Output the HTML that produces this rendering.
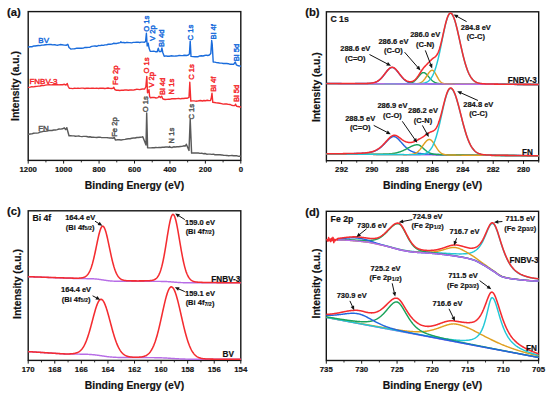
<!DOCTYPE html>
<html><head><meta charset="utf-8"><style>
html,body{margin:0;padding:0;background:#fff;}
body{width:550px;height:394px;overflow:hidden;}
svg{display:block;font-family:"Liberation Sans",sans-serif;}
</style></head><body>
<svg width="550" height="394" viewBox="0 0 550 394">
<rect width="550" height="394" fill="#fff"/>
<rect x="28.2" y="11.6" width="212.6" height="148.8" fill="none" stroke="#151515" stroke-width="1.4"/>
<line x1="28.2" y1="160.4" x2="28.2" y2="163.6" stroke="#151515" stroke-width="1"/>
<line x1="63.63" y1="160.4" x2="63.63" y2="163.6" stroke="#151515" stroke-width="1"/>
<line x1="99.07" y1="160.4" x2="99.07" y2="163.6" stroke="#151515" stroke-width="1"/>
<line x1="134.5" y1="160.4" x2="134.5" y2="163.6" stroke="#151515" stroke-width="1"/>
<line x1="169.93" y1="160.4" x2="169.93" y2="163.6" stroke="#151515" stroke-width="1"/>
<line x1="205.37" y1="160.4" x2="205.37" y2="163.6" stroke="#151515" stroke-width="1"/>
<line x1="240.8" y1="160.4" x2="240.8" y2="163.6" stroke="#151515" stroke-width="1"/>
<line x1="45.92" y1="160.4" x2="45.92" y2="162.4" stroke="#151515" stroke-width="0.9"/>
<line x1="81.35" y1="160.4" x2="81.35" y2="162.4" stroke="#151515" stroke-width="0.9"/>
<line x1="116.78" y1="160.4" x2="116.78" y2="162.4" stroke="#151515" stroke-width="0.9"/>
<line x1="152.22" y1="160.4" x2="152.22" y2="162.4" stroke="#151515" stroke-width="0.9"/>
<line x1="187.65" y1="160.4" x2="187.65" y2="162.4" stroke="#151515" stroke-width="0.9"/>
<line x1="223.08" y1="160.4" x2="223.08" y2="162.4" stroke="#151515" stroke-width="0.9"/>
<text x="28.2" y="172" font-size="7.8" font-weight="bold" text-anchor="middle" fill="#111" stroke="#111" stroke-width="0.18" >1200</text>
<text x="63.63" y="172" font-size="7.8" font-weight="bold" text-anchor="middle" fill="#111" stroke="#111" stroke-width="0.18" >1000</text>
<text x="99.07" y="172" font-size="7.8" font-weight="bold" text-anchor="middle" fill="#111" stroke="#111" stroke-width="0.18" >800</text>
<text x="134.5" y="172" font-size="7.8" font-weight="bold" text-anchor="middle" fill="#111" stroke="#111" stroke-width="0.18" >600</text>
<text x="169.93" y="172" font-size="7.8" font-weight="bold" text-anchor="middle" fill="#111" stroke="#111" stroke-width="0.18" >400</text>
<text x="205.37" y="172" font-size="7.8" font-weight="bold" text-anchor="middle" fill="#111" stroke="#111" stroke-width="0.18" >200</text>
<text x="240.8" y="172" font-size="7.8" font-weight="bold" text-anchor="middle" fill="#111" stroke="#111" stroke-width="0.18" >0</text>
<text x="134.5" y="189.2" font-size="10.4" font-weight="bold" text-anchor="middle" fill="#111" stroke="#111" stroke-width="0.18" >Binding Energy (eV)</text>
<text x="18.6" y="86" font-size="10.3" font-weight="bold" text-anchor="middle" fill="#111" stroke="#111" stroke-width="0.18" transform="rotate(-90 18.6 86)" >Intensity (a.u.)</text>
<text x="7" y="16.3" font-size="11.3" font-weight="bold" text-anchor="start" fill="#111" stroke="#111" stroke-width="0.18" >(a)</text>
<path d="M28.6 47 L30.23 46.74 L31.86 46.75 L33.49 46.05 L35.11 46.06 L36.74 45.75 L38.37 45.51 L40 45.6 L41.88 45.14 L43.76 45.01 L45.64 44.81 L47.52 44.67 L49.4 44.4 L51.05 44.49 L52.7 44.83 L54.35 44.64 L56 45 L58 45.2 L60 44.54 L62 44.8 L64.25 45.12 L66.5 45.2 L67.8 44.3 L69 47.5 L70.8 49.1 L72.64 48.86 L74.48 48.78 L76.32 48.31 L78.16 48.17 L80 48.2 L81.67 48.19 L83.33 48.09 L85 47.42 L86.67 47.47 L88.33 47.38 L90 47.18 L91.67 46.39 L93.33 46.14 L95 46.02 L96.67 46.3 L98.33 45.54 L100 45.6 L101.68 45.29 L103.37 45.42 L105.05 44.87 L106.73 44.73 L108.42 44.22 L110.1 44.23 L111.78 44.08 L113.47 43.26 L115.15 43.53 L116.83 43.44 L118.52 43.02 L120.2 42.6 L120.9 41.8 L121.6 42.6 L123.28 42.45 L124.96 42.8 L126.64 42.32 L128.32 42.56 L130 42.6 L131.61 42.85 L133.22 42.39 L134.83 42.35 L136.44 42.21 L138.06 42.1 L139.67 42.53 L141.28 42.16 L142.89 42.17 L144.5 42.3 L145.6 41.4 L146.4 33.3 L147.2 46 L148.2 43.2 L149 48 L150.2 51.2 L151.95 51.34 L153.7 51.19 L155.45 51.7 L157.2 51.8 L158.3 48.2 L159.3 51.6 L161 51.6 L161.9 48 L162.8 52.5 L164.2 56.2 L165.89 55.92 L167.57 56.21 L169.26 56.25 L170.94 55.81 L172.63 56 L174.31 56.16 L176 56 L177.76 55.8 L179.51 55.4 L181.27 55.6 L183.03 55.54 L184.79 55.3 L186.54 55.45 L188.3 55 L189.4 54 L190.2 41.1 L191 56.4 L195 56.8 L196.6 56.66 L198.2 56.68 L199.8 55.95 L201.4 55.75 L203 56.02 L204.6 55.53 L206.2 55.17 L207.8 55.5 L209.4 55 L210.8 53.5 L211.7 40.5 L212.2 44 L213.2 62 L214.89 62.11 L216.57 62.6 L218.26 62.8 L219.94 63.13 L221.63 63.16 L223.31 63.46 L225 63.5 L226.72 63.57 L228.44 63.7 L230.16 64.32 L231.88 64.17 L233.6 64.4 L235.3 62 L236.3 64.8 L238.4 65.78 L240.5 66.1" fill="none" stroke="#1a6cdc" stroke-width="1.4" stroke-linejoin="round" stroke-linecap="round" />
<path d="M28.6 87.4 L30.23 87.16 L31.86 86.67 L33.49 86.83 L35.11 86.55 L36.74 86.34 L38.37 86.08 L40 86 L41.8 85.55 L43.6 85.6 L45.4 85.14 L47.2 84.88 L49 84.8 L50.63 84.87 L52.26 84.79 L53.89 84.5 L55.51 84.75 L57.14 84.51 L58.77 84.91 L60.4 84.7 L62.45 84.75 L64.5 84.3 L66 85 L67.3 83.6 L68.2 86.5 L69.4 88.4 L71.12 88.4 L72.83 88.64 L74.55 88.11 L76.27 88.4 L77.98 88.1 L79.7 88.35 L81.42 88.12 L83.13 88.14 L84.85 88.47 L86.57 88.21 L88.28 88.12 L90 88.4 L91.64 88.19 L93.29 88.27 L94.93 88.33 L96.57 88.13 L98.21 88.43 L99.86 88.3 L101.5 88.3 L103.14 88.21 L104.79 88.48 L106.43 88.31 L108.07 88.01 L109.71 88.37 L111.36 88.54 L113 88.2 L113.8 87.2 L114.8 89.5 L116.5 90.3 L118.19 90.26 L119.88 90.5 L121.56 90.08 L123.25 90.2 L124.94 90.06 L126.62 90.03 L128.31 90.23 L130 90 L131.61 89.92 L133.22 90.12 L134.83 89.73 L136.44 89.31 L138.06 89.41 L139.67 89.65 L141.28 89.23 L142.89 88.87 L144.5 89.1 L145.8 87 L146.8 76.4 L147.5 92.8 L148.5 91.5 L149 89.6 L149.6 96.2 L150.2 97.7 L152.12 97.5 L154.05 97.35 L155.97 97.97 L157.9 97.6 L159.1 96.2 L160.4 97.6 L161.7 96.2 L162.6 98.6 L163.6 99.3 L165.27 99.56 L166.94 99.37 L168.61 99.16 L170.29 99.2 L171.96 98.71 L173.63 98.73 L175.3 98.82 L176.97 98.63 L178.64 98.34 L180.31 98.92 L181.99 98.47 L183.66 98.45 L185.33 98.25 L187 98.3 L189 97.4 L189.8 82.2 L190.8 101.1 L192.44 100.88 L194.08 100.92 L195.73 101.18 L197.37 101.07 L199.01 100.77 L200.65 100.46 L202.29 100.96 L203.93 100.54 L205.57 100.71 L207.22 100.27 L208.86 100.66 L210.5 100.5 L211.2 98.5 L212 93.2 L212.8 102.4 L214.54 102.55 L216.29 102.86 L218.03 103.03 L219.77 103.21 L221.51 103.58 L223.26 104.1 L225 104 L226.63 104 L228.27 104.4 L229.9 104.48 L231.53 105.23 L233.17 105.44 L234.8 105.6 L235.6 104.2 L236.6 106.2 L240.5 107" fill="none" stroke="#f42c30" stroke-width="1.4" stroke-linejoin="round" stroke-linecap="round" />
<path d="M28.6 134.3 L30.24 134.05 L31.88 133.87 L33.52 133.28 L35.16 133.15 L36.8 133.13 L38.44 132.84 L40.08 132.01 L41.72 131.78 L43.36 131.38 L45 131.4 L46.75 131.1 L48.5 130.55 L50.25 130.59 L52 130.46 L53.75 129.94 L55.5 129.96 L57.25 129.64 L59 128.99 L60.75 129.1 L62.5 128.8 L64.3 127.8 L65.6 129.6 L66.8 127.7 L69 135.8 L70.62 135.71 L72.23 135.89 L73.85 135.88 L75.46 136.24 L77.08 136.14 L78.69 136.02 L80.31 136.37 L81.92 136.61 L83.54 136.36 L85.15 136.37 L86.77 136.57 L88.38 137.03 L90 136.8 L91.66 137.23 L93.31 137.12 L94.97 137.38 L96.63 137.44 L98.29 137.21 L99.94 137.11 L101.6 137.61 L103.26 137.64 L104.91 137.6 L106.57 137.61 L108.23 137.83 L109.89 137.98 L111.54 137.94 L113.2 138.2 L114.3 137.4 L115.4 140.1 L117.32 139.81 L119.24 139.79 L121.16 139.93 L123.08 139.6 L125 139.4 L126.69 139.02 L128.38 138.78 L130.07 138.68 L131.76 138.27 L133.45 138.04 L135.14 138.03 L136.83 137.5 L138.52 137.55 L140.21 137.23 L141.9 137.1 L142.8 136.7 L146 145.1 L146.7 113 L147.6 147.8 L149.25 147.9 L150.89 147.88 L152.54 147.8 L154.18 147.75 L155.83 147.48 L157.48 147.64 L159.12 147.36 L160.77 147.48 L162.42 147.26 L164.06 147.3 L165.71 146.99 L167.35 147.07 L169 147.2 L169.6 146.4 L170.3 147.3 L171.98 147.49 L173.66 146.82 L175.33 147 L177.01 146.83 L178.69 146.73 L180.37 146.42 L182.04 146.36 L183.72 145.84 L185.4 146 L186.3 144.2 L189 150.4 L190.2 119.2 L191.6 153.1 L193.28 152.86 L194.96 153.01 L196.64 153.04 L198.32 153.06 L200 153.4 L201.67 153.26 L203.33 153.67 L205 153.53 L206.67 154.18 L208.33 154.11 L210 154.13 L211.67 154.36 L213.33 154.17 L215 154.75 L216.67 154.8 L218.33 154.84 L220 154.8 L221.71 154.91 L223.42 155.29 L225.12 155.35 L226.83 155.41 L228.54 155.71 L230.25 155.64 L231.96 155.58 L233.67 155.84 L235.38 155.71 L237.08 155.83 L238.79 156.33 L240.5 156.3" fill="none" stroke="#5a5a5a" stroke-width="1.45" stroke-linejoin="round" stroke-linecap="round" />
<text x="38.3" y="43.2" font-size="8.0" font-weight="normal" text-anchor="start" fill="#1a6cdc" stroke="#1a6cdc" stroke-width="0.45" >BV</text>
<text x="29.4" y="83.8" font-size="8.0" font-weight="normal" text-anchor="start" fill="#f42c30" stroke="#f42c30" stroke-width="0.45" >FNBV-3</text>
<text x="38.2" y="130.8" font-size="8.0" font-weight="normal" text-anchor="start" fill="#5a5a5a" stroke="#5a5a5a" stroke-width="0.45" >FN</text>
<text x="149.3" y="31.7" font-size="7.6" font-weight="normal" text-anchor="start" fill="#1a6cdc" stroke="#1a6cdc" stroke-width="0.45" transform="rotate(-90 149.3 31.7)" >O 1s</text>
<text x="154.6" y="41" font-size="7.6" font-weight="normal" text-anchor="start" fill="#1a6cdc" stroke="#1a6cdc" stroke-width="0.45" transform="rotate(-90 154.6 41)" >V 2p</text>
<text x="164.5" y="46.9" font-size="7.6" font-weight="normal" text-anchor="start" fill="#1a6cdc" stroke="#1a6cdc" stroke-width="0.45" transform="rotate(-90 164.5 46.9)" >Bi 4d</text>
<text x="193.1" y="40.4" font-size="7.6" font-weight="normal" text-anchor="start" fill="#1a6cdc" stroke="#1a6cdc" stroke-width="0.45" transform="rotate(-90 193.1 40.4)" >C 1s</text>
<text x="216.5" y="39.4" font-size="7.6" font-weight="normal" text-anchor="start" fill="#1a6cdc" stroke="#1a6cdc" stroke-width="0.45" transform="rotate(-90 216.5 39.4)" >Bi 4f</text>
<text x="239" y="61.2" font-size="7.6" font-weight="normal" text-anchor="start" fill="#1a6cdc" stroke="#1a6cdc" stroke-width="0.45" transform="rotate(-90 239 61.2)" >Bi 5d</text>
<text x="149.1" y="73.4" font-size="7.6" font-weight="normal" text-anchor="start" fill="#f42c30" stroke="#f42c30" stroke-width="0.45" transform="rotate(-90 149.1 73.4)" >O 1s</text>
<text x="154.5" y="87.6" font-size="7.6" font-weight="normal" text-anchor="start" fill="#f42c30" stroke="#f42c30" stroke-width="0.45" transform="rotate(-90 154.5 87.6)" >V 2p</text>
<text x="164.6" y="95" font-size="7.6" font-weight="normal" text-anchor="start" fill="#f42c30" stroke="#f42c30" stroke-width="0.45" transform="rotate(-90 164.6 95)" >Bi 4d</text>
<text x="173.6" y="94.4" font-size="7.6" font-weight="normal" text-anchor="start" fill="#f42c30" stroke="#f42c30" stroke-width="0.45" transform="rotate(-90 173.6 94.4)" >N 1s</text>
<text x="193.8" y="79.8" font-size="7.6" font-weight="normal" text-anchor="start" fill="#f42c30" stroke="#f42c30" stroke-width="0.45" transform="rotate(-90 193.8 79.8)" >C 1s</text>
<text x="216.4" y="91.8" font-size="7.6" font-weight="normal" text-anchor="start" fill="#f42c30" stroke="#f42c30" stroke-width="0.45" transform="rotate(-90 216.4 91.8)" >Bi 4f</text>
<text x="239.3" y="102" font-size="7.6" font-weight="normal" text-anchor="start" fill="#f42c30" stroke="#f42c30" stroke-width="0.45" transform="rotate(-90 239.3 102)" >Bi 5d</text>
<text x="117.5" y="85" font-size="7.6" font-weight="normal" text-anchor="start" fill="#f42c30" stroke="#f42c30" stroke-width="0.45" transform="rotate(-90 117.5 85)" >Fe 2p</text>
<text x="148.4" y="112.3" font-size="7.6" font-weight="normal" text-anchor="start" fill="#5a5a5a" stroke="#5a5a5a" stroke-width="0.45" transform="rotate(-90 148.4 112.3)" >O 1s</text>
<text x="174" y="143.4" font-size="7.6" font-weight="normal" text-anchor="start" fill="#5a5a5a" stroke="#5a5a5a" stroke-width="0.45" transform="rotate(-90 174 143.4)" >N 1s</text>
<text x="193.6" y="119.5" font-size="7.6" font-weight="normal" text-anchor="start" fill="#5a5a5a" stroke="#5a5a5a" stroke-width="0.45" transform="rotate(-90 193.6 119.5)" >C 1s</text>
<text x="117" y="136.8" font-size="7.6" font-weight="normal" text-anchor="start" fill="#5a5a5a" stroke="#5a5a5a" stroke-width="0.45" transform="rotate(-90 117 136.8)" >Fe 2p</text>
<rect x="326.4" y="11.8" width="212.3" height="148.9" fill="none" stroke="#151515" stroke-width="1.4"/>
<line x1="341.56" y1="160.7" x2="341.56" y2="163.9" stroke="#151515" stroke-width="1"/>
<line x1="371.89" y1="160.7" x2="371.89" y2="163.9" stroke="#151515" stroke-width="1"/>
<line x1="402.22" y1="160.7" x2="402.22" y2="163.9" stroke="#151515" stroke-width="1"/>
<line x1="432.55" y1="160.7" x2="432.55" y2="163.9" stroke="#151515" stroke-width="1"/>
<line x1="462.88" y1="160.7" x2="462.88" y2="163.9" stroke="#151515" stroke-width="1"/>
<line x1="493.21" y1="160.7" x2="493.21" y2="163.9" stroke="#151515" stroke-width="1"/>
<line x1="523.54" y1="160.7" x2="523.54" y2="163.9" stroke="#151515" stroke-width="1"/>
<line x1="326.4" y1="160.7" x2="326.4" y2="162.7" stroke="#151515" stroke-width="0.9"/>
<line x1="356.73" y1="160.7" x2="356.73" y2="162.7" stroke="#151515" stroke-width="0.9"/>
<line x1="387.06" y1="160.7" x2="387.06" y2="162.7" stroke="#151515" stroke-width="0.9"/>
<line x1="417.39" y1="160.7" x2="417.39" y2="162.7" stroke="#151515" stroke-width="0.9"/>
<line x1="447.71" y1="160.7" x2="447.71" y2="162.7" stroke="#151515" stroke-width="0.9"/>
<line x1="478.04" y1="160.7" x2="478.04" y2="162.7" stroke="#151515" stroke-width="0.9"/>
<line x1="508.37" y1="160.7" x2="508.37" y2="162.7" stroke="#151515" stroke-width="0.9"/>
<line x1="538.7" y1="160.7" x2="538.7" y2="162.7" stroke="#151515" stroke-width="0.9"/>
<text x="341.56" y="172.3" font-size="7.8" font-weight="bold" text-anchor="middle" fill="#111" stroke="#111" stroke-width="0.18" >292</text>
<text x="371.89" y="172.3" font-size="7.8" font-weight="bold" text-anchor="middle" fill="#111" stroke="#111" stroke-width="0.18" >290</text>
<text x="402.22" y="172.3" font-size="7.8" font-weight="bold" text-anchor="middle" fill="#111" stroke="#111" stroke-width="0.18" >288</text>
<text x="432.55" y="172.3" font-size="7.8" font-weight="bold" text-anchor="middle" fill="#111" stroke="#111" stroke-width="0.18" >286</text>
<text x="462.88" y="172.3" font-size="7.8" font-weight="bold" text-anchor="middle" fill="#111" stroke="#111" stroke-width="0.18" >284</text>
<text x="493.21" y="172.3" font-size="7.8" font-weight="bold" text-anchor="middle" fill="#111" stroke="#111" stroke-width="0.18" >282</text>
<text x="523.54" y="172.3" font-size="7.8" font-weight="bold" text-anchor="middle" fill="#111" stroke="#111" stroke-width="0.18" >280</text>
<text x="432.55" y="189.4" font-size="10.4" font-weight="bold" text-anchor="middle" fill="#111" stroke="#111" stroke-width="0.18" >Binding Energy (eV)</text>
<text x="320.3" y="87.2" font-size="10.3" font-weight="bold" text-anchor="middle" fill="#111" stroke="#111" stroke-width="0.18" transform="rotate(-90 320.3 87.2)" >Intensity (a.u.)</text>
<text x="305.2" y="15.8" font-size="11.3" font-weight="bold" text-anchor="start" fill="#111" stroke="#111" stroke-width="0.18" >(b)</text>
<text x="330.4" y="21.8" font-size="8.7" font-weight="bold" text-anchor="start" fill="#111" stroke="#111" stroke-width="0.18" >C 1s</text>
<path d="M327 83.56 L327.42 83.56 L327.85 83.56 L328.27 83.56 L328.69 83.57 L329.12 83.57 L329.54 83.57 L329.96 83.57 L330.38 83.57 L330.81 83.57 L331.23 83.57 L331.65 83.57 L332.08 83.57 L332.5 83.58 L332.92 83.58 L333.35 83.58 L333.77 83.58 L334.19 83.58 L334.61 83.58 L335.04 83.58 L335.46 83.58 L335.88 83.58 L336.31 83.58 L336.73 83.59 L337.15 83.59 L337.58 83.59 L338 83.59 L338.42 83.59 L338.85 83.59 L339.27 83.59 L339.69 83.59 L340.11 83.59 L340.54 83.59 L340.96 83.59 L341.38 83.59 L341.81 83.6 L342.23 83.6 L342.65 83.6 L343.08 83.6 L343.5 83.6 L343.92 83.6 L344.34 83.6 L344.77 83.6 L345.19 83.6 L345.61 83.6 L346.04 83.6 L346.46 83.6 L346.88 83.6 L347.31 83.6 L347.73 83.6 L348.15 83.6 L348.58 83.6 L349 83.6 L349.42 83.6 L349.84 83.6 L350.27 83.6 L350.69 83.6 L351.11 83.6 L351.54 83.6 L351.96 83.6 L352.38 83.6 L352.81 83.6 L353.23 83.6 L353.65 83.6 L354.07 83.6 L354.5 83.6 L354.92 83.6 L355.34 83.59 L355.77 83.59 L356.19 83.59 L356.61 83.59 L357.04 83.59 L357.46 83.59 L357.88 83.59 L358.31 83.59 L358.73 83.58 L359.15 83.58 L359.57 83.58 L360 83.58 L360.42 83.57 L360.84 83.57 L361.27 83.57 L361.69 83.57 L362.11 83.56 L362.54 83.56 L362.96 83.55 L363.38 83.55 L363.81 83.54 L364.23 83.54 L364.65 83.53 L365.07 83.52 L365.5 83.51 L365.92 83.51 L366.34 83.49 L366.77 83.48 L367.19 83.47 L367.61 83.45 L368.04 83.44 L368.46 83.42 L368.88 83.39 L369.3 83.37 L369.73 83.34 L370.15 83.31 L370.57 83.27 L371 83.22 L371.42 83.17 L371.84 83.12 L372.27 83.06 L372.69 82.98 L373.11 82.9 L373.54 82.81 L373.96 82.71 L374.38 82.6 L374.8 82.47 L375.23 82.33 L375.65 82.18 L376.07 82.01 L376.5 81.82 L376.92 81.61 L377.34 81.38 L377.77 81.13 L378.19 80.87 L378.61 80.58 L379.03 80.26 L379.46 79.93 L379.88 79.57 L380.3 79.19 L380.73 78.79 L381.15 78.36 L381.57 77.92 L382 77.45 L382.42 76.96 L382.84 76.46 L383.27 75.94 L383.69 75.4 L384.11 74.86 L384.53 74.31 L384.96 73.75 L385.38 73.19 L385.8 72.64 L386.23 72.09 L386.65 71.55 L387.07 71.02 L387.5 70.52 L387.92 70.04 L388.34 69.59 L388.76 69.17 L389.19 68.78 L389.61 68.44 L390.03 68.15 L390.46 67.91 L390.88 67.71 L391.3 67.58 L391.73 67.5 L392.15 67.48 L392.57 67.52 L393 67.61 L393.42 67.77 L393.84 67.97 L394.26 68.23 L394.69 68.54 L395.11 68.89 L395.53 69.29 L395.96 69.72 L396.38 70.18 L396.8 70.67 L397.23 71.19 L397.65 71.72 L398.07 72.26 L398.49 72.82 L398.92 73.38 L399.34 73.94 L399.76 74.5 L400.19 75.05 L400.61 75.6 L401.03 76.13 L401.46 76.65 L401.88 77.16 L402.3 77.64 L402.73 78.11 L403.15 78.56 L403.57 78.98 L403.99 79.38 L404.42 79.76 L404.84 80.12 L405.26 80.45 L405.69 80.76 L406.11 81.05 L406.53 81.32 L406.96 81.56 L407.38 81.79 L407.8 81.99 L408.22 82.18 L408.65 82.35 L409.07 82.51 L409.49 82.65 L409.92 82.78 L410.34 82.89 L410.76 82.99 L411.19 83.09 L411.61 83.17 L412.03 83.24 L412.46 83.31 L412.88 83.36 L413.3 83.41 L413.72 83.46 L414.15 83.5 L414.57 83.54 L414.99 83.57 L415.42 83.6 L415.84 83.62 L416.26 83.65 L416.69 83.67 L417.11 83.68 L417.53 83.7 L417.95 83.72 L418.38 83.73 L418.8 83.74 L419.22 83.75 L419.65 83.77 L420.07 83.78 L420.49 83.78 L420.92 83.79 L421.34 83.8 L421.76 83.81 L422.19 83.82 L422.61 83.82 L423.03 83.83 L423.45 83.84 L423.88 83.84 L424.3 83.85 L424.72 83.86 L425.15 83.86 L425.57 83.87 L425.99 83.87 L426.42 83.88 L426.84 83.88 L427.26 83.89 L427.68 83.89 L428.11 83.9 L428.53 83.9 L428.95 83.91 L429.38 83.91 L429.8 83.92 L430.22 83.92 L430.65 83.93 L431.07 83.93 L431.49 83.93 L431.92 83.94 L432.34 83.94 L432.76 83.95 L433.18 83.95 L433.61 83.95 L434.03 83.96 L434.45 83.96 L434.88 83.96 L435.3 83.97 L435.72 83.97 L436.15 83.97 L436.57 83.98 L436.99 83.98 L437.42 83.99 L437.84 83.99 L438.26 83.99 L438.68 83.99 L439.11 84 L439.53 84 L439.95 84 L440.38 84.01 L440.8 84.01 L441.22 84.01 L441.65 84.02 L442.07 84.02 L442.49 84.02 L442.91 84.03 L443.34 84.03 L443.76 84.03 L444.18 84.03 L444.61 84.04 L445.03 84.04 L445.45 84.04 L445.88 84.05 L446.3 84.05 L446.72 84.05 L447.15 84.05 L447.57 84.06 L447.99 84.06 L448.41 84.06 L448.84 84.06 L449.26 84.07 L449.68 84.07 L450.11 84.07 L450.53 84.07 L450.95 84.08 L451.38 84.08 L451.8 84.08 L452.22 84.08 L452.64 84.09 L453.07 84.09 L453.49 84.09 L453.91 84.09 L454.34 84.1 L454.76 84.1 L455.18 84.1 L455.61 84.1 L456.03 84.11 L456.45 84.11 L456.88 84.11 L457.3 84.11 L457.72 84.12 L458.14 84.12 L458.57 84.12 L458.99 84.12 L459.41 84.12 L459.84 84.13 L460.26 84.13 L460.68 84.13 L461.11 84.13 L461.53 84.14 L461.95 84.14 L462.37 84.14 L462.8 84.14 L463.22 84.14 L463.64 84.15 L464.07 84.15 L464.49 84.15 L464.91 84.15 L465.34 84.16 L465.76 84.16 L466.18 84.16 L466.61 84.16 L467.03 84.16 L467.45 84.17 L467.87 84.17 L468.3 84.17 L468.72 84.17 L469.14 84.17 L469.57 84.18 L469.99 84.18 L470.41 84.18 L470.84 84.18 L471.26 84.19 L471.68 84.19 L472.1 84.19 L472.53 84.19 L472.95 84.19 L473.37 84.2 L473.8 84.2 L474.22 84.2 L474.64 84.2 L475.07 84.2 L475.49 84.21 L475.91 84.21 L476.34 84.21 L476.76 84.21 L477.18 84.21 L477.6 84.22 L478.03 84.22 L478.45 84.22 L478.87 84.22 L479.3 84.22 L479.72 84.23 L480.14 84.23 L480.57 84.23 L480.99 84.23 L481.41 84.23 L481.83 84.24 L482.26 84.24 L482.68 84.24 L483.1 84.24 L483.53 84.24 L483.95 84.25 L484.37 84.25 L484.8 84.25 L485.22 84.25 L485.64 84.25 L486.07 84.26 L486.49 84.26 L486.91 84.26 L487.33 84.26 L487.76 84.26 L488.18 84.27 L488.6 84.27 L489.03 84.27 L489.45 84.27 L489.87 84.27 L490.3 84.28 L490.72 84.28 L491.14 84.28 L491.56 84.28 L491.99 84.28 L492.41 84.29 L492.83 84.29 L493.26 84.29 L493.68 84.29 L494.1 84.29 L494.53 84.3 L494.95 84.3 L495.37 84.3 L495.8 84.3 L496.22 84.3 L496.64 84.31 L497.06 84.31 L497.49 84.31 L497.91 84.31 L498.33 84.31 L498.76 84.31 L499.18 84.32 L499.6 84.32 L500.03 84.32 L500.45 84.32 L500.87 84.32 L501.29 84.33 L501.72 84.33 L502.14 84.33 L502.56 84.33 L502.99 84.33 L503.41 84.34 L503.83 84.34 L504.26 84.34 L504.68 84.34 L505.1 84.34 L505.53 84.35 L505.95 84.35 L506.37 84.35 L506.79 84.35 L507.22 84.35 L507.64 84.35 L508.06 84.36 L508.49 84.36 L508.91 84.36 L509.33 84.36 L509.76 84.36 L510.18 84.37 L510.6 84.37 L511.03 84.37 L511.45 84.37 L511.87 84.37 L512.29 84.38 L512.72 84.38 L513.14 84.38 L513.56 84.38 L513.99 84.38 L514.41 84.38 L514.83 84.39 L515.26 84.39 L515.68 84.39 L516.1 84.39 L516.52 84.39 L516.95 84.4 L517.37 84.4 L517.79 84.4 L518.22 84.4 L518.64 84.4 L519.06 84.41 L519.49 84.41 L519.91 84.41 L520.33 84.41 L520.76 84.41 L521.18 84.41 L521.6 84.42 L522.02 84.42 L522.45 84.42 L522.87 84.42 L523.29 84.42 L523.72 84.43 L524.14 84.43 L524.56 84.43 L524.99 84.43 L525.41 84.43 L525.83 84.44 L526.25 84.44 L526.68 84.44 L527.1 84.44 L527.52 84.44 L527.95 84.44 L528.37 84.45 L528.79 84.45 L529.22 84.45 L529.64 84.45 L530.06 84.45 L530.49 84.46 L530.91 84.46 L531.33 84.46 L531.75 84.46 L532.18 84.46 L532.6 84.46 L533.02 84.47 L533.45 84.47 L533.87 84.47 L534.29 84.47 L534.72 84.47 L535.14 84.48 L535.56 84.48 L535.98 84.48 L536.41 84.48 L536.83 84.48 L537.25 84.49 L537.68 84.49 L538.1 84.49" fill="none" stroke="#2266dd" stroke-width="1.45" stroke-linejoin="round" stroke-linecap="round" />
<path d="M327 83.59 L327.42 83.59 L327.85 83.6 L328.27 83.6 L328.69 83.6 L329.12 83.6 L329.54 83.6 L329.96 83.6 L330.38 83.61 L330.81 83.61 L331.23 83.61 L331.65 83.61 L332.08 83.61 L332.5 83.61 L332.92 83.62 L333.35 83.62 L333.77 83.62 L334.19 83.62 L334.61 83.62 L335.04 83.63 L335.46 83.63 L335.88 83.63 L336.31 83.63 L336.73 83.63 L337.15 83.63 L337.58 83.64 L338 83.64 L338.42 83.64 L338.85 83.64 L339.27 83.64 L339.69 83.64 L340.11 83.65 L340.54 83.65 L340.96 83.65 L341.38 83.65 L341.81 83.65 L342.23 83.65 L342.65 83.66 L343.08 83.66 L343.5 83.66 L343.92 83.66 L344.34 83.66 L344.77 83.66 L345.19 83.66 L345.61 83.67 L346.04 83.67 L346.46 83.67 L346.88 83.67 L347.31 83.67 L347.73 83.67 L348.15 83.68 L348.58 83.68 L349 83.68 L349.42 83.68 L349.84 83.68 L350.27 83.68 L350.69 83.69 L351.11 83.69 L351.54 83.69 L351.96 83.69 L352.38 83.69 L352.81 83.69 L353.23 83.7 L353.65 83.7 L354.07 83.7 L354.5 83.7 L354.92 83.7 L355.34 83.7 L355.77 83.7 L356.19 83.71 L356.61 83.71 L357.04 83.71 L357.46 83.71 L357.88 83.71 L358.31 83.71 L358.73 83.72 L359.15 83.72 L359.57 83.72 L360 83.72 L360.42 83.72 L360.84 83.72 L361.27 83.72 L361.69 83.73 L362.11 83.73 L362.54 83.73 L362.96 83.73 L363.38 83.73 L363.81 83.73 L364.23 83.73 L364.65 83.74 L365.07 83.74 L365.5 83.74 L365.92 83.74 L366.34 83.74 L366.77 83.74 L367.19 83.74 L367.61 83.75 L368.04 83.75 L368.46 83.75 L368.88 83.75 L369.3 83.75 L369.73 83.75 L370.15 83.75 L370.57 83.76 L371 83.76 L371.42 83.76 L371.84 83.76 L372.27 83.76 L372.69 83.76 L373.11 83.76 L373.54 83.76 L373.96 83.77 L374.38 83.77 L374.8 83.77 L375.23 83.77 L375.65 83.77 L376.07 83.77 L376.5 83.77 L376.92 83.77 L377.34 83.77 L377.77 83.78 L378.19 83.78 L378.61 83.78 L379.03 83.78 L379.46 83.78 L379.88 83.78 L380.3 83.78 L380.73 83.78 L381.15 83.78 L381.57 83.78 L382 83.78 L382.42 83.78 L382.84 83.79 L383.27 83.79 L383.69 83.79 L384.11 83.79 L384.53 83.79 L384.96 83.79 L385.38 83.79 L385.8 83.79 L386.23 83.79 L386.65 83.79 L387.07 83.79 L387.5 83.79 L387.92 83.79 L388.34 83.79 L388.76 83.79 L389.19 83.79 L389.61 83.79 L390.03 83.79 L390.46 83.79 L390.88 83.79 L391.3 83.79 L391.73 83.79 L392.15 83.79 L392.57 83.79 L393 83.79 L393.42 83.79 L393.84 83.79 L394.26 83.79 L394.69 83.78 L395.11 83.78 L395.53 83.78 L395.96 83.78 L396.38 83.78 L396.8 83.78 L397.23 83.78 L397.65 83.77 L398.07 83.77 L398.49 83.77 L398.92 83.77 L399.34 83.76 L399.76 83.76 L400.19 83.76 L400.61 83.75 L401.03 83.75 L401.46 83.74 L401.88 83.74 L402.3 83.73 L402.73 83.72 L403.15 83.72 L403.57 83.71 L403.99 83.7 L404.42 83.69 L404.84 83.67 L405.26 83.66 L405.69 83.64 L406.11 83.62 L406.53 83.6 L406.96 83.57 L407.38 83.53 L407.8 83.5 L408.22 83.45 L408.65 83.39 L409.07 83.33 L409.49 83.25 L409.92 83.16 L410.34 83.06 L410.76 82.94 L411.19 82.81 L411.61 82.65 L412.03 82.47 L412.46 82.27 L412.88 82.05 L413.3 81.79 L413.72 81.51 L414.15 81.2 L414.57 80.87 L414.99 80.5 L415.42 80.11 L415.84 79.68 L416.26 79.24 L416.69 78.76 L417.11 78.27 L417.53 77.77 L417.95 77.25 L418.38 76.72 L418.8 76.2 L419.22 75.68 L419.65 75.18 L420.07 74.7 L420.49 74.25 L420.92 73.84 L421.34 73.47 L421.76 73.17 L422.19 72.92 L422.61 72.74 L423.03 72.64 L423.45 72.61 L423.88 72.66 L424.3 72.77 L424.72 72.96 L425.15 73.2 L425.57 73.5 L425.99 73.85 L426.42 74.25 L426.84 74.68 L427.26 75.14 L427.68 75.62 L428.11 76.11 L428.53 76.61 L428.95 77.12 L429.38 77.62 L429.8 78.11 L430.22 78.59 L430.65 79.05 L431.07 79.5 L431.49 79.92 L431.92 80.32 L432.34 80.69 L432.76 81.03 L433.18 81.35 L433.61 81.64 L434.03 81.91 L434.45 82.15 L434.88 82.37 L435.3 82.57 L435.72 82.74 L436.15 82.9 L436.57 83.03 L436.99 83.15 L437.42 83.26 L437.84 83.35 L438.26 83.43 L438.68 83.5 L439.11 83.56 L439.53 83.61 L439.95 83.65 L440.38 83.69 L440.8 83.72 L441.22 83.75 L441.65 83.78 L442.07 83.8 L442.49 83.82 L442.91 83.84 L443.34 83.85 L443.76 83.87 L444.18 83.88 L444.61 83.89 L445.03 83.9 L445.45 83.91 L445.88 83.92 L446.3 83.93 L446.72 83.94 L447.15 83.95 L447.57 83.95 L447.99 83.96 L448.41 83.97 L448.84 83.97 L449.26 83.98 L449.68 83.99 L450.11 83.99 L450.53 84 L450.95 84 L451.38 84.01 L451.8 84.01 L452.22 84.02 L452.64 84.02 L453.07 84.03 L453.49 84.03 L453.91 84.04 L454.34 84.04 L454.76 84.05 L455.18 84.05 L455.61 84.06 L456.03 84.06 L456.45 84.06 L456.88 84.07 L457.3 84.07 L457.72 84.08 L458.14 84.08 L458.57 84.08 L458.99 84.09 L459.41 84.09 L459.84 84.09 L460.26 84.1 L460.68 84.1 L461.11 84.1 L461.53 84.11 L461.95 84.11 L462.37 84.11 L462.8 84.12 L463.22 84.12 L463.64 84.12 L464.07 84.13 L464.49 84.13 L464.91 84.13 L465.34 84.13 L465.76 84.14 L466.18 84.14 L466.61 84.14 L467.03 84.15 L467.45 84.15 L467.87 84.15 L468.3 84.15 L468.72 84.16 L469.14 84.16 L469.57 84.16 L469.99 84.16 L470.41 84.17 L470.84 84.17 L471.26 84.17 L471.68 84.17 L472.1 84.18 L472.53 84.18 L472.95 84.18 L473.37 84.18 L473.8 84.19 L474.22 84.19 L474.64 84.19 L475.07 84.19 L475.49 84.2 L475.91 84.2 L476.34 84.2 L476.76 84.2 L477.18 84.21 L477.6 84.21 L478.03 84.21 L478.45 84.21 L478.87 84.21 L479.3 84.22 L479.72 84.22 L480.14 84.22 L480.57 84.22 L480.99 84.23 L481.41 84.23 L481.83 84.23 L482.26 84.23 L482.68 84.23 L483.1 84.24 L483.53 84.24 L483.95 84.24 L484.37 84.24 L484.8 84.25 L485.22 84.25 L485.64 84.25 L486.07 84.25 L486.49 84.25 L486.91 84.26 L487.33 84.26 L487.76 84.26 L488.18 84.26 L488.6 84.26 L489.03 84.27 L489.45 84.27 L489.87 84.27 L490.3 84.27 L490.72 84.27 L491.14 84.28 L491.56 84.28 L491.99 84.28 L492.41 84.28 L492.83 84.29 L493.26 84.29 L493.68 84.29 L494.1 84.29 L494.53 84.29 L494.95 84.3 L495.37 84.3 L495.8 84.3 L496.22 84.3 L496.64 84.3 L497.06 84.31 L497.49 84.31 L497.91 84.31 L498.33 84.31 L498.76 84.31 L499.18 84.32 L499.6 84.32 L500.03 84.32 L500.45 84.32 L500.87 84.32 L501.29 84.33 L501.72 84.33 L502.14 84.33 L502.56 84.33 L502.99 84.33 L503.41 84.33 L503.83 84.34 L504.26 84.34 L504.68 84.34 L505.1 84.34 L505.53 84.34 L505.95 84.35 L506.37 84.35 L506.79 84.35 L507.22 84.35 L507.64 84.35 L508.06 84.36 L508.49 84.36 L508.91 84.36 L509.33 84.36 L509.76 84.36 L510.18 84.37 L510.6 84.37 L511.03 84.37 L511.45 84.37 L511.87 84.37 L512.29 84.38 L512.72 84.38 L513.14 84.38 L513.56 84.38 L513.99 84.38 L514.41 84.39 L514.83 84.39 L515.26 84.39 L515.68 84.39 L516.1 84.39 L516.52 84.39 L516.95 84.4 L517.37 84.4 L517.79 84.4 L518.22 84.4 L518.64 84.4 L519.06 84.41 L519.49 84.41 L519.91 84.41 L520.33 84.41 L520.76 84.41 L521.18 84.42 L521.6 84.42 L522.02 84.42 L522.45 84.42 L522.87 84.42 L523.29 84.42 L523.72 84.43 L524.14 84.43 L524.56 84.43 L524.99 84.43 L525.41 84.43 L525.83 84.44 L526.25 84.44 L526.68 84.44 L527.1 84.44 L527.52 84.44 L527.95 84.45 L528.37 84.45 L528.79 84.45 L529.22 84.45 L529.64 84.45 L530.06 84.45 L530.49 84.46 L530.91 84.46 L531.33 84.46 L531.75 84.46 L532.18 84.46 L532.6 84.47 L533.02 84.47 L533.45 84.47 L533.87 84.47 L534.29 84.47 L534.72 84.48 L535.14 84.48 L535.56 84.48 L535.98 84.48 L536.41 84.48 L536.83 84.48 L537.25 84.49 L537.68 84.49 L538.1 84.49" fill="none" stroke="#1aa35a" stroke-width="1.45" stroke-linejoin="round" stroke-linecap="round" />
<path d="M327 83.6 L327.42 83.6 L327.85 83.6 L328.27 83.61 L328.69 83.61 L329.12 83.61 L329.54 83.61 L329.96 83.61 L330.38 83.61 L330.81 83.62 L331.23 83.62 L331.65 83.62 L332.08 83.62 L332.5 83.62 L332.92 83.62 L333.35 83.63 L333.77 83.63 L334.19 83.63 L334.61 83.63 L335.04 83.63 L335.46 83.64 L335.88 83.64 L336.31 83.64 L336.73 83.64 L337.15 83.64 L337.58 83.64 L338 83.65 L338.42 83.65 L338.85 83.65 L339.27 83.65 L339.69 83.65 L340.11 83.66 L340.54 83.66 L340.96 83.66 L341.38 83.66 L341.81 83.66 L342.23 83.66 L342.65 83.67 L343.08 83.67 L343.5 83.67 L343.92 83.67 L344.34 83.67 L344.77 83.67 L345.19 83.68 L345.61 83.68 L346.04 83.68 L346.46 83.68 L346.88 83.68 L347.31 83.68 L347.73 83.69 L348.15 83.69 L348.58 83.69 L349 83.69 L349.42 83.69 L349.84 83.7 L350.27 83.7 L350.69 83.7 L351.11 83.7 L351.54 83.7 L351.96 83.7 L352.38 83.71 L352.81 83.71 L353.23 83.71 L353.65 83.71 L354.07 83.71 L354.5 83.71 L354.92 83.72 L355.34 83.72 L355.77 83.72 L356.19 83.72 L356.61 83.72 L357.04 83.73 L357.46 83.73 L357.88 83.73 L358.31 83.73 L358.73 83.73 L359.15 83.73 L359.57 83.74 L360 83.74 L360.42 83.74 L360.84 83.74 L361.27 83.74 L361.69 83.74 L362.11 83.75 L362.54 83.75 L362.96 83.75 L363.38 83.75 L363.81 83.75 L364.23 83.75 L364.65 83.76 L365.07 83.76 L365.5 83.76 L365.92 83.76 L366.34 83.76 L366.77 83.76 L367.19 83.77 L367.61 83.77 L368.04 83.77 L368.46 83.77 L368.88 83.77 L369.3 83.78 L369.73 83.78 L370.15 83.78 L370.57 83.78 L371 83.78 L371.42 83.78 L371.84 83.79 L372.27 83.79 L372.69 83.79 L373.11 83.79 L373.54 83.79 L373.96 83.79 L374.38 83.8 L374.8 83.8 L375.23 83.8 L375.65 83.8 L376.07 83.8 L376.5 83.8 L376.92 83.81 L377.34 83.81 L377.77 83.81 L378.19 83.81 L378.61 83.81 L379.03 83.81 L379.46 83.82 L379.88 83.82 L380.3 83.82 L380.73 83.82 L381.15 83.82 L381.57 83.82 L382 83.83 L382.42 83.83 L382.84 83.83 L383.27 83.83 L383.69 83.83 L384.11 83.83 L384.53 83.83 L384.96 83.84 L385.38 83.84 L385.8 83.84 L386.23 83.84 L386.65 83.84 L387.07 83.84 L387.5 83.85 L387.92 83.85 L388.34 83.85 L388.76 83.85 L389.19 83.85 L389.61 83.85 L390.03 83.86 L390.46 83.86 L390.88 83.86 L391.3 83.86 L391.73 83.86 L392.15 83.86 L392.57 83.86 L393 83.87 L393.42 83.87 L393.84 83.87 L394.26 83.87 L394.69 83.87 L395.11 83.87 L395.53 83.87 L395.96 83.88 L396.38 83.88 L396.8 83.88 L397.23 83.88 L397.65 83.88 L398.07 83.88 L398.49 83.88 L398.92 83.88 L399.34 83.89 L399.76 83.89 L400.19 83.89 L400.61 83.89 L401.03 83.89 L401.46 83.89 L401.88 83.89 L402.3 83.89 L402.73 83.89 L403.15 83.9 L403.57 83.9 L403.99 83.9 L404.42 83.9 L404.84 83.9 L405.26 83.9 L405.69 83.9 L406.11 83.9 L406.53 83.9 L406.96 83.9 L407.38 83.9 L407.8 83.9 L408.22 83.9 L408.65 83.9 L409.07 83.9 L409.49 83.9 L409.92 83.9 L410.34 83.9 L410.76 83.9 L411.19 83.9 L411.61 83.9 L412.03 83.89 L412.46 83.89 L412.88 83.89 L413.3 83.88 L413.72 83.87 L414.15 83.86 L414.57 83.85 L414.99 83.83 L415.42 83.81 L415.84 83.79 L416.26 83.76 L416.69 83.72 L417.11 83.67 L417.53 83.61 L417.95 83.54 L418.38 83.46 L418.8 83.36 L419.22 83.24 L419.65 83.1 L420.07 82.93 L420.49 82.74 L420.92 82.52 L421.34 82.27 L421.76 81.99 L422.19 81.67 L422.61 81.31 L423.03 80.91 L423.45 80.48 L423.88 80.01 L424.3 79.5 L424.72 78.95 L425.15 78.37 L425.57 77.76 L425.99 77.13 L426.42 76.48 L426.84 75.82 L427.26 75.16 L427.68 74.5 L428.11 73.86 L428.53 73.24 L428.95 72.65 L429.38 72.11 L429.8 71.62 L430.22 71.2 L430.65 70.84 L431.07 70.56 L431.49 70.37 L431.92 70.27 L432.34 70.26 L432.76 70.36 L433.18 70.6 L433.61 70.95 L434.03 71.41 L434.45 71.97 L434.88 72.6 L435.3 73.3 L435.72 74.05 L436.15 74.83 L436.57 75.63 L436.99 76.42 L437.42 77.2 L437.84 77.95 L438.26 78.67 L438.68 79.34 L439.11 79.97 L439.53 80.54 L439.95 81.06 L440.38 81.52 L440.8 81.93 L441.22 82.29 L441.65 82.6 L442.07 82.86 L442.49 83.08 L442.91 83.27 L443.34 83.43 L443.76 83.56 L444.18 83.66 L444.61 83.74 L445.03 83.81 L445.45 83.87 L445.88 83.91 L446.3 83.95 L446.72 83.97 L447.15 83.99 L447.57 84.01 L447.99 84.03 L448.41 84.04 L448.84 84.05 L449.26 84.05 L449.68 84.06 L450.11 84.07 L450.53 84.07 L450.95 84.08 L451.38 84.08 L451.8 84.09 L452.22 84.09 L452.64 84.09 L453.07 84.1 L453.49 84.1 L453.91 84.1 L454.34 84.11 L454.76 84.11 L455.18 84.11 L455.61 84.12 L456.03 84.12 L456.45 84.12 L456.88 84.12 L457.3 84.13 L457.72 84.13 L458.14 84.13 L458.57 84.13 L458.99 84.14 L459.41 84.14 L459.84 84.14 L460.26 84.14 L460.68 84.15 L461.11 84.15 L461.53 84.15 L461.95 84.15 L462.37 84.16 L462.8 84.16 L463.22 84.16 L463.64 84.16 L464.07 84.17 L464.49 84.17 L464.91 84.17 L465.34 84.17 L465.76 84.17 L466.18 84.18 L466.61 84.18 L467.03 84.18 L467.45 84.18 L467.87 84.19 L468.3 84.19 L468.72 84.19 L469.14 84.19 L469.57 84.19 L469.99 84.2 L470.41 84.2 L470.84 84.2 L471.26 84.2 L471.68 84.2 L472.1 84.21 L472.53 84.21 L472.95 84.21 L473.37 84.21 L473.8 84.21 L474.22 84.22 L474.64 84.22 L475.07 84.22 L475.49 84.22 L475.91 84.22 L476.34 84.23 L476.76 84.23 L477.18 84.23 L477.6 84.23 L478.03 84.23 L478.45 84.24 L478.87 84.24 L479.3 84.24 L479.72 84.24 L480.14 84.24 L480.57 84.25 L480.99 84.25 L481.41 84.25 L481.83 84.25 L482.26 84.25 L482.68 84.26 L483.1 84.26 L483.53 84.26 L483.95 84.26 L484.37 84.26 L484.8 84.26 L485.22 84.27 L485.64 84.27 L486.07 84.27 L486.49 84.27 L486.91 84.27 L487.33 84.28 L487.76 84.28 L488.18 84.28 L488.6 84.28 L489.03 84.28 L489.45 84.29 L489.87 84.29 L490.3 84.29 L490.72 84.29 L491.14 84.29 L491.56 84.29 L491.99 84.3 L492.41 84.3 L492.83 84.3 L493.26 84.3 L493.68 84.3 L494.1 84.31 L494.53 84.31 L494.95 84.31 L495.37 84.31 L495.8 84.31 L496.22 84.32 L496.64 84.32 L497.06 84.32 L497.49 84.32 L497.91 84.32 L498.33 84.32 L498.76 84.33 L499.18 84.33 L499.6 84.33 L500.03 84.33 L500.45 84.33 L500.87 84.34 L501.29 84.34 L501.72 84.34 L502.14 84.34 L502.56 84.34 L502.99 84.34 L503.41 84.35 L503.83 84.35 L504.26 84.35 L504.68 84.35 L505.1 84.35 L505.53 84.36 L505.95 84.36 L506.37 84.36 L506.79 84.36 L507.22 84.36 L507.64 84.37 L508.06 84.37 L508.49 84.37 L508.91 84.37 L509.33 84.37 L509.76 84.37 L510.18 84.38 L510.6 84.38 L511.03 84.38 L511.45 84.38 L511.87 84.38 L512.29 84.39 L512.72 84.39 L513.14 84.39 L513.56 84.39 L513.99 84.39 L514.41 84.39 L514.83 84.4 L515.26 84.4 L515.68 84.4 L516.1 84.4 L516.52 84.4 L516.95 84.41 L517.37 84.41 L517.79 84.41 L518.22 84.41 L518.64 84.41 L519.06 84.41 L519.49 84.42 L519.91 84.42 L520.33 84.42 L520.76 84.42 L521.18 84.42 L521.6 84.43 L522.02 84.43 L522.45 84.43 L522.87 84.43 L523.29 84.43 L523.72 84.43 L524.14 84.44 L524.56 84.44 L524.99 84.44 L525.41 84.44 L525.83 84.44 L526.25 84.45 L526.68 84.45 L527.1 84.45 L527.52 84.45 L527.95 84.45 L528.37 84.45 L528.79 84.46 L529.22 84.46 L529.64 84.46 L530.06 84.46 L530.49 84.46 L530.91 84.47 L531.33 84.47 L531.75 84.47 L532.18 84.47 L532.6 84.47 L533.02 84.47 L533.45 84.48 L533.87 84.48 L534.29 84.48 L534.72 84.48 L535.14 84.48 L535.56 84.48 L535.98 84.49 L536.41 84.49 L536.83 84.49 L537.25 84.49 L537.68 84.49 L538.1 84.5" fill="none" stroke="#e0a021" stroke-width="1.45" stroke-linejoin="round" stroke-linecap="round" />
<path d="M327 83.58 L327.42 83.59 L327.85 83.59 L328.27 83.59 L328.69 83.59 L329.12 83.59 L329.54 83.59 L329.96 83.6 L330.38 83.6 L330.81 83.6 L331.23 83.6 L331.65 83.6 L332.08 83.6 L332.5 83.61 L332.92 83.61 L333.35 83.61 L333.77 83.61 L334.19 83.61 L334.61 83.61 L335.04 83.62 L335.46 83.62 L335.88 83.62 L336.31 83.62 L336.73 83.62 L337.15 83.62 L337.58 83.62 L338 83.63 L338.42 83.63 L338.85 83.63 L339.27 83.63 L339.69 83.63 L340.11 83.63 L340.54 83.64 L340.96 83.64 L341.38 83.64 L341.81 83.64 L342.23 83.64 L342.65 83.64 L343.08 83.65 L343.5 83.65 L343.92 83.65 L344.34 83.65 L344.77 83.65 L345.19 83.65 L345.61 83.66 L346.04 83.66 L346.46 83.66 L346.88 83.66 L347.31 83.66 L347.73 83.66 L348.15 83.66 L348.58 83.67 L349 83.67 L349.42 83.67 L349.84 83.67 L350.27 83.67 L350.69 83.67 L351.11 83.68 L351.54 83.68 L351.96 83.68 L352.38 83.68 L352.81 83.68 L353.23 83.68 L353.65 83.69 L354.07 83.69 L354.5 83.69 L354.92 83.69 L355.34 83.69 L355.77 83.69 L356.19 83.69 L356.61 83.7 L357.04 83.7 L357.46 83.7 L357.88 83.7 L358.31 83.7 L358.73 83.7 L359.15 83.7 L359.57 83.71 L360 83.71 L360.42 83.71 L360.84 83.71 L361.27 83.71 L361.69 83.71 L362.11 83.71 L362.54 83.72 L362.96 83.72 L363.38 83.72 L363.81 83.72 L364.23 83.72 L364.65 83.72 L365.07 83.72 L365.5 83.73 L365.92 83.73 L366.34 83.73 L366.77 83.73 L367.19 83.73 L367.61 83.73 L368.04 83.73 L368.46 83.74 L368.88 83.74 L369.3 83.74 L369.73 83.74 L370.15 83.74 L370.57 83.74 L371 83.74 L371.42 83.75 L371.84 83.75 L372.27 83.75 L372.69 83.75 L373.11 83.75 L373.54 83.75 L373.96 83.75 L374.38 83.75 L374.8 83.76 L375.23 83.76 L375.65 83.76 L376.07 83.76 L376.5 83.76 L376.92 83.76 L377.34 83.76 L377.77 83.76 L378.19 83.77 L378.61 83.77 L379.03 83.77 L379.46 83.77 L379.88 83.77 L380.3 83.77 L380.73 83.77 L381.15 83.77 L381.57 83.77 L382 83.78 L382.42 83.78 L382.84 83.78 L383.27 83.78 L383.69 83.78 L384.11 83.78 L384.53 83.78 L384.96 83.78 L385.38 83.78 L385.8 83.78 L386.23 83.79 L386.65 83.79 L387.07 83.79 L387.5 83.79 L387.92 83.79 L388.34 83.79 L388.76 83.79 L389.19 83.79 L389.61 83.79 L390.03 83.79 L390.46 83.79 L390.88 83.79 L391.3 83.8 L391.73 83.8 L392.15 83.8 L392.57 83.8 L393 83.8 L393.42 83.8 L393.84 83.8 L394.26 83.8 L394.69 83.8 L395.11 83.8 L395.53 83.8 L395.96 83.8 L396.38 83.8 L396.8 83.8 L397.23 83.8 L397.65 83.8 L398.07 83.8 L398.49 83.8 L398.92 83.8 L399.34 83.8 L399.76 83.8 L400.19 83.8 L400.61 83.8 L401.03 83.8 L401.46 83.8 L401.88 83.8 L402.3 83.8 L402.73 83.8 L403.15 83.8 L403.57 83.8 L403.99 83.8 L404.42 83.8 L404.84 83.8 L405.26 83.8 L405.69 83.8 L406.11 83.8 L406.53 83.8 L406.96 83.8 L407.38 83.8 L407.8 83.79 L408.22 83.79 L408.65 83.79 L409.07 83.79 L409.49 83.79 L409.92 83.79 L410.34 83.79 L410.76 83.78 L411.19 83.78 L411.61 83.78 L412.03 83.78 L412.46 83.77 L412.88 83.77 L413.3 83.77 L413.72 83.76 L414.15 83.76 L414.57 83.76 L414.99 83.75 L415.42 83.74 L415.84 83.74 L416.26 83.73 L416.69 83.72 L417.11 83.71 L417.53 83.7 L417.95 83.69 L418.38 83.67 L418.8 83.66 L419.22 83.64 L419.65 83.62 L420.07 83.59 L420.49 83.56 L420.92 83.53 L421.34 83.49 L421.76 83.44 L422.19 83.39 L422.61 83.34 L423.03 83.27 L423.45 83.19 L423.88 83.11 L424.3 83.01 L424.72 82.9 L425.15 82.77 L425.57 82.63 L425.99 82.46 L426.42 82.28 L426.84 82.08 L427.26 81.84 L427.68 81.59 L428.11 81.3 L428.53 80.98 L428.95 80.62 L429.38 80.23 L429.8 79.8 L430.22 79.32 L430.65 78.79 L431.07 78.22 L431.49 77.59 L431.92 76.9 L432.34 76.15 L432.76 75.35 L433.18 74.47 L433.61 73.53 L434.03 72.52 L434.45 71.44 L434.88 70.28 L435.3 69.05 L435.72 67.75 L436.15 66.37 L436.57 64.91 L436.99 63.38 L437.42 61.78 L437.84 60.11 L438.26 58.36 L438.68 56.56 L439.11 54.69 L439.53 52.78 L439.95 50.81 L440.38 48.8 L440.8 46.75 L441.22 44.68 L441.65 42.59 L442.07 40.49 L442.49 38.39 L442.91 36.31 L443.34 34.25 L443.76 32.22 L444.18 30.23 L444.61 28.31 L445.03 26.45 L445.45 24.67 L445.88 22.99 L446.3 21.41 L446.72 19.94 L447.15 18.6 L447.57 17.39 L447.99 16.33 L448.41 15.41 L448.84 14.66 L449.26 14.07 L449.68 13.65 L450.11 13.4 L450.53 13.33 L450.95 13.41 L451.38 13.65 L451.8 14.02 L452.22 14.55 L452.64 15.21 L453.07 16 L453.49 16.93 L453.91 17.98 L454.34 19.15 L454.76 20.42 L455.18 21.8 L455.61 23.28 L456.03 24.84 L456.45 26.48 L456.88 28.18 L457.3 29.95 L457.72 31.76 L458.14 33.62 L458.57 35.5 L458.99 37.41 L459.41 39.34 L459.84 41.27 L460.26 43.2 L460.68 45.12 L461.11 47.02 L461.53 48.9 L461.95 50.75 L462.37 52.57 L462.8 54.34 L463.22 56.07 L463.64 57.75 L464.07 59.38 L464.49 60.95 L464.91 62.47 L465.34 63.92 L465.76 65.31 L466.18 66.64 L466.61 67.91 L467.03 69.11 L467.45 70.25 L467.87 71.33 L468.3 72.35 L468.72 73.3 L469.14 74.19 L469.57 75.03 L469.99 75.81 L470.41 76.54 L470.84 77.21 L471.26 77.84 L471.68 78.41 L472.1 78.95 L472.53 79.44 L472.95 79.89 L473.37 80.3 L473.8 80.67 L474.22 81.02 L474.64 81.33 L475.07 81.61 L475.49 81.87 L475.91 82.11 L476.34 82.32 L476.76 82.51 L477.18 82.68 L477.6 82.83 L478.03 82.97 L478.45 83.09 L478.87 83.2 L479.3 83.3 L479.72 83.39 L480.14 83.47 L480.57 83.54 L480.99 83.6 L481.41 83.65 L481.83 83.7 L482.26 83.75 L482.68 83.79 L483.1 83.82 L483.53 83.85 L483.95 83.88 L484.37 83.9 L484.8 83.93 L485.22 83.95 L485.64 83.96 L486.07 83.98 L486.49 84 L486.91 84.01 L487.33 84.02 L487.76 84.03 L488.18 84.04 L488.6 84.05 L489.03 84.06 L489.45 84.07 L489.87 84.08 L490.3 84.09 L490.72 84.09 L491.14 84.1 L491.56 84.11 L491.99 84.11 L492.41 84.12 L492.83 84.12 L493.26 84.13 L493.68 84.14 L494.1 84.14 L494.53 84.15 L494.95 84.15 L495.37 84.16 L495.8 84.16 L496.22 84.16 L496.64 84.17 L497.06 84.17 L497.49 84.18 L497.91 84.18 L498.33 84.19 L498.76 84.19 L499.18 84.19 L499.6 84.2 L500.03 84.2 L500.45 84.21 L500.87 84.21 L501.29 84.21 L501.72 84.22 L502.14 84.22 L502.56 84.23 L502.99 84.23 L503.41 84.23 L503.83 84.24 L504.26 84.24 L504.68 84.24 L505.1 84.25 L505.53 84.25 L505.95 84.25 L506.37 84.26 L506.79 84.26 L507.22 84.26 L507.64 84.27 L508.06 84.27 L508.49 84.27 L508.91 84.28 L509.33 84.28 L509.76 84.28 L510.18 84.29 L510.6 84.29 L511.03 84.29 L511.45 84.3 L511.87 84.3 L512.29 84.3 L512.72 84.3 L513.14 84.31 L513.56 84.31 L513.99 84.31 L514.41 84.32 L514.83 84.32 L515.26 84.32 L515.68 84.32 L516.1 84.33 L516.52 84.33 L516.95 84.33 L517.37 84.33 L517.79 84.34 L518.22 84.34 L518.64 84.34 L519.06 84.35 L519.49 84.35 L519.91 84.35 L520.33 84.35 L520.76 84.36 L521.18 84.36 L521.6 84.36 L522.02 84.36 L522.45 84.37 L522.87 84.37 L523.29 84.37 L523.72 84.37 L524.14 84.38 L524.56 84.38 L524.99 84.38 L525.41 84.38 L525.83 84.39 L526.25 84.39 L526.68 84.39 L527.1 84.39 L527.52 84.4 L527.95 84.4 L528.37 84.4 L528.79 84.4 L529.22 84.41 L529.64 84.41 L530.06 84.41 L530.49 84.41 L530.91 84.41 L531.33 84.42 L531.75 84.42 L532.18 84.42 L532.6 84.42 L533.02 84.43 L533.45 84.43 L533.87 84.43 L534.29 84.43 L534.72 84.44 L535.14 84.44 L535.56 84.44 L535.98 84.44 L536.41 84.44 L536.83 84.45 L537.25 84.45 L537.68 84.45 L538.1 84.45" fill="none" stroke="#22c8d6" stroke-width="1.45" stroke-linejoin="round" stroke-linecap="round" />
<path d="M327 83.6 L327.42 83.6 L327.85 83.61 L328.27 83.61 L328.69 83.61 L329.12 83.61 L329.54 83.61 L329.96 83.62 L330.38 83.62 L330.81 83.62 L331.23 83.62 L331.65 83.62 L332.08 83.62 L332.5 83.63 L332.92 83.63 L333.35 83.63 L333.77 83.63 L334.19 83.63 L334.61 83.63 L335.04 83.64 L335.46 83.64 L335.88 83.64 L336.31 83.64 L336.73 83.64 L337.15 83.65 L337.58 83.65 L338 83.65 L338.42 83.65 L338.85 83.65 L339.27 83.65 L339.69 83.66 L340.11 83.66 L340.54 83.66 L340.96 83.66 L341.38 83.66 L341.81 83.67 L342.23 83.67 L342.65 83.67 L343.08 83.67 L343.5 83.67 L343.92 83.67 L344.34 83.68 L344.77 83.68 L345.19 83.68 L345.61 83.68 L346.04 83.68 L346.46 83.69 L346.88 83.69 L347.31 83.69 L347.73 83.69 L348.15 83.69 L348.58 83.69 L349 83.7 L349.42 83.7 L349.84 83.7 L350.27 83.7 L350.69 83.7 L351.11 83.7 L351.54 83.71 L351.96 83.71 L352.38 83.71 L352.81 83.71 L353.23 83.71 L353.65 83.72 L354.07 83.72 L354.5 83.72 L354.92 83.72 L355.34 83.72 L355.77 83.72 L356.19 83.73 L356.61 83.73 L357.04 83.73 L357.46 83.73 L357.88 83.73 L358.31 83.74 L358.73 83.74 L359.15 83.74 L359.57 83.74 L360 83.74 L360.42 83.74 L360.84 83.75 L361.27 83.75 L361.69 83.75 L362.11 83.75 L362.54 83.75 L362.96 83.75 L363.38 83.76 L363.81 83.76 L364.23 83.76 L364.65 83.76 L365.07 83.76 L365.5 83.77 L365.92 83.77 L366.34 83.77 L366.77 83.77 L367.19 83.77 L367.61 83.77 L368.04 83.78 L368.46 83.78 L368.88 83.78 L369.3 83.78 L369.73 83.78 L370.15 83.79 L370.57 83.79 L371 83.79 L371.42 83.79 L371.84 83.79 L372.27 83.79 L372.69 83.8 L373.11 83.8 L373.54 83.8 L373.96 83.8 L374.38 83.8 L374.8 83.81 L375.23 83.81 L375.65 83.81 L376.07 83.81 L376.5 83.81 L376.92 83.81 L377.34 83.82 L377.77 83.82 L378.19 83.82 L378.61 83.82 L379.03 83.82 L379.46 83.82 L379.88 83.83 L380.3 83.83 L380.73 83.83 L381.15 83.83 L381.57 83.83 L382 83.84 L382.42 83.84 L382.84 83.84 L383.27 83.84 L383.69 83.84 L384.11 83.84 L384.53 83.85 L384.96 83.85 L385.38 83.85 L385.8 83.85 L386.23 83.85 L386.65 83.86 L387.07 83.86 L387.5 83.86 L387.92 83.86 L388.34 83.86 L388.76 83.86 L389.19 83.87 L389.61 83.87 L390.03 83.87 L390.46 83.87 L390.88 83.87 L391.3 83.88 L391.73 83.88 L392.15 83.88 L392.57 83.88 L393 83.88 L393.42 83.88 L393.84 83.89 L394.26 83.89 L394.69 83.89 L395.11 83.89 L395.53 83.89 L395.96 83.89 L396.38 83.9 L396.8 83.9 L397.23 83.9 L397.65 83.9 L398.07 83.9 L398.49 83.91 L398.92 83.91 L399.34 83.91 L399.76 83.91 L400.19 83.91 L400.61 83.91 L401.03 83.92 L401.46 83.92 L401.88 83.92 L402.3 83.92 L402.73 83.92 L403.15 83.93 L403.57 83.93 L403.99 83.93 L404.42 83.93 L404.84 83.93 L405.26 83.93 L405.69 83.94 L406.11 83.94 L406.53 83.94 L406.96 83.94 L407.38 83.94 L407.8 83.95 L408.22 83.95 L408.65 83.95 L409.07 83.95 L409.49 83.95 L409.92 83.95 L410.34 83.96 L410.76 83.96 L411.19 83.96 L411.61 83.96 L412.03 83.96 L412.46 83.96 L412.88 83.97 L413.3 83.97 L413.72 83.97 L414.15 83.97 L414.57 83.97 L414.99 83.98 L415.42 83.98 L415.84 83.98 L416.26 83.98 L416.69 83.98 L417.11 83.98 L417.53 83.99 L417.95 83.99 L418.38 83.99 L418.8 83.99 L419.22 83.99 L419.65 84 L420.07 84 L420.49 84 L420.92 84 L421.34 84 L421.76 84 L422.19 84.01 L422.61 84.01 L423.03 84.01 L423.45 84.01 L423.88 84.01 L424.3 84.02 L424.72 84.02 L425.15 84.02 L425.57 84.02 L425.99 84.02 L426.42 84.02 L426.84 84.03 L427.26 84.03 L427.68 84.03 L428.11 84.03 L428.53 84.03 L428.95 84.03 L429.38 84.04 L429.8 84.04 L430.22 84.04 L430.65 84.04 L431.07 84.04 L431.49 84.05 L431.92 84.05 L432.34 84.05 L432.76 84.05 L433.18 84.05 L433.61 84.05 L434.03 84.06 L434.45 84.06 L434.88 84.06 L435.3 84.06 L435.72 84.06 L436.15 84.07 L436.57 84.07 L436.99 84.07 L437.42 84.07 L437.84 84.07 L438.26 84.07 L438.68 84.08 L439.11 84.08 L439.53 84.08 L439.95 84.08 L440.38 84.08 L440.8 84.08 L441.22 84.09 L441.65 84.09 L442.07 84.09 L442.49 84.09 L442.91 84.09 L443.34 84.1 L443.76 84.1 L444.18 84.1 L444.61 84.1 L445.03 84.1 L445.45 84.1 L445.88 84.11 L446.3 84.11 L446.72 84.11 L447.15 84.11 L447.57 84.11 L447.99 84.12 L448.41 84.12 L448.84 84.12 L449.26 84.12 L449.68 84.12 L450.11 84.12 L450.53 84.13 L450.95 84.13 L451.38 84.13 L451.8 84.13 L452.22 84.13 L452.64 84.14 L453.07 84.14 L453.49 84.14 L453.91 84.14 L454.34 84.14 L454.76 84.14 L455.18 84.15 L455.61 84.15 L456.03 84.15 L456.45 84.15 L456.88 84.15 L457.3 84.15 L457.72 84.16 L458.14 84.16 L458.57 84.16 L458.99 84.16 L459.41 84.16 L459.84 84.17 L460.26 84.17 L460.68 84.17 L461.11 84.17 L461.53 84.17 L461.95 84.17 L462.37 84.18 L462.8 84.18 L463.22 84.18 L463.64 84.18 L464.07 84.18 L464.49 84.19 L464.91 84.19 L465.34 84.19 L465.76 84.19 L466.18 84.19 L466.61 84.19 L467.03 84.2 L467.45 84.2 L467.87 84.2 L468.3 84.2 L468.72 84.2 L469.14 84.21 L469.57 84.21 L469.99 84.21 L470.41 84.21 L470.84 84.21 L471.26 84.21 L471.68 84.22 L472.1 84.22 L472.53 84.22 L472.95 84.22 L473.37 84.22 L473.8 84.22 L474.22 84.23 L474.64 84.23 L475.07 84.23 L475.49 84.23 L475.91 84.23 L476.34 84.24 L476.76 84.24 L477.18 84.24 L477.6 84.24 L478.03 84.24 L478.45 84.24 L478.87 84.25 L479.3 84.25 L479.72 84.25 L480.14 84.25 L480.57 84.25 L480.99 84.26 L481.41 84.26 L481.83 84.26 L482.26 84.26 L482.68 84.26 L483.1 84.26 L483.53 84.27 L483.95 84.27 L484.37 84.27 L484.8 84.27 L485.22 84.27 L485.64 84.28 L486.07 84.28 L486.49 84.28 L486.91 84.28 L487.33 84.28 L487.76 84.28 L488.18 84.29 L488.6 84.29 L489.03 84.29 L489.45 84.29 L489.87 84.29 L490.3 84.29 L490.72 84.3 L491.14 84.3 L491.56 84.3 L491.99 84.3 L492.41 84.3 L492.83 84.31 L493.26 84.31 L493.68 84.31 L494.1 84.31 L494.53 84.31 L494.95 84.31 L495.37 84.32 L495.8 84.32 L496.22 84.32 L496.64 84.32 L497.06 84.32 L497.49 84.33 L497.91 84.33 L498.33 84.33 L498.76 84.33 L499.18 84.33 L499.6 84.33 L500.03 84.34 L500.45 84.34 L500.87 84.34 L501.29 84.34 L501.72 84.34 L502.14 84.35 L502.56 84.35 L502.99 84.35 L503.41 84.35 L503.83 84.35 L504.26 84.35 L504.68 84.36 L505.1 84.36 L505.53 84.36 L505.95 84.36 L506.37 84.36 L506.79 84.36 L507.22 84.37 L507.64 84.37 L508.06 84.37 L508.49 84.37 L508.91 84.37 L509.33 84.38 L509.76 84.38 L510.18 84.38 L510.6 84.38 L511.03 84.38 L511.45 84.38 L511.87 84.39 L512.29 84.39 L512.72 84.39 L513.14 84.39 L513.56 84.39 L513.99 84.4 L514.41 84.4 L514.83 84.4 L515.26 84.4 L515.68 84.4 L516.1 84.4 L516.52 84.41 L516.95 84.41 L517.37 84.41 L517.79 84.41 L518.22 84.41 L518.64 84.41 L519.06 84.42 L519.49 84.42 L519.91 84.42 L520.33 84.42 L520.76 84.42 L521.18 84.43 L521.6 84.43 L522.02 84.43 L522.45 84.43 L522.87 84.43 L523.29 84.43 L523.72 84.44 L524.14 84.44 L524.56 84.44 L524.99 84.44 L525.41 84.44 L525.83 84.45 L526.25 84.45 L526.68 84.45 L527.1 84.45 L527.52 84.45 L527.95 84.45 L528.37 84.46 L528.79 84.46 L529.22 84.46 L529.64 84.46 L530.06 84.46 L530.49 84.47 L530.91 84.47 L531.33 84.47 L531.75 84.47 L532.18 84.47 L532.6 84.47 L533.02 84.48 L533.45 84.48 L533.87 84.48 L534.29 84.48 L534.72 84.48 L535.14 84.48 L535.56 84.49 L535.98 84.49 L536.41 84.49 L536.83 84.49 L537.25 84.49 L537.68 84.5 L538.1 84.5" fill="none" stroke="#b76de6" stroke-width="1.45" stroke-linejoin="round" stroke-linecap="round" />
<path d="M327 83.53 L327.42 83.53 L327.85 83.53 L328.27 83.53 L328.69 83.53 L329.12 83.53 L329.54 83.54 L329.96 83.54 L330.38 83.54 L330.81 83.54 L331.23 83.54 L331.65 83.54 L332.08 83.54 L332.5 83.54 L332.92 83.54 L333.35 83.54 L333.77 83.54 L334.19 83.54 L334.61 83.55 L335.04 83.55 L335.46 83.55 L335.88 83.55 L336.31 83.55 L336.73 83.55 L337.15 83.55 L337.58 83.55 L338 83.55 L338.42 83.55 L338.85 83.55 L339.27 83.55 L339.69 83.55 L340.11 83.55 L340.54 83.55 L340.96 83.55 L341.38 83.55 L341.81 83.55 L342.23 83.55 L342.65 83.55 L343.08 83.56 L343.5 83.56 L343.92 83.56 L344.34 83.56 L344.77 83.56 L345.19 83.56 L345.61 83.56 L346.04 83.56 L346.46 83.56 L346.88 83.56 L347.31 83.56 L347.73 83.55 L348.15 83.55 L348.58 83.55 L349 83.55 L349.42 83.55 L349.84 83.55 L350.27 83.55 L350.69 83.55 L351.11 83.55 L351.54 83.55 L351.96 83.55 L352.38 83.55 L352.81 83.55 L353.23 83.55 L353.65 83.55 L354.07 83.54 L354.5 83.54 L354.92 83.54 L355.34 83.54 L355.77 83.54 L356.19 83.54 L356.61 83.53 L357.04 83.53 L357.46 83.53 L357.88 83.53 L358.31 83.53 L358.73 83.52 L359.15 83.52 L359.57 83.52 L360 83.51 L360.42 83.51 L360.84 83.51 L361.27 83.5 L361.69 83.5 L362.11 83.5 L362.54 83.49 L362.96 83.49 L363.38 83.48 L363.81 83.47 L364.23 83.47 L364.65 83.46 L365.07 83.45 L365.5 83.44 L365.92 83.43 L366.34 83.42 L366.77 83.41 L367.19 83.39 L367.61 83.38 L368.04 83.36 L368.46 83.34 L368.88 83.31 L369.3 83.29 L369.73 83.26 L370.15 83.22 L370.57 83.18 L371 83.14 L371.42 83.09 L371.84 83.03 L372.27 82.97 L372.69 82.9 L373.11 82.81 L373.54 82.72 L373.96 82.62 L374.38 82.51 L374.8 82.38 L375.23 82.24 L375.65 82.08 L376.07 81.91 L376.5 81.72 L376.92 81.51 L377.34 81.28 L377.77 81.03 L378.19 80.76 L378.61 80.47 L379.03 80.15 L379.46 79.82 L379.88 79.46 L380.3 79.08 L380.73 78.67 L381.15 78.24 L381.57 77.79 L382 77.33 L382.42 76.84 L382.84 76.33 L383.27 75.81 L383.69 75.27 L384.11 74.73 L384.53 74.17 L384.96 73.61 L385.38 73.05 L385.8 72.49 L386.23 71.94 L386.65 71.4 L387.07 70.87 L387.5 70.37 L387.92 69.88 L388.34 69.43 L388.76 69.01 L389.19 68.62 L389.61 68.28 L390.03 67.98 L390.46 67.73 L390.88 67.54 L391.3 67.4 L391.73 67.32 L392.15 67.29 L392.57 67.33 L393 67.42 L393.42 67.57 L393.84 67.77 L394.26 68.02 L394.69 68.33 L395.11 68.68 L395.53 69.07 L395.96 69.49 L396.38 69.95 L396.8 70.44 L397.23 70.94 L397.65 71.47 L398.07 72.01 L398.49 72.56 L398.92 73.11 L399.34 73.66 L399.76 74.22 L400.19 74.76 L400.61 75.3 L401.03 75.83 L401.46 76.34 L401.88 76.83 L402.3 77.31 L402.73 77.76 L403.15 78.2 L403.57 78.61 L403.99 78.99 L404.42 79.36 L404.84 79.69 L405.26 80.01 L405.69 80.29 L406.11 80.56 L406.53 80.79 L406.96 81 L407.38 81.19 L407.8 81.35 L408.22 81.49 L408.65 81.6 L409.07 81.68 L409.49 81.74 L409.92 81.77 L410.34 81.77 L410.76 81.75 L411.19 81.7 L411.61 81.61 L412.03 81.5 L412.46 81.35 L412.88 81.17 L413.3 80.95 L413.72 80.7 L414.15 80.41 L414.57 80.09 L414.99 79.73 L415.42 79.33 L415.84 78.89 L416.26 78.43 L416.69 77.92 L417.11 77.39 L417.53 76.82 L417.95 76.23 L418.38 75.62 L418.8 74.98 L419.22 74.33 L419.65 73.67 L420.07 73.01 L420.49 72.34 L420.92 71.68 L421.34 71.03 L421.76 70.39 L422.19 69.78 L422.61 69.19 L423.03 68.62 L423.45 68.09 L423.88 67.58 L424.3 67.08 L424.72 66.61 L425.15 66.15 L425.57 65.7 L425.99 65.25 L426.42 64.82 L426.84 64.38 L427.26 63.95 L427.68 63.51 L428.11 63.07 L428.53 62.63 L428.95 62.2 L429.38 61.76 L429.8 61.33 L430.22 60.9 L430.65 60.49 L431.07 60.08 L431.49 59.67 L431.92 59.28 L432.34 58.89 L432.76 58.53 L433.18 58.21 L433.61 57.92 L434.03 57.63 L434.45 57.35 L434.88 57.04 L435.3 56.71 L435.72 56.32 L436.15 55.87 L436.57 55.35 L436.99 54.73 L437.42 54.01 L437.84 53.18 L438.26 52.23 L438.68 51.17 L439.11 49.98 L439.53 48.69 L439.95 47.28 L440.38 45.77 L440.8 44.16 L441.22 42.47 L441.65 40.72 L442.07 38.9 L442.49 37.05 L442.91 35.16 L443.34 33.27 L443.76 31.38 L444.18 29.51 L444.61 27.68 L445.03 25.9 L445.45 24.18 L445.88 22.55 L446.3 21.01 L446.72 19.57 L447.15 18.26 L447.57 17.07 L447.99 16.03 L448.41 15.13 L448.84 14.39 L449.26 13.81 L449.68 13.4 L450.11 13.16 L450.53 13.09 L450.95 13.19 L451.38 13.43 L451.8 13.81 L452.22 14.34 L452.64 15.01 L453.07 15.81 L453.49 16.74 L453.91 17.79 L454.34 18.96 L454.76 20.25 L455.18 21.63 L455.61 23.11 L456.03 24.67 L456.45 26.32 L456.88 28.03 L457.3 29.79 L457.72 31.61 L458.14 33.47 L458.57 35.36 L458.99 37.27 L459.41 39.2 L459.84 41.13 L460.26 43.06 L460.68 44.99 L461.11 46.89 L461.53 48.77 L461.95 50.63 L462.37 52.45 L462.8 54.22 L463.22 55.96 L463.64 57.64 L464.07 59.27 L464.49 60.84 L464.91 62.36 L465.34 63.82 L465.76 65.21 L466.18 66.54 L466.61 67.81 L467.03 69.02 L467.45 70.16 L467.87 71.24 L468.3 72.25 L468.72 73.21 L469.14 74.1 L469.57 74.94 L469.99 75.72 L470.41 76.45 L470.84 77.13 L471.26 77.75 L471.68 78.33 L472.1 78.87 L472.53 79.36 L472.95 79.81 L473.37 80.22 L473.8 80.6 L474.22 80.94 L474.64 81.26 L475.07 81.54 L475.49 81.8 L475.91 82.03 L476.34 82.25 L476.76 82.44 L477.18 82.61 L477.6 82.76 L478.03 82.9 L478.45 83.03 L478.87 83.14 L479.3 83.24 L479.72 83.33 L480.14 83.4 L480.57 83.48 L480.99 83.54 L481.41 83.59 L481.83 83.64 L482.26 83.69 L482.68 83.73 L483.1 83.76 L483.53 83.8 L483.95 83.82 L484.37 83.85 L484.8 83.87 L485.22 83.89 L485.64 83.91 L486.07 83.93 L486.49 83.94 L486.91 83.96 L487.33 83.97 L487.76 83.98 L488.18 83.99 L488.6 84 L489.03 84.01 L489.45 84.02 L489.87 84.03 L490.3 84.04 L490.72 84.05 L491.14 84.05 L491.56 84.06 L491.99 84.07 L492.41 84.07 L492.83 84.08 L493.26 84.09 L493.68 84.09 L494.1 84.1 L494.53 84.1 L494.95 84.11 L495.37 84.11 L495.8 84.12 L496.22 84.12 L496.64 84.13 L497.06 84.13 L497.49 84.14 L497.91 84.14 L498.33 84.15 L498.76 84.15 L499.18 84.16 L499.6 84.16 L500.03 84.17 L500.45 84.17 L500.87 84.18 L501.29 84.18 L501.72 84.18 L502.14 84.19 L502.56 84.19 L502.99 84.2 L503.41 84.2 L503.83 84.2 L504.26 84.21 L504.68 84.21 L505.1 84.21 L505.53 84.22 L505.95 84.22 L506.37 84.23 L506.79 84.23 L507.22 84.23 L507.64 84.24 L508.06 84.24 L508.49 84.24 L508.91 84.25 L509.33 84.25 L509.76 84.25 L510.18 84.26 L510.6 84.26 L511.03 84.26 L511.45 84.27 L511.87 84.27 L512.29 84.27 L512.72 84.28 L513.14 84.28 L513.56 84.28 L513.99 84.29 L514.41 84.29 L514.83 84.29 L515.26 84.29 L515.68 84.3 L516.1 84.3 L516.52 84.3 L516.95 84.31 L517.37 84.31 L517.79 84.31 L518.22 84.32 L518.64 84.32 L519.06 84.32 L519.49 84.32 L519.91 84.33 L520.33 84.33 L520.76 84.33 L521.18 84.34 L521.6 84.34 L522.02 84.34 L522.45 84.34 L522.87 84.35 L523.29 84.35 L523.72 84.35 L524.14 84.35 L524.56 84.36 L524.99 84.36 L525.41 84.36 L525.83 84.36 L526.25 84.37 L526.68 84.37 L527.1 84.37 L527.52 84.37 L527.95 84.38 L528.37 84.38 L528.79 84.38 L529.22 84.39 L529.64 84.39 L530.06 84.39 L530.49 84.39 L530.91 84.4 L531.33 84.4 L531.75 84.4 L532.18 84.4 L532.6 84.4 L533.02 84.41 L533.45 84.41 L533.87 84.41 L534.29 84.41 L534.72 84.42 L535.14 84.42 L535.56 84.42 L535.98 84.42 L536.41 84.43 L536.83 84.43 L537.25 84.43 L537.68 84.43 L538.1 84.44" fill="none" stroke="#f42c30" stroke-width="1.55" stroke-linejoin="round" stroke-linecap="round" />
<path d="M327 154.01 L327.42 154.01 L327.85 154.01 L328.27 154.02 L328.69 154.02 L329.12 154.02 L329.54 154.03 L329.96 154.03 L330.38 154.03 L330.81 154.04 L331.23 154.04 L331.65 154.04 L332.08 154.05 L332.5 154.05 L332.92 154.06 L333.35 154.06 L333.77 154.06 L334.19 154.07 L334.61 154.07 L335.04 154.07 L335.46 154.08 L335.88 154.08 L336.31 154.08 L336.73 154.09 L337.15 154.09 L337.58 154.09 L338 154.1 L338.42 154.1 L338.85 154.11 L339.27 154.11 L339.69 154.11 L340.11 154.12 L340.54 154.12 L340.96 154.12 L341.38 154.13 L341.81 154.13 L342.23 154.13 L342.65 154.14 L343.08 154.14 L343.5 154.14 L343.92 154.15 L344.34 154.15 L344.77 154.16 L345.19 154.16 L345.61 154.16 L346.04 154.17 L346.46 154.17 L346.88 154.17 L347.31 154.18 L347.73 154.18 L348.15 154.18 L348.58 154.19 L349 154.19 L349.42 154.2 L349.84 154.2 L350.27 154.2 L350.69 154.21 L351.11 154.21 L351.54 154.21 L351.96 154.22 L352.38 154.22 L352.81 154.22 L353.23 154.23 L353.65 154.23 L354.07 154.23 L354.5 154.24 L354.92 154.24 L355.34 154.25 L355.77 154.25 L356.19 154.25 L356.61 154.26 L357.04 154.26 L357.46 154.26 L357.88 154.27 L358.31 154.27 L358.73 154.27 L359.15 154.28 L359.57 154.28 L360 154.28 L360.42 154.29 L360.84 154.29 L361.27 154.3 L361.69 154.3 L362.11 154.3 L362.54 154.31 L362.96 154.31 L363.38 154.31 L363.81 154.32 L364.23 154.32 L364.65 154.32 L365.07 154.33 L365.5 154.33 L365.92 154.34 L366.34 154.34 L366.77 154.34 L367.19 154.35 L367.61 154.35 L368.04 154.35 L368.46 154.36 L368.88 154.36 L369.3 154.36 L369.73 154.37 L370.15 154.37 L370.57 154.37 L371 154.38 L371.42 154.38 L371.84 154.39 L372.27 154.39 L372.69 154.39 L373.11 154.4 L373.54 154.4 L373.96 154.4 L374.38 154.41 L374.8 154.41 L375.23 154.41 L375.65 154.42 L376.07 154.42 L376.5 154.42 L376.92 154.43 L377.34 154.43 L377.77 154.44 L378.19 154.44 L378.61 154.44 L379.03 154.45 L379.46 154.45 L379.88 154.45 L380.3 154.46 L380.73 154.46 L381.15 154.46 L381.57 154.47 L382 154.47 L382.42 154.47 L382.84 154.48 L383.27 154.48 L383.69 154.49 L384.11 154.49 L384.53 154.49 L384.96 154.5 L385.38 154.5 L385.8 154.5 L386.23 154.51 L386.65 154.51 L387.07 154.51 L387.5 154.52 L387.92 154.52 L388.34 154.53 L388.76 154.53 L389.19 154.53 L389.61 154.54 L390.03 154.54 L390.46 154.54 L390.88 154.55 L391.3 154.55 L391.73 154.55 L392.15 154.56 L392.57 154.56 L393 154.56 L393.42 154.57 L393.84 154.57 L394.26 154.58 L394.69 154.58 L395.11 154.58 L395.53 154.59 L395.96 154.59 L396.38 154.59 L396.8 154.6 L397.23 154.6 L397.65 154.6 L398.07 154.61 L398.49 154.61 L398.92 154.61 L399.34 154.62 L399.76 154.62 L400.19 154.63 L400.61 154.63 L401.03 154.63 L401.46 154.64 L401.88 154.64 L402.3 154.64 L402.73 154.65 L403.15 154.65 L403.57 154.65 L403.99 154.66 L404.42 154.66 L404.84 154.67 L405.26 154.67 L405.69 154.67 L406.11 154.68 L406.53 154.68 L406.96 154.68 L407.38 154.69 L407.8 154.69 L408.22 154.69 L408.65 154.7 L409.07 154.7 L409.49 154.7 L409.92 154.71 L410.34 154.71 L410.76 154.72 L411.19 154.72 L411.61 154.72 L412.03 154.73 L412.46 154.73 L412.88 154.73 L413.3 154.74 L413.72 154.74 L414.15 154.74 L414.57 154.75 L414.99 154.75 L415.42 154.75 L415.84 154.76 L416.26 154.76 L416.69 154.77 L417.11 154.77 L417.53 154.77 L417.95 154.78 L418.38 154.78 L418.8 154.78 L419.22 154.79 L419.65 154.79 L420.07 154.79 L420.49 154.8 L420.92 154.8 L421.34 154.8 L421.76 154.81 L422.19 154.81 L422.61 154.82 L423.03 154.82 L423.45 154.82 L423.88 154.83 L424.3 154.83 L424.72 154.83 L425.15 154.84 L425.57 154.84 L425.99 154.84 L426.42 154.85 L426.84 154.85 L427.26 154.86 L427.68 154.86 L428.11 154.86 L428.53 154.87 L428.95 154.87 L429.38 154.87 L429.8 154.88 L430.22 154.88 L430.65 154.88 L431.07 154.89 L431.49 154.89 L431.92 154.89 L432.34 154.9 L432.76 154.9 L433.18 154.91 L433.61 154.91 L434.03 154.91 L434.45 154.92 L434.88 154.92 L435.3 154.92 L435.72 154.93 L436.15 154.93 L436.57 154.93 L436.99 154.94 L437.42 154.94 L437.84 154.94 L438.26 154.95 L438.68 154.95 L439.11 154.96 L439.53 154.96 L439.95 154.96 L440.38 154.97 L440.8 154.97 L441.22 154.97 L441.65 154.98 L442.07 154.98 L442.49 154.98 L442.91 154.99 L443.34 154.99 L443.76 155 L444.18 155 L444.61 155 L445.03 155.01 L445.45 155.01 L445.88 155.01 L446.3 155.02 L446.72 155.02 L447.15 155.02 L447.57 155.03 L447.99 155.03 L448.41 155.03 L448.84 155.04 L449.26 155.04 L449.68 155.05 L450.11 155.05 L450.53 155.05 L450.95 155.06 L451.38 155.06 L451.8 155.06 L452.22 155.07 L452.64 155.07 L453.07 155.07 L453.49 155.08 L453.91 155.08 L454.34 155.08 L454.76 155.09 L455.18 155.09 L455.61 155.1 L456.03 155.1 L456.45 155.1 L456.88 155.11 L457.3 155.11 L457.72 155.11 L458.14 155.12 L458.57 155.12 L458.99 155.12 L459.41 155.13 L459.84 155.13 L460.26 155.13 L460.68 155.14 L461.11 155.14 L461.53 155.15 L461.95 155.15 L462.37 155.15 L462.8 155.16 L463.22 155.16 L463.64 155.16 L464.07 155.17 L464.49 155.17 L464.91 155.17 L465.34 155.18 L465.76 155.18 L466.18 155.19 L466.61 155.19 L467.03 155.19 L467.45 155.2 L467.87 155.2 L468.3 155.2 L468.72 155.21 L469.14 155.21 L469.57 155.21 L469.99 155.22 L470.41 155.22 L470.84 155.22 L471.26 155.23 L471.68 155.23 L472.1 155.24 L472.53 155.24 L472.95 155.24 L473.37 155.25 L473.8 155.25 L474.22 155.25 L474.64 155.26 L475.07 155.26 L475.49 155.26 L475.91 155.27 L476.34 155.27 L476.76 155.27 L477.18 155.28 L477.6 155.28 L478.03 155.29 L478.45 155.29 L478.87 155.29 L479.3 155.3 L479.72 155.3 L480.14 155.3 L480.57 155.31 L480.99 155.31 L481.41 155.31 L481.83 155.32 L482.26 155.32 L482.68 155.33 L483.1 155.33 L483.53 155.33 L483.95 155.34 L484.37 155.34 L484.8 155.34 L485.22 155.35 L485.64 155.35 L486.07 155.35 L486.49 155.36 L486.91 155.36 L487.33 155.36 L487.76 155.37 L488.18 155.37 L488.6 155.38 L489.03 155.38 L489.45 155.38 L489.87 155.39 L490.3 155.39 L490.72 155.39 L491.14 155.4 L491.56 155.4 L491.99 155.4 L492.41 155.41 L492.83 155.41 L493.26 155.41 L493.68 155.42 L494.1 155.42 L494.53 155.43 L494.95 155.43 L495.37 155.43 L495.8 155.44 L496.22 155.44 L496.64 155.44 L497.06 155.45 L497.49 155.45 L497.91 155.45 L498.33 155.46 L498.76 155.46 L499.18 155.46 L499.6 155.47 L500.03 155.47 L500.45 155.48 L500.87 155.48 L501.29 155.48 L501.72 155.49 L502.14 155.49 L502.56 155.49 L502.99 155.5 L503.41 155.5 L503.83 155.5 L504.26 155.51 L504.68 155.51 L505.1 155.52 L505.53 155.52 L505.95 155.52 L506.37 155.53 L506.79 155.53 L507.22 155.53 L507.64 155.54 L508.06 155.54 L508.49 155.54 L508.91 155.55 L509.33 155.55 L509.76 155.55 L510.18 155.56 L510.6 155.56 L511.03 155.57 L511.45 155.57 L511.87 155.57 L512.29 155.58 L512.72 155.58 L513.14 155.58 L513.56 155.59 L513.99 155.59 L514.41 155.59 L514.83 155.6 L515.26 155.6 L515.68 155.6 L516.1 155.61 L516.52 155.61 L516.95 155.62 L517.37 155.62 L517.79 155.62 L518.22 155.63 L518.64 155.63 L519.06 155.63 L519.49 155.64 L519.91 155.64 L520.33 155.64 L520.76 155.65 L521.18 155.65 L521.6 155.66 L522.02 155.66 L522.45 155.66 L522.87 155.67 L523.29 155.67 L523.72 155.67 L524.14 155.68 L524.56 155.68 L524.99 155.68 L525.41 155.69 L525.83 155.69 L526.25 155.69 L526.68 155.7 L527.1 155.7 L527.52 155.71 L527.95 155.71 L528.37 155.71 L528.79 155.72 L529.22 155.72 L529.64 155.72 L530.06 155.73 L530.49 155.73 L530.91 155.73 L531.33 155.74 L531.75 155.74 L532.18 155.74 L532.6 155.75 L533.02 155.75 L533.45 155.76 L533.87 155.76 L534.29 155.76 L534.72 155.77 L535.14 155.77 L535.56 155.77 L535.98 155.78 L536.41 155.78 L536.83 155.78 L537.25 155.79 L537.68 155.79 L538.1 155.79" fill="none" stroke="#b76de6" stroke-width="1.45" stroke-linejoin="round" stroke-linecap="round" />
<path d="M327 153.77 L327.42 153.77 L327.85 153.77 L328.27 153.77 L328.69 153.77 L329.12 153.77 L329.54 153.77 L329.96 153.77 L330.38 153.77 L330.81 153.77 L331.23 153.77 L331.65 153.77 L332.08 153.77 L332.5 153.77 L332.92 153.77 L333.35 153.77 L333.77 153.77 L334.19 153.77 L334.61 153.77 L335.04 153.77 L335.46 153.77 L335.88 153.77 L336.31 153.77 L336.73 153.77 L337.15 153.76 L337.58 153.76 L338 153.76 L338.42 153.76 L338.85 153.76 L339.27 153.76 L339.69 153.76 L340.11 153.75 L340.54 153.75 L340.96 153.75 L341.38 153.75 L341.81 153.75 L342.23 153.74 L342.65 153.74 L343.08 153.74 L343.5 153.73 L343.92 153.73 L344.34 153.73 L344.77 153.72 L345.19 153.72 L345.61 153.72 L346.04 153.71 L346.46 153.71 L346.88 153.7 L347.31 153.7 L347.73 153.7 L348.15 153.69 L348.58 153.69 L349 153.68 L349.42 153.67 L349.84 153.67 L350.27 153.66 L350.69 153.66 L351.11 153.65 L351.54 153.64 L351.96 153.63 L352.38 153.63 L352.81 153.62 L353.23 153.61 L353.65 153.6 L354.07 153.59 L354.5 153.58 L354.92 153.57 L355.34 153.56 L355.77 153.55 L356.19 153.54 L356.61 153.53 L357.04 153.52 L357.46 153.5 L357.88 153.49 L358.31 153.48 L358.73 153.46 L359.15 153.44 L359.57 153.43 L360 153.41 L360.42 153.39 L360.84 153.37 L361.27 153.35 L361.69 153.33 L362.11 153.31 L362.54 153.28 L362.96 153.26 L363.38 153.23 L363.81 153.2 L364.23 153.17 L364.65 153.13 L365.07 153.1 L365.5 153.06 L365.92 153.02 L366.34 152.97 L366.77 152.93 L367.19 152.88 L367.61 152.82 L368.04 152.76 L368.46 152.7 L368.88 152.64 L369.3 152.56 L369.73 152.49 L370.15 152.4 L370.57 152.32 L371 152.22 L371.42 152.12 L371.84 152.01 L372.27 151.89 L372.69 151.77 L373.11 151.64 L373.54 151.5 L373.96 151.34 L374.38 151.18 L374.8 151.01 L375.23 150.83 L375.65 150.64 L376.07 150.43 L376.5 150.22 L376.92 149.99 L377.34 149.75 L377.77 149.49 L378.19 149.23 L378.61 148.95 L379.03 148.65 L379.46 148.35 L379.88 148.03 L380.3 147.69 L380.73 147.35 L381.15 146.99 L381.57 146.62 L382 146.24 L382.42 145.84 L382.84 145.44 L383.27 145.02 L383.69 144.6 L384.11 144.16 L384.53 143.72 L384.96 143.28 L385.38 142.83 L385.8 142.38 L386.23 141.92 L386.65 141.47 L387.07 141.02 L387.5 140.58 L387.92 140.14 L388.34 139.72 L388.76 139.3 L389.19 138.91 L389.61 138.54 L390.03 138.19 L390.46 137.86 L390.88 137.57 L391.3 137.31 L391.73 137.08 L392.15 136.9 L392.57 136.75 L393 136.65 L393.42 136.59 L393.84 136.57 L394.26 136.61 L394.69 136.69 L395.11 136.82 L395.53 137 L395.96 137.23 L396.38 137.49 L396.8 137.79 L397.23 138.13 L397.65 138.5 L398.07 138.9 L398.49 139.32 L398.92 139.76 L399.34 140.22 L399.76 140.68 L400.19 141.16 L400.61 141.64 L401.03 142.13 L401.46 142.62 L401.88 143.1 L402.3 143.59 L402.73 144.06 L403.15 144.53 L403.57 144.99 L403.99 145.44 L404.42 145.88 L404.84 146.31 L405.26 146.73 L405.69 147.13 L406.11 147.52 L406.53 147.89 L406.96 148.25 L407.38 148.6 L407.8 148.93 L408.22 149.24 L408.65 149.54 L409.07 149.83 L409.49 150.1 L409.92 150.36 L410.34 150.6 L410.76 150.83 L411.19 151.05 L411.61 151.25 L412.03 151.45 L412.46 151.63 L412.88 151.8 L413.3 151.96 L413.72 152.11 L414.15 152.25 L414.57 152.38 L414.99 152.5 L415.42 152.61 L415.84 152.72 L416.26 152.82 L416.69 152.91 L417.11 153 L417.53 153.08 L417.95 153.15 L418.38 153.23 L418.8 153.29 L419.22 153.35 L419.65 153.41 L420.07 153.47 L420.49 153.52 L420.92 153.57 L421.34 153.61 L421.76 153.65 L422.19 153.7 L422.61 153.73 L423.03 153.77 L423.45 153.81 L423.88 153.84 L424.3 153.87 L424.72 153.9 L425.15 153.93 L425.57 153.96 L425.99 153.98 L426.42 154.01 L426.84 154.03 L427.26 154.06 L427.68 154.08 L428.11 154.1 L428.53 154.12 L428.95 154.14 L429.38 154.16 L429.8 154.18 L430.22 154.2 L430.65 154.22 L431.07 154.24 L431.49 154.25 L431.92 154.27 L432.34 154.29 L432.76 154.3 L433.18 154.32 L433.61 154.33 L434.03 154.35 L434.45 154.36 L434.88 154.38 L435.3 154.39 L435.72 154.41 L436.15 154.42 L436.57 154.43 L436.99 154.44 L437.42 154.46 L437.84 154.47 L438.26 154.48 L438.68 154.49 L439.11 154.51 L439.53 154.52 L439.95 154.53 L440.38 154.54 L440.8 154.55 L441.22 154.56 L441.65 154.57 L442.07 154.58 L442.49 154.59 L442.91 154.6 L443.34 154.61 L443.76 154.62 L444.18 154.63 L444.61 154.64 L445.03 154.65 L445.45 154.66 L445.88 154.67 L446.3 154.68 L446.72 154.69 L447.15 154.69 L447.57 154.7 L447.99 154.71 L448.41 154.72 L448.84 154.73 L449.26 154.74 L449.68 154.74 L450.11 154.75 L450.53 154.76 L450.95 154.77 L451.38 154.78 L451.8 154.78 L452.22 154.79 L452.64 154.8 L453.07 154.81 L453.49 154.81 L453.91 154.82 L454.34 154.83 L454.76 154.83 L455.18 154.84 L455.61 154.85 L456.03 154.85 L456.45 154.86 L456.88 154.87 L457.3 154.87 L457.72 154.88 L458.14 154.89 L458.57 154.89 L458.99 154.9 L459.41 154.91 L459.84 154.91 L460.26 154.92 L460.68 154.93 L461.11 154.93 L461.53 154.94 L461.95 154.94 L462.37 154.95 L462.8 154.96 L463.22 154.96 L463.64 154.97 L464.07 154.97 L464.49 154.98 L464.91 154.99 L465.34 154.99 L465.76 155 L466.18 155 L466.61 155.01 L467.03 155.01 L467.45 155.02 L467.87 155.03 L468.3 155.03 L468.72 155.04 L469.14 155.04 L469.57 155.05 L469.99 155.05 L470.41 155.06 L470.84 155.06 L471.26 155.07 L471.68 155.07 L472.1 155.08 L472.53 155.08 L472.95 155.09 L473.37 155.09 L473.8 155.1 L474.22 155.11 L474.64 155.11 L475.07 155.12 L475.49 155.12 L475.91 155.13 L476.34 155.13 L476.76 155.14 L477.18 155.14 L477.6 155.15 L478.03 155.15 L478.45 155.16 L478.87 155.16 L479.3 155.17 L479.72 155.17 L480.14 155.17 L480.57 155.18 L480.99 155.18 L481.41 155.19 L481.83 155.19 L482.26 155.2 L482.68 155.2 L483.1 155.21 L483.53 155.21 L483.95 155.22 L484.37 155.22 L484.8 155.23 L485.22 155.23 L485.64 155.24 L486.07 155.24 L486.49 155.25 L486.91 155.25 L487.33 155.25 L487.76 155.26 L488.18 155.26 L488.6 155.27 L489.03 155.27 L489.45 155.28 L489.87 155.28 L490.3 155.29 L490.72 155.29 L491.14 155.3 L491.56 155.3 L491.99 155.3 L492.41 155.31 L492.83 155.31 L493.26 155.32 L493.68 155.32 L494.1 155.33 L494.53 155.33 L494.95 155.33 L495.37 155.34 L495.8 155.34 L496.22 155.35 L496.64 155.35 L497.06 155.36 L497.49 155.36 L497.91 155.37 L498.33 155.37 L498.76 155.37 L499.18 155.38 L499.6 155.38 L500.03 155.39 L500.45 155.39 L500.87 155.4 L501.29 155.4 L501.72 155.4 L502.14 155.41 L502.56 155.41 L502.99 155.42 L503.41 155.42 L503.83 155.42 L504.26 155.43 L504.68 155.43 L505.1 155.44 L505.53 155.44 L505.95 155.45 L506.37 155.45 L506.79 155.45 L507.22 155.46 L507.64 155.46 L508.06 155.47 L508.49 155.47 L508.91 155.47 L509.33 155.48 L509.76 155.48 L510.18 155.49 L510.6 155.49 L511.03 155.5 L511.45 155.5 L511.87 155.5 L512.29 155.51 L512.72 155.51 L513.14 155.52 L513.56 155.52 L513.99 155.52 L514.41 155.53 L514.83 155.53 L515.26 155.54 L515.68 155.54 L516.1 155.54 L516.52 155.55 L516.95 155.55 L517.37 155.56 L517.79 155.56 L518.22 155.56 L518.64 155.57 L519.06 155.57 L519.49 155.58 L519.91 155.58 L520.33 155.58 L520.76 155.59 L521.18 155.59 L521.6 155.6 L522.02 155.6 L522.45 155.6 L522.87 155.61 L523.29 155.61 L523.72 155.62 L524.14 155.62 L524.56 155.62 L524.99 155.63 L525.41 155.63 L525.83 155.64 L526.25 155.64 L526.68 155.64 L527.1 155.65 L527.52 155.65 L527.95 155.66 L528.37 155.66 L528.79 155.66 L529.22 155.67 L529.64 155.67 L530.06 155.67 L530.49 155.68 L530.91 155.68 L531.33 155.69 L531.75 155.69 L532.18 155.69 L532.6 155.7 L533.02 155.7 L533.45 155.71 L533.87 155.71 L534.29 155.71 L534.72 155.72 L535.14 155.72 L535.56 155.73 L535.98 155.73 L536.41 155.73 L536.83 155.74 L537.25 155.74 L537.68 155.74 L538.1 155.75" fill="none" stroke="#2266dd" stroke-width="1.45" stroke-linejoin="round" stroke-linecap="round" />
<path d="M327 153.95 L327.42 153.95 L327.85 153.96 L328.27 153.96 L328.69 153.96 L329.12 153.96 L329.54 153.97 L329.96 153.97 L330.38 153.97 L330.81 153.98 L331.23 153.98 L331.65 153.98 L332.08 153.99 L332.5 153.99 L332.92 153.99 L333.35 153.99 L333.77 154 L334.19 154 L334.61 154 L335.04 154.01 L335.46 154.01 L335.88 154.01 L336.31 154.01 L336.73 154.02 L337.15 154.02 L337.58 154.02 L338 154.03 L338.42 154.03 L338.85 154.03 L339.27 154.03 L339.69 154.04 L340.11 154.04 L340.54 154.04 L340.96 154.05 L341.38 154.05 L341.81 154.05 L342.23 154.05 L342.65 154.06 L343.08 154.06 L343.5 154.06 L343.92 154.06 L344.34 154.07 L344.77 154.07 L345.19 154.07 L345.61 154.07 L346.04 154.08 L346.46 154.08 L346.88 154.08 L347.31 154.09 L347.73 154.09 L348.15 154.09 L348.58 154.09 L349 154.09 L349.42 154.1 L349.84 154.1 L350.27 154.1 L350.69 154.1 L351.11 154.11 L351.54 154.11 L351.96 154.11 L352.38 154.11 L352.81 154.12 L353.23 154.12 L353.65 154.12 L354.07 154.12 L354.5 154.12 L354.92 154.13 L355.34 154.13 L355.77 154.13 L356.19 154.13 L356.61 154.13 L357.04 154.14 L357.46 154.14 L357.88 154.14 L358.31 154.14 L358.73 154.14 L359.15 154.15 L359.57 154.15 L360 154.15 L360.42 154.15 L360.84 154.15 L361.27 154.15 L361.69 154.16 L362.11 154.16 L362.54 154.16 L362.96 154.16 L363.38 154.16 L363.81 154.16 L364.23 154.16 L364.65 154.17 L365.07 154.17 L365.5 154.17 L365.92 154.17 L366.34 154.17 L366.77 154.17 L367.19 154.17 L367.61 154.17 L368.04 154.17 L368.46 154.17 L368.88 154.17 L369.3 154.17 L369.73 154.17 L370.15 154.18 L370.57 154.18 L371 154.18 L371.42 154.18 L371.84 154.18 L372.27 154.18 L372.69 154.17 L373.11 154.17 L373.54 154.17 L373.96 154.17 L374.38 154.17 L374.8 154.17 L375.23 154.17 L375.65 154.17 L376.07 154.17 L376.5 154.17 L376.92 154.16 L377.34 154.16 L377.77 154.16 L378.19 154.16 L378.61 154.15 L379.03 154.15 L379.46 154.15 L379.88 154.14 L380.3 154.14 L380.73 154.13 L381.15 154.13 L381.57 154.12 L382 154.11 L382.42 154.11 L382.84 154.1 L383.27 154.09 L383.69 154.08 L384.11 154.07 L384.53 154.06 L384.96 154.05 L385.38 154.03 L385.8 154.02 L386.23 154 L386.65 153.99 L387.07 153.97 L387.5 153.95 L387.92 153.92 L388.34 153.9 L388.76 153.87 L389.19 153.84 L389.61 153.81 L390.03 153.78 L390.46 153.74 L390.88 153.7 L391.3 153.66 L391.73 153.62 L392.15 153.57 L392.57 153.51 L393 153.46 L393.42 153.4 L393.84 153.33 L394.26 153.26 L394.69 153.19 L395.11 153.11 L395.53 153.03 L395.96 152.94 L396.38 152.85 L396.8 152.75 L397.23 152.64 L397.65 152.53 L398.07 152.42 L398.49 152.3 L398.92 152.17 L399.34 152.03 L399.76 151.89 L400.19 151.75 L400.61 151.59 L401.03 151.43 L401.46 151.27 L401.88 151.1 L402.3 150.92 L402.73 150.74 L403.15 150.55 L403.57 150.36 L403.99 150.16 L404.42 149.95 L404.84 149.75 L405.26 149.53 L405.69 149.32 L406.11 149.1 L406.53 148.88 L406.96 148.66 L407.38 148.43 L407.8 148.21 L408.22 147.98 L408.65 147.75 L409.07 147.53 L409.49 147.31 L409.92 147.09 L410.34 146.88 L410.76 146.67 L411.19 146.46 L411.61 146.27 L412.03 146.08 L412.46 145.9 L412.88 145.73 L413.3 145.57 L413.72 145.42 L414.15 145.29 L414.57 145.17 L414.99 145.06 L415.42 144.97 L415.84 144.9 L416.26 144.84 L416.69 144.8 L417.11 144.78 L417.53 144.77 L417.95 144.81 L418.38 144.89 L418.8 145.02 L419.22 145.19 L419.65 145.4 L420.07 145.66 L420.49 145.94 L420.92 146.25 L421.34 146.59 L421.76 146.94 L422.19 147.31 L422.61 147.69 L423.03 148.07 L423.45 148.46 L423.88 148.84 L424.3 149.22 L424.72 149.6 L425.15 149.96 L425.57 150.31 L425.99 150.65 L426.42 150.98 L426.84 151.29 L427.26 151.58 L427.68 151.85 L428.11 152.11 L428.53 152.35 L428.95 152.58 L429.38 152.79 L429.8 152.98 L430.22 153.15 L430.65 153.32 L431.07 153.46 L431.49 153.59 L431.92 153.71 L432.34 153.82 L432.76 153.92 L433.18 154.01 L433.61 154.09 L434.03 154.16 L434.45 154.22 L434.88 154.28 L435.3 154.33 L435.72 154.38 L436.15 154.42 L436.57 154.45 L436.99 154.49 L437.42 154.52 L437.84 154.54 L438.26 154.57 L438.68 154.59 L439.11 154.61 L439.53 154.63 L439.95 154.65 L440.38 154.66 L440.8 154.68 L441.22 154.69 L441.65 154.71 L442.07 154.72 L442.49 154.73 L442.91 154.75 L443.34 154.76 L443.76 154.77 L444.18 154.78 L444.61 154.79 L445.03 154.8 L445.45 154.81 L445.88 154.82 L446.3 154.83 L446.72 154.83 L447.15 154.84 L447.57 154.85 L447.99 154.86 L448.41 154.87 L448.84 154.88 L449.26 154.88 L449.68 154.89 L450.11 154.9 L450.53 154.91 L450.95 154.91 L451.38 154.92 L451.8 154.93 L452.22 154.93 L452.64 154.94 L453.07 154.95 L453.49 154.95 L453.91 154.96 L454.34 154.97 L454.76 154.97 L455.18 154.98 L455.61 154.98 L456.03 154.99 L456.45 155 L456.88 155 L457.3 155.01 L457.72 155.01 L458.14 155.02 L458.57 155.02 L458.99 155.03 L459.41 155.03 L459.84 155.04 L460.26 155.05 L460.68 155.05 L461.11 155.06 L461.53 155.06 L461.95 155.07 L462.37 155.07 L462.8 155.08 L463.22 155.08 L463.64 155.09 L464.07 155.09 L464.49 155.1 L464.91 155.1 L465.34 155.11 L465.76 155.11 L466.18 155.12 L466.61 155.12 L467.03 155.13 L467.45 155.13 L467.87 155.13 L468.3 155.14 L468.72 155.14 L469.14 155.15 L469.57 155.15 L469.99 155.16 L470.41 155.16 L470.84 155.17 L471.26 155.17 L471.68 155.18 L472.1 155.18 L472.53 155.18 L472.95 155.19 L473.37 155.19 L473.8 155.2 L474.22 155.2 L474.64 155.21 L475.07 155.21 L475.49 155.21 L475.91 155.22 L476.34 155.22 L476.76 155.23 L477.18 155.23 L477.6 155.24 L478.03 155.24 L478.45 155.24 L478.87 155.25 L479.3 155.25 L479.72 155.26 L480.14 155.26 L480.57 155.27 L480.99 155.27 L481.41 155.27 L481.83 155.28 L482.26 155.28 L482.68 155.29 L483.1 155.29 L483.53 155.29 L483.95 155.3 L484.37 155.3 L484.8 155.31 L485.22 155.31 L485.64 155.31 L486.07 155.32 L486.49 155.32 L486.91 155.33 L487.33 155.33 L487.76 155.33 L488.18 155.34 L488.6 155.34 L489.03 155.35 L489.45 155.35 L489.87 155.35 L490.3 155.36 L490.72 155.36 L491.14 155.37 L491.56 155.37 L491.99 155.37 L492.41 155.38 L492.83 155.38 L493.26 155.39 L493.68 155.39 L494.1 155.39 L494.53 155.4 L494.95 155.4 L495.37 155.41 L495.8 155.41 L496.22 155.41 L496.64 155.42 L497.06 155.42 L497.49 155.42 L497.91 155.43 L498.33 155.43 L498.76 155.44 L499.18 155.44 L499.6 155.44 L500.03 155.45 L500.45 155.45 L500.87 155.46 L501.29 155.46 L501.72 155.46 L502.14 155.47 L502.56 155.47 L502.99 155.47 L503.41 155.48 L503.83 155.48 L504.26 155.49 L504.68 155.49 L505.1 155.49 L505.53 155.5 L505.95 155.5 L506.37 155.5 L506.79 155.51 L507.22 155.51 L507.64 155.52 L508.06 155.52 L508.49 155.52 L508.91 155.53 L509.33 155.53 L509.76 155.53 L510.18 155.54 L510.6 155.54 L511.03 155.55 L511.45 155.55 L511.87 155.55 L512.29 155.56 L512.72 155.56 L513.14 155.56 L513.56 155.57 L513.99 155.57 L514.41 155.58 L514.83 155.58 L515.26 155.58 L515.68 155.59 L516.1 155.59 L516.52 155.59 L516.95 155.6 L517.37 155.6 L517.79 155.61 L518.22 155.61 L518.64 155.61 L519.06 155.62 L519.49 155.62 L519.91 155.62 L520.33 155.63 L520.76 155.63 L521.18 155.64 L521.6 155.64 L522.02 155.64 L522.45 155.65 L522.87 155.65 L523.29 155.65 L523.72 155.66 L524.14 155.66 L524.56 155.67 L524.99 155.67 L525.41 155.67 L525.83 155.68 L526.25 155.68 L526.68 155.68 L527.1 155.69 L527.52 155.69 L527.95 155.7 L528.37 155.7 L528.79 155.7 L529.22 155.71 L529.64 155.71 L530.06 155.71 L530.49 155.72 L530.91 155.72 L531.33 155.72 L531.75 155.73 L532.18 155.73 L532.6 155.74 L533.02 155.74 L533.45 155.74 L533.87 155.75 L534.29 155.75 L534.72 155.75 L535.14 155.76 L535.56 155.76 L535.98 155.77 L536.41 155.77 L536.83 155.77 L537.25 155.78 L537.68 155.78 L538.1 155.78" fill="none" stroke="#1aa35a" stroke-width="1.45" stroke-linejoin="round" stroke-linecap="round" />
<path d="M327 154.01 L327.42 154.01 L327.85 154.01 L328.27 154.02 L328.69 154.02 L329.12 154.02 L329.54 154.03 L329.96 154.03 L330.38 154.03 L330.81 154.04 L331.23 154.04 L331.65 154.04 L332.08 154.05 L332.5 154.05 L332.92 154.06 L333.35 154.06 L333.77 154.06 L334.19 154.07 L334.61 154.07 L335.04 154.07 L335.46 154.08 L335.88 154.08 L336.31 154.08 L336.73 154.09 L337.15 154.09 L337.58 154.09 L338 154.1 L338.42 154.1 L338.85 154.11 L339.27 154.11 L339.69 154.11 L340.11 154.12 L340.54 154.12 L340.96 154.12 L341.38 154.13 L341.81 154.13 L342.23 154.13 L342.65 154.14 L343.08 154.14 L343.5 154.14 L343.92 154.15 L344.34 154.15 L344.77 154.16 L345.19 154.16 L345.61 154.16 L346.04 154.17 L346.46 154.17 L346.88 154.17 L347.31 154.18 L347.73 154.18 L348.15 154.18 L348.58 154.19 L349 154.19 L349.42 154.2 L349.84 154.2 L350.27 154.2 L350.69 154.21 L351.11 154.21 L351.54 154.21 L351.96 154.22 L352.38 154.22 L352.81 154.22 L353.23 154.23 L353.65 154.23 L354.07 154.23 L354.5 154.24 L354.92 154.24 L355.34 154.25 L355.77 154.25 L356.19 154.25 L356.61 154.26 L357.04 154.26 L357.46 154.26 L357.88 154.27 L358.31 154.27 L358.73 154.27 L359.15 154.28 L359.57 154.28 L360 154.28 L360.42 154.29 L360.84 154.29 L361.27 154.3 L361.69 154.3 L362.11 154.3 L362.54 154.31 L362.96 154.31 L363.38 154.31 L363.81 154.32 L364.23 154.32 L364.65 154.32 L365.07 154.33 L365.5 154.33 L365.92 154.34 L366.34 154.34 L366.77 154.34 L367.19 154.35 L367.61 154.35 L368.04 154.35 L368.46 154.36 L368.88 154.36 L369.3 154.36 L369.73 154.37 L370.15 154.37 L370.57 154.37 L371 154.38 L371.42 154.38 L371.84 154.39 L372.27 154.39 L372.69 154.39 L373.11 154.4 L373.54 154.4 L373.96 154.4 L374.38 154.41 L374.8 154.41 L375.23 154.41 L375.65 154.42 L376.07 154.42 L376.5 154.42 L376.92 154.43 L377.34 154.43 L377.77 154.44 L378.19 154.44 L378.61 154.44 L379.03 154.45 L379.46 154.45 L379.88 154.45 L380.3 154.46 L380.73 154.46 L381.15 154.46 L381.57 154.47 L382 154.47 L382.42 154.47 L382.84 154.48 L383.27 154.48 L383.69 154.49 L384.11 154.49 L384.53 154.49 L384.96 154.5 L385.38 154.5 L385.8 154.5 L386.23 154.51 L386.65 154.51 L387.07 154.51 L387.5 154.52 L387.92 154.52 L388.34 154.53 L388.76 154.53 L389.19 154.53 L389.61 154.54 L390.03 154.54 L390.46 154.54 L390.88 154.55 L391.3 154.55 L391.73 154.55 L392.15 154.56 L392.57 154.56 L393 154.56 L393.42 154.57 L393.84 154.57 L394.26 154.58 L394.69 154.58 L395.11 154.58 L395.53 154.59 L395.96 154.59 L396.38 154.59 L396.8 154.6 L397.23 154.6 L397.65 154.6 L398.07 154.61 L398.49 154.61 L398.92 154.61 L399.34 154.62 L399.76 154.62 L400.19 154.63 L400.61 154.63 L401.03 154.63 L401.46 154.64 L401.88 154.64 L402.3 154.64 L402.73 154.64 L403.15 154.65 L403.57 154.65 L403.99 154.65 L404.42 154.65 L404.84 154.65 L405.26 154.65 L405.69 154.65 L406.11 154.65 L406.53 154.65 L406.96 154.65 L407.38 154.64 L407.8 154.63 L408.22 154.62 L408.65 154.61 L409.07 154.59 L409.49 154.57 L409.92 154.55 L410.34 154.51 L410.76 154.48 L411.19 154.43 L411.61 154.38 L412.03 154.31 L412.46 154.24 L412.88 154.15 L413.3 154.05 L413.72 153.93 L414.15 153.8 L414.57 153.65 L414.99 153.48 L415.42 153.28 L415.84 153.06 L416.26 152.82 L416.69 152.55 L417.11 152.26 L417.53 151.93 L417.95 151.58 L418.38 151.2 L418.8 150.78 L419.22 150.34 L419.65 149.87 L420.07 149.38 L420.49 148.85 L420.92 148.31 L421.34 147.74 L421.76 147.16 L422.19 146.57 L422.61 145.96 L423.03 145.35 L423.45 144.75 L423.88 144.15 L424.3 143.56 L424.72 142.99 L425.15 142.44 L425.57 141.93 L425.99 141.45 L426.42 141.01 L426.84 140.62 L427.26 140.28 L427.68 139.99 L428.11 139.77 L428.53 139.6 L428.95 139.51 L429.38 139.47 L429.8 139.51 L430.22 139.64 L430.65 139.84 L431.07 140.12 L431.49 140.47 L431.92 140.89 L432.34 141.37 L432.76 141.9 L433.18 142.48 L433.61 143.1 L434.03 143.75 L434.45 144.41 L434.88 145.1 L435.3 145.78 L435.72 146.47 L436.15 147.15 L436.57 147.81 L436.99 148.45 L437.42 149.06 L437.84 149.65 L438.26 150.2 L438.68 150.72 L439.11 151.21 L439.53 151.65 L439.95 152.06 L440.38 152.44 L440.8 152.77 L441.22 153.08 L441.65 153.35 L442.07 153.59 L442.49 153.8 L442.91 153.99 L443.34 154.15 L443.76 154.3 L444.18 154.42 L444.61 154.52 L445.03 154.61 L445.45 154.69 L445.88 154.75 L446.3 154.8 L446.72 154.85 L447.15 154.89 L447.57 154.92 L447.99 154.94 L448.41 154.97 L448.84 154.98 L449.26 155 L449.68 155.01 L450.11 155.02 L450.53 155.03 L450.95 155.04 L451.38 155.05 L451.8 155.05 L452.22 155.06 L452.64 155.07 L453.07 155.07 L453.49 155.07 L453.91 155.08 L454.34 155.08 L454.76 155.09 L455.18 155.09 L455.61 155.09 L456.03 155.1 L456.45 155.1 L456.88 155.11 L457.3 155.11 L457.72 155.11 L458.14 155.12 L458.57 155.12 L458.99 155.12 L459.41 155.13 L459.84 155.13 L460.26 155.13 L460.68 155.14 L461.11 155.14 L461.53 155.15 L461.95 155.15 L462.37 155.15 L462.8 155.16 L463.22 155.16 L463.64 155.16 L464.07 155.17 L464.49 155.17 L464.91 155.17 L465.34 155.18 L465.76 155.18 L466.18 155.19 L466.61 155.19 L467.03 155.19 L467.45 155.2 L467.87 155.2 L468.3 155.2 L468.72 155.21 L469.14 155.21 L469.57 155.21 L469.99 155.22 L470.41 155.22 L470.84 155.22 L471.26 155.23 L471.68 155.23 L472.1 155.24 L472.53 155.24 L472.95 155.24 L473.37 155.25 L473.8 155.25 L474.22 155.25 L474.64 155.26 L475.07 155.26 L475.49 155.26 L475.91 155.27 L476.34 155.27 L476.76 155.27 L477.18 155.28 L477.6 155.28 L478.03 155.29 L478.45 155.29 L478.87 155.29 L479.3 155.3 L479.72 155.3 L480.14 155.3 L480.57 155.31 L480.99 155.31 L481.41 155.31 L481.83 155.32 L482.26 155.32 L482.68 155.33 L483.1 155.33 L483.53 155.33 L483.95 155.34 L484.37 155.34 L484.8 155.34 L485.22 155.35 L485.64 155.35 L486.07 155.35 L486.49 155.36 L486.91 155.36 L487.33 155.36 L487.76 155.37 L488.18 155.37 L488.6 155.38 L489.03 155.38 L489.45 155.38 L489.87 155.39 L490.3 155.39 L490.72 155.39 L491.14 155.4 L491.56 155.4 L491.99 155.4 L492.41 155.41 L492.83 155.41 L493.26 155.41 L493.68 155.42 L494.1 155.42 L494.53 155.43 L494.95 155.43 L495.37 155.43 L495.8 155.44 L496.22 155.44 L496.64 155.44 L497.06 155.45 L497.49 155.45 L497.91 155.45 L498.33 155.46 L498.76 155.46 L499.18 155.46 L499.6 155.47 L500.03 155.47 L500.45 155.48 L500.87 155.48 L501.29 155.48 L501.72 155.49 L502.14 155.49 L502.56 155.49 L502.99 155.5 L503.41 155.5 L503.83 155.5 L504.26 155.51 L504.68 155.51 L505.1 155.52 L505.53 155.52 L505.95 155.52 L506.37 155.53 L506.79 155.53 L507.22 155.53 L507.64 155.54 L508.06 155.54 L508.49 155.54 L508.91 155.55 L509.33 155.55 L509.76 155.55 L510.18 155.56 L510.6 155.56 L511.03 155.57 L511.45 155.57 L511.87 155.57 L512.29 155.58 L512.72 155.58 L513.14 155.58 L513.56 155.59 L513.99 155.59 L514.41 155.59 L514.83 155.6 L515.26 155.6 L515.68 155.6 L516.1 155.61 L516.52 155.61 L516.95 155.62 L517.37 155.62 L517.79 155.62 L518.22 155.63 L518.64 155.63 L519.06 155.63 L519.49 155.64 L519.91 155.64 L520.33 155.64 L520.76 155.65 L521.18 155.65 L521.6 155.66 L522.02 155.66 L522.45 155.66 L522.87 155.67 L523.29 155.67 L523.72 155.67 L524.14 155.68 L524.56 155.68 L524.99 155.68 L525.41 155.69 L525.83 155.69 L526.25 155.69 L526.68 155.7 L527.1 155.7 L527.52 155.71 L527.95 155.71 L528.37 155.71 L528.79 155.72 L529.22 155.72 L529.64 155.72 L530.06 155.73 L530.49 155.73 L530.91 155.73 L531.33 155.74 L531.75 155.74 L532.18 155.74 L532.6 155.75 L533.02 155.75 L533.45 155.76 L533.87 155.76 L534.29 155.76 L534.72 155.77 L535.14 155.77 L535.56 155.77 L535.98 155.78 L536.41 155.78 L536.83 155.78 L537.25 155.79 L537.68 155.79 L538.1 155.79" fill="none" stroke="#e0a021" stroke-width="1.45" stroke-linejoin="round" stroke-linecap="round" />
<path d="M327 154 L327.42 154 L327.85 154 L328.27 154.01 L328.69 154.01 L329.12 154.01 L329.54 154.02 L329.96 154.02 L330.38 154.02 L330.81 154.03 L331.23 154.03 L331.65 154.03 L332.08 154.04 L332.5 154.04 L332.92 154.04 L333.35 154.05 L333.77 154.05 L334.19 154.06 L334.61 154.06 L335.04 154.06 L335.46 154.07 L335.88 154.07 L336.31 154.07 L336.73 154.08 L337.15 154.08 L337.58 154.08 L338 154.09 L338.42 154.09 L338.85 154.09 L339.27 154.1 L339.69 154.1 L340.11 154.1 L340.54 154.11 L340.96 154.11 L341.38 154.11 L341.81 154.12 L342.23 154.12 L342.65 154.13 L343.08 154.13 L343.5 154.13 L343.92 154.14 L344.34 154.14 L344.77 154.14 L345.19 154.15 L345.61 154.15 L346.04 154.15 L346.46 154.16 L346.88 154.16 L347.31 154.16 L347.73 154.17 L348.15 154.17 L348.58 154.17 L349 154.18 L349.42 154.18 L349.84 154.18 L350.27 154.19 L350.69 154.19 L351.11 154.19 L351.54 154.2 L351.96 154.2 L352.38 154.21 L352.81 154.21 L353.23 154.21 L353.65 154.22 L354.07 154.22 L354.5 154.22 L354.92 154.23 L355.34 154.23 L355.77 154.23 L356.19 154.24 L356.61 154.24 L357.04 154.24 L357.46 154.25 L357.88 154.25 L358.31 154.25 L358.73 154.26 L359.15 154.26 L359.57 154.26 L360 154.27 L360.42 154.27 L360.84 154.27 L361.27 154.28 L361.69 154.28 L362.11 154.28 L362.54 154.29 L362.96 154.29 L363.38 154.29 L363.81 154.3 L364.23 154.3 L364.65 154.3 L365.07 154.31 L365.5 154.31 L365.92 154.31 L366.34 154.32 L366.77 154.32 L367.19 154.33 L367.61 154.33 L368.04 154.33 L368.46 154.34 L368.88 154.34 L369.3 154.34 L369.73 154.35 L370.15 154.35 L370.57 154.35 L371 154.36 L371.42 154.36 L371.84 154.36 L372.27 154.37 L372.69 154.37 L373.11 154.37 L373.54 154.38 L373.96 154.38 L374.38 154.38 L374.8 154.39 L375.23 154.39 L375.65 154.39 L376.07 154.4 L376.5 154.4 L376.92 154.4 L377.34 154.41 L377.77 154.41 L378.19 154.41 L378.61 154.41 L379.03 154.42 L379.46 154.42 L379.88 154.42 L380.3 154.43 L380.73 154.43 L381.15 154.43 L381.57 154.44 L382 154.44 L382.42 154.44 L382.84 154.45 L383.27 154.45 L383.69 154.45 L384.11 154.46 L384.53 154.46 L384.96 154.46 L385.38 154.47 L385.8 154.47 L386.23 154.47 L386.65 154.48 L387.07 154.48 L387.5 154.48 L387.92 154.49 L388.34 154.49 L388.76 154.49 L389.19 154.49 L389.61 154.5 L390.03 154.5 L390.46 154.5 L390.88 154.51 L391.3 154.51 L391.73 154.51 L392.15 154.52 L392.57 154.52 L393 154.52 L393.42 154.52 L393.84 154.53 L394.26 154.53 L394.69 154.53 L395.11 154.54 L395.53 154.54 L395.96 154.54 L396.38 154.55 L396.8 154.55 L397.23 154.55 L397.65 154.55 L398.07 154.56 L398.49 154.56 L398.92 154.56 L399.34 154.56 L399.76 154.57 L400.19 154.57 L400.61 154.57 L401.03 154.58 L401.46 154.58 L401.88 154.58 L402.3 154.58 L402.73 154.59 L403.15 154.59 L403.57 154.59 L403.99 154.59 L404.42 154.6 L404.84 154.6 L405.26 154.6 L405.69 154.6 L406.11 154.61 L406.53 154.61 L406.96 154.61 L407.38 154.61 L407.8 154.61 L408.22 154.62 L408.65 154.62 L409.07 154.62 L409.49 154.62 L409.92 154.62 L410.34 154.62 L410.76 154.63 L411.19 154.63 L411.61 154.63 L412.03 154.63 L412.46 154.63 L412.88 154.63 L413.3 154.63 L413.72 154.63 L414.15 154.63 L414.57 154.62 L414.99 154.62 L415.42 154.62 L415.84 154.61 L416.26 154.61 L416.69 154.6 L417.11 154.59 L417.53 154.58 L417.95 154.57 L418.38 154.56 L418.8 154.54 L419.22 154.52 L419.65 154.5 L420.07 154.47 L420.49 154.43 L420.92 154.4 L421.34 154.35 L421.76 154.3 L422.19 154.24 L422.61 154.18 L423.03 154.1 L423.45 154.01 L423.88 153.92 L424.3 153.8 L424.72 153.68 L425.15 153.53 L425.57 153.37 L425.99 153.19 L426.42 152.99 L426.84 152.76 L427.26 152.51 L427.68 152.22 L428.11 151.91 L428.53 151.57 L428.95 151.19 L429.38 150.77 L429.8 150.31 L430.22 149.8 L430.65 149.25 L431.07 148.66 L431.49 148.01 L431.92 147.31 L432.34 146.55 L432.76 145.73 L433.18 144.85 L433.61 143.92 L434.03 142.91 L434.45 141.85 L434.88 140.72 L435.3 139.52 L435.72 138.25 L436.15 136.92 L436.57 135.53 L436.99 134.07 L437.42 132.55 L437.84 130.96 L438.26 129.33 L438.68 127.64 L439.11 125.9 L439.53 124.12 L439.95 122.3 L440.38 120.45 L440.8 118.58 L441.22 116.68 L441.65 114.78 L442.07 112.88 L442.49 110.98 L442.91 109.1 L443.34 107.24 L443.76 105.42 L444.18 103.64 L444.61 101.92 L445.03 100.27 L445.45 98.68 L445.88 97.18 L446.3 95.77 L446.72 94.47 L447.15 93.27 L447.57 92.19 L447.99 91.24 L448.41 90.42 L448.84 89.74 L449.26 89.2 L449.68 88.8 L450.11 88.55 L450.53 88.45 L450.95 88.5 L451.38 88.65 L451.8 88.93 L452.22 89.31 L452.64 89.81 L453.07 90.41 L453.49 91.12 L453.91 91.94 L454.34 92.85 L454.76 93.85 L455.18 94.94 L455.61 96.11 L456.03 97.36 L456.45 98.68 L456.88 100.06 L457.3 101.5 L457.72 103 L458.14 104.54 L458.57 106.11 L458.99 107.72 L459.41 109.36 L459.84 111.01 L460.26 112.67 L460.68 114.35 L461.11 116.02 L461.53 117.69 L461.95 119.35 L462.37 120.99 L462.8 122.61 L463.22 124.21 L463.64 125.78 L464.07 127.31 L464.49 128.82 L464.91 130.28 L465.34 131.7 L465.76 133.08 L466.18 134.41 L466.61 135.69 L467.03 136.93 L467.45 138.11 L467.87 139.25 L468.3 140.33 L468.72 141.36 L469.14 142.35 L469.57 143.28 L469.99 144.16 L470.41 145 L470.84 145.79 L471.26 146.53 L471.68 147.22 L472.1 147.87 L472.53 148.48 L472.95 149.05 L473.37 149.58 L473.8 150.07 L474.22 150.53 L474.64 150.95 L475.07 151.34 L475.49 151.7 L475.91 152.04 L476.34 152.34 L476.76 152.62 L477.18 152.88 L477.6 153.11 L478.03 153.33 L478.45 153.52 L478.87 153.7 L479.3 153.86 L479.72 154 L480.14 154.14 L480.57 154.26 L480.99 154.37 L481.41 154.46 L481.83 154.55 L482.26 154.63 L482.68 154.7 L483.1 154.77 L483.53 154.82 L483.95 154.87 L484.37 154.92 L484.8 154.96 L485.22 155 L485.64 155.03 L486.07 155.06 L486.49 155.09 L486.91 155.12 L487.33 155.14 L487.76 155.16 L488.18 155.18 L488.6 155.19 L489.03 155.21 L489.45 155.22 L489.87 155.23 L490.3 155.24 L490.72 155.26 L491.14 155.27 L491.56 155.27 L491.99 155.28 L492.41 155.29 L492.83 155.3 L493.26 155.31 L493.68 155.31 L494.1 155.32 L494.53 155.33 L494.95 155.33 L495.37 155.34 L495.8 155.35 L496.22 155.35 L496.64 155.36 L497.06 155.36 L497.49 155.37 L497.91 155.37 L498.33 155.38 L498.76 155.38 L499.18 155.39 L499.6 155.39 L500.03 155.4 L500.45 155.4 L500.87 155.41 L501.29 155.41 L501.72 155.42 L502.14 155.42 L502.56 155.43 L502.99 155.43 L503.41 155.44 L503.83 155.44 L504.26 155.44 L504.68 155.45 L505.1 155.45 L505.53 155.46 L505.95 155.46 L506.37 155.47 L506.79 155.47 L507.22 155.48 L507.64 155.48 L508.06 155.48 L508.49 155.49 L508.91 155.49 L509.33 155.5 L509.76 155.5 L510.18 155.51 L510.6 155.51 L511.03 155.51 L511.45 155.52 L511.87 155.52 L512.29 155.53 L512.72 155.53 L513.14 155.54 L513.56 155.54 L513.99 155.54 L514.41 155.55 L514.83 155.55 L515.26 155.56 L515.68 155.56 L516.1 155.57 L516.52 155.57 L516.95 155.57 L517.37 155.58 L517.79 155.58 L518.22 155.59 L518.64 155.59 L519.06 155.59 L519.49 155.6 L519.91 155.6 L520.33 155.61 L520.76 155.61 L521.18 155.61 L521.6 155.62 L522.02 155.62 L522.45 155.63 L522.87 155.63 L523.29 155.63 L523.72 155.64 L524.14 155.64 L524.56 155.65 L524.99 155.65 L525.41 155.65 L525.83 155.66 L526.25 155.66 L526.68 155.67 L527.1 155.67 L527.52 155.67 L527.95 155.68 L528.37 155.68 L528.79 155.69 L529.22 155.69 L529.64 155.69 L530.06 155.7 L530.49 155.7 L530.91 155.7 L531.33 155.71 L531.75 155.71 L532.18 155.72 L532.6 155.72 L533.02 155.72 L533.45 155.73 L533.87 155.73 L534.29 155.74 L534.72 155.74 L535.14 155.74 L535.56 155.75 L535.98 155.75 L536.41 155.76 L536.83 155.76 L537.25 155.76 L537.68 155.77 L538.1 155.77" fill="none" stroke="#22c8d6" stroke-width="1.45" stroke-linejoin="round" stroke-linecap="round" />
<path d="M327 153.7 L327.42 153.7 L327.85 153.7 L328.27 153.7 L328.69 153.7 L329.12 153.7 L329.54 153.7 L329.96 153.7 L330.38 153.7 L330.81 153.7 L331.23 153.7 L331.65 153.7 L332.08 153.7 L332.5 153.7 L332.92 153.7 L333.35 153.7 L333.77 153.69 L334.19 153.69 L334.61 153.69 L335.04 153.69 L335.46 153.69 L335.88 153.69 L336.31 153.69 L336.73 153.68 L337.15 153.68 L337.58 153.68 L338 153.68 L338.42 153.68 L338.85 153.67 L339.27 153.67 L339.69 153.67 L340.11 153.67 L340.54 153.66 L340.96 153.66 L341.38 153.66 L341.81 153.65 L342.23 153.65 L342.65 153.65 L343.08 153.64 L343.5 153.64 L343.92 153.63 L344.34 153.63 L344.77 153.63 L345.19 153.62 L345.61 153.62 L346.04 153.61 L346.46 153.61 L346.88 153.6 L347.31 153.59 L347.73 153.59 L348.15 153.58 L348.58 153.58 L349 153.57 L349.42 153.56 L349.84 153.55 L350.27 153.55 L350.69 153.54 L351.11 153.53 L351.54 153.52 L351.96 153.51 L352.38 153.51 L352.81 153.5 L353.23 153.49 L353.65 153.48 L354.07 153.46 L354.5 153.45 L354.92 153.44 L355.34 153.43 L355.77 153.42 L356.19 153.4 L356.61 153.39 L357.04 153.38 L357.46 153.36 L357.88 153.35 L358.31 153.33 L358.73 153.31 L359.15 153.3 L359.57 153.28 L360 153.26 L360.42 153.24 L360.84 153.21 L361.27 153.19 L361.69 153.17 L362.11 153.14 L362.54 153.12 L362.96 153.09 L363.38 153.06 L363.81 153.02 L364.23 152.99 L364.65 152.95 L365.07 152.92 L365.5 152.88 L365.92 152.83 L366.34 152.78 L366.77 152.73 L367.19 152.68 L367.61 152.62 L368.04 152.56 L368.46 152.5 L368.88 152.43 L369.3 152.35 L369.73 152.27 L370.15 152.19 L370.57 152.09 L371 152 L371.42 151.89 L371.84 151.78 L372.27 151.66 L372.69 151.53 L373.11 151.39 L373.54 151.25 L373.96 151.09 L374.38 150.92 L374.8 150.75 L375.23 150.56 L375.65 150.36 L376.07 150.15 L376.5 149.93 L376.92 149.7 L377.34 149.45 L377.77 149.19 L378.19 148.91 L378.61 148.63 L379.03 148.33 L379.46 148.01 L379.88 147.69 L380.3 147.35 L380.73 146.99 L381.15 146.62 L381.57 146.24 L382 145.85 L382.42 145.44 L382.84 145.03 L383.27 144.6 L383.69 144.16 L384.11 143.71 L384.53 143.26 L384.96 142.8 L385.38 142.33 L385.8 141.86 L386.23 141.38 L386.65 140.91 L387.07 140.44 L387.5 139.97 L387.92 139.51 L388.34 139.05 L388.76 138.61 L389.19 138.18 L389.61 137.77 L390.03 137.39 L390.46 137.02 L390.88 136.68 L391.3 136.38 L391.73 136.1 L392.15 135.86 L392.57 135.66 L393 135.5 L393.42 135.37 L393.84 135.29 L394.26 135.25 L394.69 135.26 L395.11 135.31 L395.53 135.4 L395.96 135.53 L396.38 135.7 L396.8 135.9 L397.23 136.13 L397.65 136.38 L398.07 136.66 L398.49 136.95 L398.92 137.26 L399.34 137.58 L399.76 137.9 L400.19 138.23 L400.61 138.55 L401.03 138.87 L401.46 139.19 L401.88 139.5 L402.3 139.8 L402.73 140.09 L403.15 140.36 L403.57 140.63 L403.99 140.87 L404.42 141.1 L404.84 141.32 L405.26 141.51 L405.69 141.69 L406.11 141.85 L406.53 141.99 L406.96 142.12 L407.38 142.22 L407.8 142.31 L408.22 142.38 L408.65 142.43 L409.07 142.47 L409.49 142.49 L409.92 142.5 L410.34 142.48 L410.76 142.46 L411.19 142.42 L411.61 142.36 L412.03 142.29 L412.46 142.2 L412.88 142.11 L413.3 141.99 L413.72 141.87 L414.15 141.73 L414.57 141.57 L414.99 141.4 L415.42 141.22 L415.84 141.02 L416.26 140.8 L416.69 140.57 L417.11 140.32 L417.53 140.05 L417.95 139.78 L418.38 139.52 L418.8 139.28 L419.22 139.04 L419.65 138.81 L420.07 138.58 L420.49 138.35 L420.92 138.12 L421.34 137.88 L421.76 137.64 L422.19 137.38 L422.61 137.12 L423.03 136.84 L423.45 136.56 L423.88 136.27 L424.3 135.97 L424.72 135.66 L425.15 135.35 L425.57 135.04 L425.99 134.74 L426.42 134.43 L426.84 134.14 L427.26 133.85 L427.68 133.57 L428.11 133.31 L428.53 133.05 L428.95 132.8 L429.38 132.57 L429.8 132.35 L430.22 132.15 L430.65 131.97 L431.07 131.81 L431.49 131.65 L431.92 131.5 L432.34 131.33 L432.76 131.15 L433.18 130.95 L433.61 130.71 L434.03 130.43 L434.45 130.1 L434.88 129.71 L435.3 129.25 L435.72 128.72 L436.15 128.11 L436.57 127.41 L436.99 126.63 L437.42 125.76 L437.84 124.79 L438.26 123.73 L438.68 122.59 L439.11 121.36 L439.53 120.04 L439.95 118.65 L440.38 117.19 L440.8 115.67 L441.22 114.1 L441.65 112.48 L442.07 110.83 L442.49 109.16 L442.91 107.47 L443.34 105.79 L443.76 104.12 L444.18 102.47 L444.61 100.87 L445.03 99.31 L445.45 97.81 L445.88 96.38 L446.3 95.03 L446.72 93.78 L447.15 92.63 L447.57 91.59 L447.99 90.66 L448.41 89.87 L448.84 89.21 L449.26 88.69 L449.68 88.31 L450.11 88.08 L450.53 88 L450.95 88.05 L451.38 88.22 L451.8 88.5 L452.22 88.9 L452.64 89.4 L453.07 90.01 L453.49 90.73 L453.91 91.55 L454.34 92.47 L454.76 93.48 L455.18 94.57 L455.61 95.75 L456.03 97 L456.45 98.33 L456.88 99.72 L457.3 101.17 L457.72 102.66 L458.14 104.21 L458.57 105.79 L458.99 107.4 L459.41 109.04 L459.84 110.7 L460.26 112.37 L460.68 114.05 L461.11 115.72 L461.53 117.4 L461.95 119.06 L462.37 120.7 L462.8 122.33 L463.22 123.93 L463.64 125.51 L464.07 127.05 L464.49 128.55 L464.91 130.02 L465.34 131.44 L465.76 132.82 L466.18 134.16 L466.61 135.44 L467.03 136.68 L467.45 137.87 L467.87 139.01 L468.3 140.09 L468.72 141.13 L469.14 142.12 L469.57 143.05 L469.99 143.94 L470.41 144.78 L470.84 145.57 L471.26 146.31 L471.68 147.01 L472.1 147.66 L472.53 148.27 L472.95 148.84 L473.37 149.38 L473.8 149.87 L474.22 150.33 L474.64 150.76 L475.07 151.15 L475.49 151.51 L475.91 151.84 L476.34 152.15 L476.76 152.43 L477.18 152.69 L477.6 152.93 L478.03 153.14 L478.45 153.34 L478.87 153.52 L479.3 153.68 L479.72 153.83 L480.14 153.97 L480.57 154.09 L480.99 154.2 L481.41 154.3 L481.83 154.39 L482.26 154.47 L482.68 154.54 L483.1 154.61 L483.53 154.67 L483.95 154.72 L484.37 154.77 L484.8 154.81 L485.22 154.85 L485.64 154.88 L486.07 154.92 L486.49 154.94 L486.91 154.97 L487.33 154.99 L487.76 155.01 L488.18 155.03 L488.6 155.05 L489.03 155.07 L489.45 155.08 L489.87 155.1 L490.3 155.11 L490.72 155.12 L491.14 155.13 L491.56 155.14 L491.99 155.15 L492.41 155.16 L492.83 155.17 L493.26 155.18 L493.68 155.19 L494.1 155.2 L494.53 155.2 L494.95 155.21 L495.37 155.22 L495.8 155.23 L496.22 155.23 L496.64 155.24 L497.06 155.24 L497.49 155.25 L497.91 155.26 L498.33 155.26 L498.76 155.27 L499.18 155.28 L499.6 155.28 L500.03 155.29 L500.45 155.29 L500.87 155.3 L501.29 155.3 L501.72 155.31 L502.14 155.32 L502.56 155.32 L502.99 155.33 L503.41 155.33 L503.83 155.34 L504.26 155.34 L504.68 155.35 L505.1 155.35 L505.53 155.36 L505.95 155.36 L506.37 155.37 L506.79 155.37 L507.22 155.38 L507.64 155.39 L508.06 155.39 L508.49 155.4 L508.91 155.4 L509.33 155.41 L509.76 155.41 L510.18 155.42 L510.6 155.42 L511.03 155.43 L511.45 155.43 L511.87 155.44 L512.29 155.44 L512.72 155.44 L513.14 155.45 L513.56 155.45 L513.99 155.46 L514.41 155.46 L514.83 155.47 L515.26 155.47 L515.68 155.48 L516.1 155.48 L516.52 155.49 L516.95 155.49 L517.37 155.5 L517.79 155.5 L518.22 155.51 L518.64 155.51 L519.06 155.52 L519.49 155.52 L519.91 155.53 L520.33 155.53 L520.76 155.53 L521.18 155.54 L521.6 155.54 L522.02 155.55 L522.45 155.55 L522.87 155.56 L523.29 155.56 L523.72 155.57 L524.14 155.57 L524.56 155.57 L524.99 155.58 L525.41 155.58 L525.83 155.59 L526.25 155.59 L526.68 155.6 L527.1 155.6 L527.52 155.61 L527.95 155.61 L528.37 155.61 L528.79 155.62 L529.22 155.62 L529.64 155.63 L530.06 155.63 L530.49 155.64 L530.91 155.64 L531.33 155.64 L531.75 155.65 L532.18 155.65 L532.6 155.66 L533.02 155.66 L533.45 155.67 L533.87 155.67 L534.29 155.67 L534.72 155.68 L535.14 155.68 L535.56 155.69 L535.98 155.69 L536.41 155.7 L536.83 155.7 L537.25 155.7 L537.68 155.71 L538.1 155.71" fill="none" stroke="#f42c30" stroke-width="1.55" stroke-linejoin="round" stroke-linecap="round" />
<text x="355.3" y="51.2" font-size="7.5" font-weight="bold" text-anchor="middle" fill="#111" stroke="#111" stroke-width="0.18" >288.6 eV</text>
<text x="355.3" y="60.5" font-size="7.5" font-weight="bold" text-anchor="middle" fill="#111" stroke="#111" stroke-width="0.18" >(C=O)</text>
<line x1="369.5" y1="54.5" x2="387.55" y2="63.99" stroke="#111" stroke-width="1.0"/>
<path d="M391 65.8 L386.22 65.43 L387.99 62.07 Z" fill="#111"/>
<text x="393.4" y="43.5" font-size="7.5" font-weight="bold" text-anchor="middle" fill="#111" stroke="#111" stroke-width="0.18" >286.6 eV</text>
<text x="393.4" y="52.8" font-size="7.5" font-weight="bold" text-anchor="middle" fill="#111" stroke="#111" stroke-width="0.18" >(C-O)</text>
<line x1="404.6" y1="52.2" x2="417.93" y2="67.46" stroke="#111" stroke-width="1.0"/>
<path d="M420.5 70.4 L416.17 68.34 L419.04 65.84 Z" fill="#111"/>
<text x="425.2" y="37.3" font-size="7.5" font-weight="bold" text-anchor="middle" fill="#111" stroke="#111" stroke-width="0.18" >286.0 eV</text>
<text x="425.2" y="46.6" font-size="7.5" font-weight="bold" text-anchor="middle" fill="#111" stroke="#111" stroke-width="0.18" >(C-N)</text>
<line x1="425.3" y1="50.4" x2="430.8" y2="64.76" stroke="#111" stroke-width="1.0"/>
<path d="M432.2 68.4 L428.85 64.97 L432.4 63.61 Z" fill="#111"/>
<text x="475.8" y="29.8" font-size="7.5" font-weight="bold" text-anchor="middle" fill="#111" stroke="#111" stroke-width="0.18" >284.8 eV</text>
<text x="475.8" y="39.1" font-size="7.5" font-weight="bold" text-anchor="middle" fill="#111" stroke="#111" stroke-width="0.18" >(C-C)</text>
<line x1="466.6" y1="21.6" x2="457.03" y2="16.45" stroke="#111" stroke-width="1.0"/>
<path d="M453.6 14.6 L458.37 15.01 L456.57 18.36 Z" fill="#111"/>
<text x="536.9" y="83.2" font-size="8.2" font-weight="bold" text-anchor="end" fill="#111" stroke="#111" stroke-width="0.18" >FNBV-3</text>
<text x="360.2" y="120.7" font-size="7.5" font-weight="bold" text-anchor="middle" fill="#111" stroke="#111" stroke-width="0.18" >288.5 eV</text>
<text x="360.2" y="130" font-size="7.5" font-weight="bold" text-anchor="middle" fill="#111" stroke="#111" stroke-width="0.18" >(C=O)</text>
<line x1="373.7" y1="125.4" x2="387.33" y2="132.42" stroke="#111" stroke-width="1.0"/>
<path d="M390.8 134.2 L386.02 133.88 L387.76 130.5 Z" fill="#111"/>
<text x="392.4" y="108.2" font-size="7.5" font-weight="bold" text-anchor="middle" fill="#111" stroke="#111" stroke-width="0.18" >286.9 eV</text>
<text x="392.4" y="117.5" font-size="7.5" font-weight="bold" text-anchor="middle" fill="#111" stroke="#111" stroke-width="0.18" >(C-O)</text>
<line x1="402.3" y1="121.3" x2="414.98" y2="139.59" stroke="#111" stroke-width="1.0"/>
<path d="M417.2 142.8 L413.13 140.27 L416.26 138.1 Z" fill="#111"/>
<text x="423" y="113.4" font-size="7.5" font-weight="bold" text-anchor="middle" fill="#111" stroke="#111" stroke-width="0.18" >286.2 eV</text>
<text x="423" y="122.7" font-size="7.5" font-weight="bold" text-anchor="middle" fill="#111" stroke="#111" stroke-width="0.18" >(C-N)</text>
<line x1="422.4" y1="125.4" x2="426.92" y2="133.59" stroke="#111" stroke-width="1.0"/>
<path d="M428.8 137 L425.01 134.07 L428.34 132.23 Z" fill="#111"/>
<text x="478.3" y="106.7" font-size="7.5" font-weight="bold" text-anchor="middle" fill="#111" stroke="#111" stroke-width="0.18" >284.8 eV</text>
<text x="478.3" y="116" font-size="7.5" font-weight="bold" text-anchor="middle" fill="#111" stroke="#111" stroke-width="0.18" >(C-C)</text>
<line x1="478" y1="100.5" x2="460.76" y2="92.79" stroke="#111" stroke-width="1.0"/>
<path d="M457.2 91.2 L461.99 91.26 L460.44 94.73 Z" fill="#111"/>
<text x="532.8" y="155" font-size="8.2" font-weight="bold" text-anchor="end" fill="#111" stroke="#111" stroke-width="0.18" >FN</text>
<rect x="28.2" y="210.8" width="212.6" height="149.6" fill="none" stroke="#151515" stroke-width="1.4"/>
<line x1="28.2" y1="360.4" x2="28.2" y2="363.6" stroke="#151515" stroke-width="1"/>
<line x1="54.78" y1="360.4" x2="54.78" y2="363.6" stroke="#151515" stroke-width="1"/>
<line x1="81.35" y1="360.4" x2="81.35" y2="363.6" stroke="#151515" stroke-width="1"/>
<line x1="107.93" y1="360.4" x2="107.93" y2="363.6" stroke="#151515" stroke-width="1"/>
<line x1="134.5" y1="360.4" x2="134.5" y2="363.6" stroke="#151515" stroke-width="1"/>
<line x1="161.07" y1="360.4" x2="161.07" y2="363.6" stroke="#151515" stroke-width="1"/>
<line x1="187.65" y1="360.4" x2="187.65" y2="363.6" stroke="#151515" stroke-width="1"/>
<line x1="214.23" y1="360.4" x2="214.23" y2="363.6" stroke="#151515" stroke-width="1"/>
<line x1="240.8" y1="360.4" x2="240.8" y2="363.6" stroke="#151515" stroke-width="1"/>
<line x1="41.49" y1="360.4" x2="41.49" y2="362.4" stroke="#151515" stroke-width="0.9"/>
<line x1="68.06" y1="360.4" x2="68.06" y2="362.4" stroke="#151515" stroke-width="0.9"/>
<line x1="94.64" y1="360.4" x2="94.64" y2="362.4" stroke="#151515" stroke-width="0.9"/>
<line x1="121.21" y1="360.4" x2="121.21" y2="362.4" stroke="#151515" stroke-width="0.9"/>
<line x1="147.79" y1="360.4" x2="147.79" y2="362.4" stroke="#151515" stroke-width="0.9"/>
<line x1="174.36" y1="360.4" x2="174.36" y2="362.4" stroke="#151515" stroke-width="0.9"/>
<line x1="200.94" y1="360.4" x2="200.94" y2="362.4" stroke="#151515" stroke-width="0.9"/>
<line x1="227.51" y1="360.4" x2="227.51" y2="362.4" stroke="#151515" stroke-width="0.9"/>
<text x="28.2" y="372" font-size="7.8" font-weight="bold" text-anchor="middle" fill="#111" stroke="#111" stroke-width="0.18" >170</text>
<text x="54.78" y="372" font-size="7.8" font-weight="bold" text-anchor="middle" fill="#111" stroke="#111" stroke-width="0.18" >168</text>
<text x="81.35" y="372" font-size="7.8" font-weight="bold" text-anchor="middle" fill="#111" stroke="#111" stroke-width="0.18" >166</text>
<text x="107.93" y="372" font-size="7.8" font-weight="bold" text-anchor="middle" fill="#111" stroke="#111" stroke-width="0.18" >164</text>
<text x="134.5" y="372" font-size="7.8" font-weight="bold" text-anchor="middle" fill="#111" stroke="#111" stroke-width="0.18" >162</text>
<text x="161.07" y="372" font-size="7.8" font-weight="bold" text-anchor="middle" fill="#111" stroke="#111" stroke-width="0.18" >160</text>
<text x="187.65" y="372" font-size="7.8" font-weight="bold" text-anchor="middle" fill="#111" stroke="#111" stroke-width="0.18" >158</text>
<text x="214.23" y="372" font-size="7.8" font-weight="bold" text-anchor="middle" fill="#111" stroke="#111" stroke-width="0.18" >156</text>
<text x="240.8" y="372" font-size="7.8" font-weight="bold" text-anchor="middle" fill="#111" stroke="#111" stroke-width="0.18" >154</text>
<text x="134.5" y="389" font-size="10.4" font-weight="bold" text-anchor="middle" fill="#111" stroke="#111" stroke-width="0.18" >Binding Energy (eV)</text>
<text x="20.6" y="284" font-size="10.3" font-weight="bold" text-anchor="middle" fill="#111" stroke="#111" stroke-width="0.18" transform="rotate(-90 20.6 284)" >Intensity (a.u.)</text>
<text x="7" y="215.3" font-size="11.3" font-weight="bold" text-anchor="start" fill="#111" stroke="#111" stroke-width="0.18" >(c)</text>
<text x="32.4" y="220.9" font-size="8.7" font-weight="bold" text-anchor="start" fill="#111" stroke="#111" stroke-width="0.18" >Bi 4f</text>
<path d="M28.8 276.73 L29.22 276.75 L29.65 276.76 L30.07 276.78 L30.49 276.8 L30.92 276.81 L31.34 276.83 L31.77 276.84 L32.19 276.86 L32.61 276.88 L33.04 276.89 L33.46 276.91 L33.88 276.92 L34.31 276.94 L34.73 276.96 L35.15 276.97 L35.58 276.99 L36 277.01 L36.43 277.02 L36.85 277.04 L37.27 277.05 L37.7 277.07 L38.12 277.09 L38.54 277.1 L38.97 277.12 L39.39 277.13 L39.81 277.15 L40.24 277.17 L40.66 277.18 L41.09 277.2 L41.51 277.22 L41.93 277.23 L42.36 277.25 L42.78 277.26 L43.2 277.28 L43.63 277.3 L44.05 277.31 L44.47 277.33 L44.9 277.35 L45.32 277.36 L45.75 277.38 L46.17 277.39 L46.59 277.41 L47.02 277.43 L47.44 277.44 L47.86 277.46 L48.29 277.47 L48.71 277.49 L49.14 277.51 L49.56 277.52 L49.98 277.54 L50.41 277.56 L50.83 277.57 L51.25 277.59 L51.68 277.6 L52.1 277.62 L52.52 277.64 L52.95 277.65 L53.37 277.67 L53.8 277.69 L54.22 277.7 L54.64 277.72 L55.07 277.73 L55.49 277.75 L55.91 277.77 L56.34 277.78 L56.76 277.8 L57.18 277.82 L57.61 277.83 L58.03 277.85 L58.46 277.86 L58.88 277.88 L59.3 277.9 L59.73 277.91 L60.15 277.93 L60.57 277.95 L61 277.96 L61.42 277.98 L61.84 277.99 L62.27 278.01 L62.69 278.03 L63.12 278.04 L63.54 278.06 L63.96 278.08 L64.39 278.09 L64.81 278.11 L65.23 278.13 L65.66 278.14 L66.08 278.16 L66.5 278.17 L66.93 278.19 L67.35 278.21 L67.78 278.22 L68.2 278.24 L68.62 278.26 L69.05 278.27 L69.47 278.29 L69.89 278.31 L70.32 278.32 L70.74 278.34 L71.16 278.35 L71.59 278.37 L72.01 278.39 L72.44 278.4 L72.86 278.42 L73.28 278.44 L73.71 278.45 L74.13 278.47 L74.55 278.49 L74.98 278.5 L75.4 278.52 L75.82 278.54 L76.25 278.55 L76.67 278.57 L77.1 278.58 L77.52 278.6 L77.94 278.62 L78.37 278.62 L78.79 278.62 L79.21 278.62 L79.64 278.62 L80.06 278.62 L80.48 278.62 L80.91 278.62 L81.33 278.63 L81.76 278.63 L82.18 278.63 L82.6 278.63 L83.03 278.63 L83.45 278.63 L83.87 278.63 L84.3 278.63 L84.72 278.64 L85.15 278.64 L85.57 278.64 L85.99 278.64 L86.42 278.65 L86.84 278.65 L87.26 278.65 L87.69 278.66 L88.11 278.66 L88.53 278.67 L88.96 278.68 L89.38 278.68 L89.81 278.69 L90.23 278.7 L90.65 278.71 L91.08 278.72 L91.5 278.74 L91.92 278.75 L92.35 278.77 L92.77 278.79 L93.19 278.81 L93.62 278.83 L94.04 278.86 L94.47 278.88 L94.89 278.91 L95.31 278.95 L95.74 278.98 L96.16 279.02 L96.58 279.06 L97.01 279.1 L97.43 279.15 L97.85 279.2 L98.28 279.25 L98.7 279.3 L99.13 279.35 L99.55 279.41 L99.97 279.47 L100.4 279.53 L100.82 279.6 L101.24 279.66 L101.67 279.73 L102.09 279.79 L102.51 279.86 L102.94 279.93 L103.36 280 L103.79 280.07 L104.21 280.13 L104.63 280.2 L105.06 280.27 L105.48 280.33 L105.9 280.39 L106.33 280.45 L106.75 280.51 L107.17 280.57 L107.6 280.63 L108.02 280.68 L108.45 280.73 L108.87 280.78 L109.29 280.82 L109.72 280.87 L110.14 280.91 L110.56 280.94 L110.99 280.98 L111.41 281.01 L111.83 281.04 L112.26 281.07 L112.68 281.1 L113.11 281.12 L113.53 281.14 L113.95 281.16 L114.38 281.18 L114.8 281.2 L115.22 281.21 L115.65 281.23 L116.07 281.24 L116.49 281.25 L116.92 281.26 L117.34 281.27 L117.77 281.28 L118.19 281.28 L118.61 281.29 L119.04 281.29 L119.46 281.3 L119.88 281.3 L120.31 281.31 L120.73 281.31 L121.16 281.31 L121.58 281.31 L122 281.32 L122.43 281.32 L122.85 281.32 L123.27 281.32 L123.7 281.32 L124.12 281.33 L124.54 281.33 L124.97 281.33 L125.39 281.33 L125.82 281.33 L126.24 281.33 L126.66 281.33 L127.09 281.33 L127.51 281.33 L127.93 281.33 L128.36 281.33 L128.78 281.33 L129.2 281.34 L129.63 281.34 L130.05 281.34 L130.48 281.34 L130.9 281.34 L131.32 281.34 L131.75 281.34 L132.17 281.34 L132.59 281.34 L133.02 281.34 L133.44 281.34 L133.86 281.34 L134.29 281.34 L134.71 281.34 L135.14 281.34 L135.56 281.34 L135.98 281.34 L136.41 281.34 L136.83 281.34 L137.25 281.34 L137.68 281.34 L138.1 281.34 L138.52 281.35 L138.95 281.35 L139.37 281.35 L139.8 281.35 L140.22 281.35 L140.64 281.35 L141.07 281.35 L141.49 281.35 L141.91 281.35 L142.34 281.35 L142.76 281.35 L143.18 281.35 L143.61 281.35 L144.03 281.35 L144.46 281.35 L144.88 281.35 L145.3 281.35 L145.73 281.35 L146.15 281.35 L146.57 281.35 L147 281.35 L147.42 281.35 L147.84 281.35 L148.27 281.35 L148.69 281.35 L149.12 281.36 L149.54 281.36 L149.96 281.36 L150.39 281.36 L150.81 281.36 L151.23 281.36 L151.66 281.36 L152.08 281.36 L152.51 281.36 L152.93 281.36 L153.35 281.36 L153.78 281.36 L154.2 281.36 L154.62 281.36 L155.05 281.36 L155.47 281.37 L155.89 281.37 L156.32 281.37 L156.74 281.37 L157.17 281.37 L157.59 281.37 L158.01 281.38 L158.44 281.38 L158.86 281.38 L159.28 281.39 L159.71 281.39 L160.13 281.39 L160.55 281.4 L160.98 281.41 L161.4 281.41 L161.83 281.42 L162.25 281.43 L162.67 281.44 L163.1 281.45 L163.52 281.46 L163.94 281.47 L164.37 281.48 L164.79 281.5 L165.21 281.51 L165.64 281.53 L166.06 281.55 L166.49 281.57 L166.91 281.59 L167.33 281.61 L167.76 281.64 L168.18 281.66 L168.6 281.69 L169.03 281.72 L169.45 281.75 L169.87 281.78 L170.3 281.81 L170.72 281.84 L171.15 281.88 L171.57 281.91 L171.99 281.95 L172.42 281.98 L172.84 282.02 L173.26 282.05 L173.69 282.09 L174.11 282.13 L174.53 282.16 L174.96 282.2 L175.38 282.23 L175.81 282.27 L176.23 282.3 L176.65 282.33 L177.08 282.36 L177.5 282.39 L177.92 282.42 L178.35 282.45 L178.77 282.47 L179.19 282.5 L179.62 282.52 L180.04 282.55 L180.47 282.57 L180.89 282.59 L181.31 282.6 L181.74 282.62 L182.16 282.64 L182.58 282.65 L183.01 282.67 L183.43 282.68 L183.85 282.69 L184.28 282.7 L184.7 282.71 L185.13 282.72 L185.55 282.73 L185.97 282.73 L186.4 282.74 L186.82 282.74 L187.24 282.75 L187.67 282.75 L188.09 282.76 L188.52 282.76 L188.94 282.76 L189.36 282.77 L189.79 282.77 L190.21 282.77 L190.63 282.77 L191.06 282.77 L191.48 282.78 L191.9 282.78 L192.33 282.78 L192.75 282.78 L193.18 282.78 L193.6 282.78 L194.02 282.78 L194.45 282.78 L194.87 282.78 L195.29 282.78 L195.72 282.78 L196.14 282.78 L196.56 282.79 L196.99 282.79 L197.41 282.79 L197.84 282.79 L198.26 282.79 L198.68 282.79 L199.11 282.79 L199.53 282.79 L199.95 282.79 L200.38 282.79 L200.8 282.79 L201.22 282.79 L201.65 282.79 L202.07 282.79 L202.5 282.79 L202.92 282.79 L203.34 282.79 L203.77 282.79 L204.19 282.79 L204.61 282.79 L205.04 282.79 L205.46 282.79 L205.88 282.79 L206.31 282.79 L206.73 282.79 L207.16 282.79 L207.58 282.79 L208 282.79 L208.43 282.79 L208.85 282.79 L209.27 282.79 L209.7 282.79 L210.12 282.79 L210.54 282.79 L210.97 282.79 L211.39 282.79 L211.82 282.79 L212.24 282.79 L212.66 282.79 L213.09 282.79 L213.51 282.79 L213.93 282.79 L214.36 282.79 L214.78 282.79 L215.2 282.79 L215.63 282.79 L216.05 282.8 L216.48 282.8 L216.9 282.8 L217.32 282.8 L217.75 282.8 L218.17 282.8 L218.59 282.8 L219.02 282.8 L219.44 282.8 L219.86 282.8 L220.29 282.8 L220.71 282.8 L221.14 282.8 L221.56 282.8 L221.98 282.8 L222.41 282.8 L222.83 282.8 L223.25 282.8 L223.68 282.8 L224.1 282.8 L224.53 282.8 L224.95 282.8 L225.37 282.8 L225.8 282.8 L226.22 282.8 L226.64 282.8 L227.07 282.8 L227.49 282.8 L227.91 282.8 L228.34 282.8 L228.76 282.8 L229.19 282.8 L229.61 282.8 L230.03 282.8 L230.46 282.8 L230.88 282.8 L231.3 282.8 L231.73 282.8 L232.15 282.8 L232.57 282.8 L233 282.8 L233.42 282.8 L233.85 282.8 L234.27 282.8 L234.69 282.8 L235.12 282.8 L235.54 282.8 L235.96 282.8 L236.39 282.8 L236.81 282.8 L237.23 282.8 L237.66 282.8 L238.08 282.8 L238.51 282.8 L238.93 282.8 L239.35 282.8 L239.78 282.8 L240.2 282.8" fill="none" stroke="#b76de6" stroke-width="1.45" stroke-linejoin="round" stroke-linecap="round" />
<path d="M28.8 276.67 L29.22 276.69 L29.65 276.7 L30.07 276.72 L30.49 276.73 L30.92 276.75 L31.34 276.76 L31.77 276.78 L32.19 276.8 L32.61 276.81 L33.04 276.83 L33.46 276.84 L33.88 276.86 L34.31 276.87 L34.73 276.89 L35.15 276.9 L35.58 276.92 L36 276.93 L36.43 276.95 L36.85 276.96 L37.27 276.98 L37.7 277 L38.12 277.01 L38.54 277.03 L38.97 277.04 L39.39 277.06 L39.81 277.07 L40.24 277.09 L40.66 277.1 L41.09 277.12 L41.51 277.13 L41.93 277.15 L42.36 277.16 L42.78 277.18 L43.2 277.19 L43.63 277.21 L44.05 277.22 L44.47 277.24 L44.9 277.25 L45.32 277.27 L45.75 277.28 L46.17 277.3 L46.59 277.31 L47.02 277.33 L47.44 277.34 L47.86 277.36 L48.29 277.37 L48.71 277.39 L49.14 277.4 L49.56 277.42 L49.98 277.43 L50.41 277.45 L50.83 277.46 L51.25 277.48 L51.68 277.49 L52.1 277.51 L52.52 277.52 L52.95 277.53 L53.37 277.55 L53.8 277.56 L54.22 277.58 L54.64 277.59 L55.07 277.61 L55.49 277.62 L55.91 277.63 L56.34 277.65 L56.76 277.66 L57.18 277.68 L57.61 277.69 L58.03 277.7 L58.46 277.72 L58.88 277.73 L59.3 277.75 L59.73 277.76 L60.15 277.77 L60.57 277.79 L61 277.8 L61.42 277.81 L61.84 277.83 L62.27 277.84 L62.69 277.85 L63.12 277.87 L63.54 277.88 L63.96 277.89 L64.39 277.91 L64.81 277.92 L65.23 277.93 L65.66 277.94 L66.08 277.95 L66.5 277.97 L66.93 277.98 L67.35 277.99 L67.78 278 L68.2 278.01 L68.62 278.03 L69.05 278.04 L69.47 278.05 L69.89 278.06 L70.32 278.07 L70.74 278.08 L71.16 278.09 L71.59 278.1 L72.01 278.11 L72.44 278.12 L72.86 278.13 L73.28 278.14 L73.71 278.15 L74.13 278.15 L74.55 278.16 L74.98 278.17 L75.4 278.17 L75.82 278.18 L76.25 278.18 L76.67 278.19 L77.1 278.19 L77.52 278.19 L77.94 278.19 L78.37 278.17 L78.79 278.15 L79.21 278.12 L79.64 278.09 L80.06 278.06 L80.48 278.02 L80.91 277.97 L81.33 277.92 L81.76 277.85 L82.18 277.78 L82.6 277.69 L83.03 277.59 L83.45 277.47 L83.87 277.33 L84.3 277.16 L84.72 276.97 L85.15 276.75 L85.57 276.5 L85.99 276.21 L86.42 275.87 L86.84 275.49 L87.26 275.06 L87.69 274.56 L88.11 274.01 L88.53 273.38 L88.96 272.68 L89.38 271.9 L89.81 271.04 L90.23 270.09 L90.65 269.05 L91.08 267.92 L91.5 266.68 L91.92 265.35 L92.35 263.92 L92.77 262.4 L93.19 260.78 L93.62 259.08 L94.04 257.29 L94.47 255.42 L94.89 253.49 L95.31 251.51 L95.74 249.48 L96.16 247.43 L96.58 245.36 L97.01 243.3 L97.43 241.27 L97.85 239.29 L98.28 237.36 L98.7 235.53 L99.13 233.8 L99.55 232.21 L99.97 230.76 L100.4 229.48 L100.82 228.38 L101.24 227.49 L101.67 226.82 L102.09 226.37 L102.51 226.16 L102.94 226.18 L103.36 226.43 L103.79 226.88 L104.21 227.55 L104.63 228.42 L105.06 229.47 L105.48 230.7 L105.9 232.08 L106.33 233.61 L106.75 235.27 L107.17 237.04 L107.6 238.9 L108.02 240.83 L108.45 242.81 L108.87 244.83 L109.29 246.86 L109.72 248.91 L110.14 250.93 L110.56 252.94 L110.99 254.9 L111.41 256.81 L111.83 258.67 L112.26 260.45 L112.68 262.16 L113.11 263.78 L113.53 265.32 L113.95 266.78 L114.38 268.14 L114.8 269.4 L115.22 270.58 L115.65 271.67 L116.07 272.67 L116.49 273.58 L116.92 274.42 L117.34 275.17 L117.77 275.86 L118.19 276.47 L118.61 277.02 L119.04 277.51 L119.46 277.94 L119.88 278.33 L120.31 278.67 L120.73 278.97 L121.16 279.23 L121.58 279.46 L122 279.66 L122.43 279.83 L122.85 279.98 L123.27 280.11 L123.7 280.22 L124.12 280.31 L124.54 280.39 L124.97 280.46 L125.39 280.52 L125.82 280.57 L126.24 280.62 L126.66 280.66 L127.09 280.69 L127.51 280.72 L127.93 280.74 L128.36 280.76 L128.78 280.78 L129.2 280.79 L129.63 280.81 L130.05 280.82 L130.48 280.83 L130.9 280.84 L131.32 280.85 L131.75 280.85 L132.17 280.86 L132.59 280.87 L133.02 280.87 L133.44 280.88 L133.86 280.88 L134.29 280.88 L134.71 280.89 L135.14 280.89 L135.56 280.89 L135.98 280.89 L136.41 280.89 L136.83 280.9 L137.25 280.9 L137.68 280.9 L138.1 280.9 L138.52 280.9 L138.95 280.89 L139.37 280.89 L139.8 280.89 L140.22 280.89 L140.64 280.89 L141.07 280.88 L141.49 280.88 L141.91 280.88 L142.34 280.87 L142.76 280.87 L143.18 280.86 L143.61 280.86 L144.03 280.85 L144.46 280.85 L144.88 280.84 L145.3 280.83 L145.73 280.82 L146.15 280.81 L146.57 280.8 L147 280.79 L147.42 280.77 L147.84 280.76 L148.27 280.74 L148.69 280.72 L149.12 280.69 L149.54 280.66 L149.96 280.63 L150.39 280.59 L150.81 280.54 L151.23 280.49 L151.66 280.42 L152.08 280.35 L152.51 280.26 L152.93 280.16 L153.35 280.03 L153.78 279.89 L154.2 279.72 L154.62 279.52 L155.05 279.29 L155.47 279.02 L155.89 278.71 L156.32 278.35 L156.74 277.93 L157.17 277.46 L157.59 276.92 L158.01 276.3 L158.44 275.6 L158.86 274.82 L159.28 273.94 L159.71 272.95 L160.13 271.86 L160.55 270.66 L160.98 269.33 L161.4 267.89 L161.83 266.31 L162.25 264.61 L162.67 262.78 L163.1 260.83 L163.52 258.75 L163.94 256.56 L164.37 254.26 L164.79 251.86 L165.21 249.37 L165.64 246.82 L166.06 244.2 L166.49 241.56 L166.91 238.89 L167.33 236.24 L167.76 233.62 L168.18 231.06 L168.6 228.59 L169.03 226.23 L169.45 224.02 L169.87 221.97 L170.3 220.12 L170.72 218.49 L171.15 217.11 L171.57 215.99 L171.99 215.16 L172.42 214.62 L172.84 214.38 L173.26 214.45 L173.69 214.79 L174.11 215.4 L174.53 216.27 L174.96 217.38 L175.38 218.73 L175.81 220.29 L176.23 222.05 L176.65 223.98 L177.08 226.07 L177.5 228.29 L177.92 230.62 L178.35 233.03 L178.77 235.51 L179.19 238.03 L179.62 240.57 L180.04 243.1 L180.47 245.62 L180.89 248.11 L181.31 250.54 L181.74 252.9 L182.16 255.19 L182.58 257.39 L183.01 259.49 L183.43 261.49 L183.85 263.39 L184.28 265.17 L184.7 266.83 L185.13 268.39 L185.55 269.83 L185.97 271.15 L186.4 272.37 L186.82 273.49 L187.24 274.5 L187.67 275.42 L188.09 276.25 L188.52 277 L188.94 277.67 L189.36 278.26 L189.79 278.79 L190.21 279.26 L190.63 279.67 L191.06 280.03 L191.48 280.35 L191.9 280.62 L192.33 280.87 L192.75 281.07 L193.18 281.26 L193.6 281.41 L194.02 281.55 L194.45 281.66 L194.87 281.76 L195.29 281.85 L195.72 281.92 L196.14 281.99 L196.56 282.04 L196.99 282.09 L197.41 282.13 L197.84 282.17 L198.26 282.2 L198.68 282.23 L199.11 282.26 L199.53 282.28 L199.95 282.3 L200.38 282.32 L200.8 282.33 L201.22 282.35 L201.65 282.36 L202.07 282.37 L202.5 282.39 L202.92 282.4 L203.34 282.41 L203.77 282.42 L204.19 282.43 L204.61 282.44 L205.04 282.45 L205.46 282.45 L205.88 282.46 L206.31 282.47 L206.73 282.48 L207.16 282.49 L207.58 282.49 L208 282.5 L208.43 282.51 L208.85 282.51 L209.27 282.52 L209.7 282.52 L210.12 282.53 L210.54 282.53 L210.97 282.54 L211.39 282.55 L211.82 282.55 L212.24 282.56 L212.66 282.56 L213.09 282.56 L213.51 282.57 L213.93 282.57 L214.36 282.58 L214.78 282.58 L215.2 282.59 L215.63 282.59 L216.05 282.59 L216.48 282.6 L216.9 282.6 L217.32 282.6 L217.75 282.61 L218.17 282.61 L218.59 282.61 L219.02 282.62 L219.44 282.62 L219.86 282.62 L220.29 282.63 L220.71 282.63 L221.14 282.63 L221.56 282.63 L221.98 282.64 L222.41 282.64 L222.83 282.64 L223.25 282.64 L223.68 282.65 L224.1 282.65 L224.53 282.65 L224.95 282.65 L225.37 282.66 L225.8 282.66 L226.22 282.66 L226.64 282.66 L227.07 282.66 L227.49 282.67 L227.91 282.67 L228.34 282.67 L228.76 282.67 L229.19 282.67 L229.61 282.68 L230.03 282.68 L230.46 282.68 L230.88 282.68 L231.3 282.68 L231.73 282.68 L232.15 282.69 L232.57 282.69 L233 282.69 L233.42 282.69 L233.85 282.69 L234.27 282.69 L234.69 282.69 L235.12 282.7 L235.54 282.7 L235.96 282.7 L236.39 282.7 L236.81 282.7 L237.23 282.7 L237.66 282.7 L238.08 282.7 L238.51 282.71 L238.93 282.71 L239.35 282.71 L239.78 282.71 L240.2 282.71" fill="none" stroke="#f42c30" stroke-width="1.55" stroke-linejoin="round" stroke-linecap="round" />
<path d="M28.8 351.65 L29.22 351.68 L29.65 351.71 L30.07 351.74 L30.49 351.76 L30.92 351.79 L31.34 351.82 L31.77 351.85 L32.19 351.88 L32.61 351.9 L33.04 351.93 L33.46 351.96 L33.88 351.99 L34.31 352.02 L34.73 352.04 L35.15 352.07 L35.58 352.1 L36 352.13 L36.43 352.15 L36.85 352.18 L37.27 352.21 L37.7 352.24 L38.12 352.27 L38.54 352.29 L38.97 352.32 L39.39 352.35 L39.81 352.38 L40.24 352.41 L40.66 352.43 L41.09 352.46 L41.51 352.49 L41.93 352.52 L42.36 352.55 L42.78 352.57 L43.2 352.6 L43.63 352.63 L44.05 352.66 L44.47 352.69 L44.9 352.71 L45.32 352.74 L45.75 352.77 L46.17 352.8 L46.59 352.82 L47.02 352.85 L47.44 352.88 L47.86 352.91 L48.29 352.94 L48.71 352.96 L49.14 352.99 L49.56 353.02 L49.98 353.05 L50.41 353.08 L50.83 353.1 L51.25 353.13 L51.68 353.16 L52.1 353.19 L52.52 353.22 L52.95 353.24 L53.37 353.27 L53.8 353.3 L54.22 353.33 L54.64 353.36 L55.07 353.38 L55.49 353.41 L55.91 353.44 L56.34 353.47 L56.76 353.5 L57.18 353.52 L57.61 353.55 L58.03 353.58 L58.46 353.61 L58.88 353.63 L59.3 353.66 L59.73 353.69 L60.15 353.72 L60.57 353.75 L61 353.77 L61.42 353.8 L61.84 353.83 L62.27 353.86 L62.69 353.89 L63.12 353.91 L63.54 353.94 L63.96 353.97 L64.39 354 L64.81 354.03 L65.23 354.05 L65.66 354.08 L66.08 354.1 L66.5 354.11 L66.93 354.11 L67.35 354.11 L67.78 354.11 L68.2 354.11 L68.62 354.11 L69.05 354.11 L69.47 354.11 L69.89 354.11 L70.32 354.11 L70.74 354.11 L71.16 354.11 L71.59 354.11 L72.01 354.11 L72.44 354.12 L72.86 354.12 L73.28 354.12 L73.71 354.12 L74.13 354.12 L74.55 354.12 L74.98 354.12 L75.4 354.12 L75.82 354.12 L76.25 354.13 L76.67 354.13 L77.1 354.13 L77.52 354.13 L77.94 354.13 L78.37 354.14 L78.79 354.14 L79.21 354.14 L79.64 354.15 L80.06 354.15 L80.48 354.15 L80.91 354.16 L81.33 354.16 L81.76 354.17 L82.18 354.17 L82.6 354.18 L83.03 354.19 L83.45 354.2 L83.87 354.21 L84.3 354.21 L84.72 354.23 L85.15 354.24 L85.57 354.25 L85.99 354.26 L86.42 354.28 L86.84 354.29 L87.26 354.31 L87.69 354.33 L88.11 354.35 L88.53 354.37 L88.96 354.39 L89.38 354.42 L89.81 354.44 L90.23 354.47 L90.65 354.5 L91.08 354.53 L91.5 354.56 L91.92 354.6 L92.35 354.63 L92.77 354.67 L93.19 354.71 L93.62 354.75 L94.04 354.8 L94.47 354.84 L94.89 354.89 L95.31 354.94 L95.74 354.99 L96.16 355.04 L96.58 355.1 L97.01 355.15 L97.43 355.21 L97.85 355.27 L98.28 355.33 L98.7 355.39 L99.13 355.45 L99.55 355.51 L99.97 355.57 L100.4 355.64 L100.82 355.7 L101.24 355.76 L101.67 355.83 L102.09 355.89 L102.51 355.96 L102.94 356.02 L103.36 356.08 L103.79 356.14 L104.21 356.2 L104.63 356.27 L105.06 356.32 L105.48 356.38 L105.9 356.44 L106.33 356.5 L106.75 356.55 L107.17 356.6 L107.6 356.66 L108.02 356.71 L108.45 356.76 L108.87 356.8 L109.29 356.85 L109.72 356.89 L110.14 356.93 L110.56 356.97 L110.99 357.01 L111.41 357.05 L111.83 357.08 L112.26 357.12 L112.68 357.15 L113.11 357.18 L113.53 357.21 L113.95 357.23 L114.38 357.26 L114.8 357.28 L115.22 357.3 L115.65 357.32 L116.07 357.34 L116.49 357.36 L116.92 357.38 L117.34 357.39 L117.77 357.41 L118.19 357.42 L118.61 357.43 L119.04 357.45 L119.46 357.46 L119.88 357.47 L120.31 357.47 L120.73 357.48 L121.16 357.49 L121.58 357.5 L122 357.5 L122.43 357.51 L122.85 357.51 L123.27 357.52 L123.7 357.52 L124.12 357.53 L124.54 357.53 L124.97 357.53 L125.39 357.54 L125.82 357.54 L126.24 357.54 L126.66 357.54 L127.09 357.55 L127.51 357.55 L127.93 357.55 L128.36 357.55 L128.78 357.55 L129.2 357.56 L129.63 357.56 L130.05 357.56 L130.48 357.56 L130.9 357.56 L131.32 357.56 L131.75 357.56 L132.17 357.56 L132.59 357.56 L133.02 357.56 L133.44 357.57 L133.86 357.57 L134.29 357.57 L134.71 357.57 L135.14 357.57 L135.56 357.57 L135.98 357.57 L136.41 357.57 L136.83 357.57 L137.25 357.57 L137.68 357.57 L138.1 357.57 L138.52 357.57 L138.95 357.58 L139.37 357.58 L139.8 357.58 L140.22 357.58 L140.64 357.58 L141.07 357.58 L141.49 357.58 L141.91 357.58 L142.34 357.58 L142.76 357.58 L143.18 357.58 L143.61 357.58 L144.03 357.59 L144.46 357.59 L144.88 357.59 L145.3 357.59 L145.73 357.59 L146.15 357.59 L146.57 357.59 L147 357.59 L147.42 357.6 L147.84 357.6 L148.27 357.6 L148.69 357.6 L149.12 357.6 L149.54 357.6 L149.96 357.61 L150.39 357.61 L150.81 357.61 L151.23 357.62 L151.66 357.62 L152.08 357.62 L152.51 357.63 L152.93 357.63 L153.35 357.64 L153.78 357.64 L154.2 357.65 L154.62 357.65 L155.05 357.66 L155.47 357.66 L155.89 357.67 L156.32 357.68 L156.74 357.69 L157.17 357.7 L157.59 357.71 L158.01 357.72 L158.44 357.73 L158.86 357.74 L159.28 357.75 L159.71 357.76 L160.13 357.78 L160.55 357.79 L160.98 357.8 L161.4 357.82 L161.83 357.84 L162.25 357.85 L162.67 357.87 L163.1 357.89 L163.52 357.91 L163.94 357.93 L164.37 357.95 L164.79 357.97 L165.21 357.99 L165.64 358.02 L166.06 358.04 L166.49 358.07 L166.91 358.09 L167.33 358.12 L167.76 358.14 L168.18 358.17 L168.6 358.2 L169.03 358.22 L169.45 358.25 L169.87 358.28 L170.3 358.31 L170.72 358.34 L171.15 358.36 L171.57 358.39 L171.99 358.42 L172.42 358.45 L172.84 358.48 L173.26 358.51 L173.69 358.53 L174.11 358.56 L174.53 358.59 L174.96 358.62 L175.38 358.64 L175.81 358.67 L176.23 358.7 L176.65 358.72 L177.08 358.75 L177.5 358.77 L177.92 358.79 L178.35 358.82 L178.77 358.84 L179.19 358.86 L179.62 358.88 L180.04 358.9 L180.47 358.92 L180.89 358.94 L181.31 358.96 L181.74 358.98 L182.16 358.99 L182.58 359.01 L183.01 359.02 L183.43 359.04 L183.85 359.05 L184.28 359.07 L184.7 359.08 L185.13 359.09 L185.55 359.1 L185.97 359.11 L186.4 359.12 L186.82 359.13 L187.24 359.14 L187.67 359.15 L188.09 359.16 L188.52 359.16 L188.94 359.17 L189.36 359.18 L189.79 359.18 L190.21 359.19 L190.63 359.19 L191.06 359.2 L191.48 359.2 L191.9 359.21 L192.33 359.21 L192.75 359.21 L193.18 359.22 L193.6 359.22 L194.02 359.22 L194.45 359.22 L194.87 359.23 L195.29 359.23 L195.72 359.23 L196.14 359.23 L196.56 359.24 L196.99 359.24 L197.41 359.24 L197.84 359.24 L198.26 359.24 L198.68 359.24 L199.11 359.24 L199.53 359.24 L199.95 359.25 L200.38 359.25 L200.8 359.25 L201.22 359.25 L201.65 359.25 L202.07 359.25 L202.5 359.25 L202.92 359.25 L203.34 359.25 L203.77 359.25 L204.19 359.25 L204.61 359.25 L205.04 359.26 L205.46 359.26 L205.88 359.26 L206.31 359.26 L206.73 359.26 L207.16 359.26 L207.58 359.26 L208 359.26 L208.43 359.26 L208.85 359.26 L209.27 359.26 L209.7 359.26 L210.12 359.26 L210.54 359.26 L210.97 359.26 L211.39 359.26 L211.82 359.26 L212.24 359.26 L212.66 359.27 L213.09 359.27 L213.51 359.27 L213.93 359.27 L214.36 359.27 L214.78 359.27 L215.2 359.27 L215.63 359.27 L216.05 359.27 L216.48 359.27 L216.9 359.27 L217.32 359.27 L217.75 359.27 L218.17 359.27 L218.59 359.27 L219.02 359.27 L219.44 359.27 L219.86 359.27 L220.29 359.28 L220.71 359.28 L221.14 359.28 L221.56 359.28 L221.98 359.28 L222.41 359.28 L222.83 359.28 L223.25 359.28 L223.68 359.28 L224.1 359.28 L224.53 359.28 L224.95 359.28 L225.37 359.28 L225.8 359.28 L226.22 359.28 L226.64 359.28 L227.07 359.28 L227.49 359.28 L227.91 359.28 L228.34 359.28 L228.76 359.29 L229.19 359.29 L229.61 359.29 L230.03 359.29 L230.46 359.29 L230.88 359.29 L231.3 359.29 L231.73 359.29 L232.15 359.29 L232.57 359.29 L233 359.29 L233.42 359.29 L233.85 359.29 L234.27 359.29 L234.69 359.29 L235.12 359.29 L235.54 359.29 L235.96 359.29 L236.39 359.29 L236.81 359.3 L237.23 359.3 L237.66 359.3 L238.08 359.3 L238.51 359.3 L238.93 359.3 L239.35 359.3 L239.78 359.3 L240.2 359.3" fill="none" stroke="#b76de6" stroke-width="1.45" stroke-linejoin="round" stroke-linecap="round" />
<path d="M28.8 351.62 L29.22 351.65 L29.65 351.68 L30.07 351.7 L30.49 351.73 L30.92 351.76 L31.34 351.79 L31.77 351.81 L32.19 351.84 L32.61 351.87 L33.04 351.9 L33.46 351.93 L33.88 351.95 L34.31 351.98 L34.73 352.01 L35.15 352.04 L35.58 352.06 L36 352.09 L36.43 352.12 L36.85 352.15 L37.27 352.17 L37.7 352.2 L38.12 352.23 L38.54 352.26 L38.97 352.28 L39.39 352.31 L39.81 352.34 L40.24 352.36 L40.66 352.39 L41.09 352.42 L41.51 352.45 L41.93 352.47 L42.36 352.5 L42.78 352.53 L43.2 352.56 L43.63 352.58 L44.05 352.61 L44.47 352.64 L44.9 352.67 L45.32 352.69 L45.75 352.72 L46.17 352.75 L46.59 352.77 L47.02 352.8 L47.44 352.83 L47.86 352.86 L48.29 352.88 L48.71 352.91 L49.14 352.94 L49.56 352.97 L49.98 352.99 L50.41 353.02 L50.83 353.05 L51.25 353.07 L51.68 353.1 L52.1 353.13 L52.52 353.16 L52.95 353.18 L53.37 353.21 L53.8 353.24 L54.22 353.26 L54.64 353.29 L55.07 353.32 L55.49 353.34 L55.91 353.37 L56.34 353.4 L56.76 353.42 L57.18 353.45 L57.61 353.48 L58.03 353.5 L58.46 353.53 L58.88 353.56 L59.3 353.58 L59.73 353.61 L60.15 353.64 L60.57 353.66 L61 353.69 L61.42 353.72 L61.84 353.74 L62.27 353.77 L62.69 353.79 L63.12 353.82 L63.54 353.84 L63.96 353.87 L64.39 353.89 L64.81 353.92 L65.23 353.94 L65.66 353.97 L66.08 353.98 L66.5 353.98 L66.93 353.97 L67.35 353.96 L67.78 353.96 L68.2 353.95 L68.62 353.94 L69.05 353.92 L69.47 353.91 L69.89 353.89 L70.32 353.87 L70.74 353.85 L71.16 353.82 L71.59 353.8 L72.01 353.76 L72.44 353.72 L72.86 353.68 L73.28 353.62 L73.71 353.57 L74.13 353.5 L74.55 353.42 L74.98 353.33 L75.4 353.24 L75.82 353.12 L76.25 353 L76.67 352.85 L77.1 352.7 L77.52 352.52 L77.94 352.32 L78.37 352.09 L78.79 351.85 L79.21 351.57 L79.64 351.27 L80.06 350.93 L80.48 350.56 L80.91 350.15 L81.33 349.71 L81.76 349.23 L82.18 348.7 L82.6 348.12 L83.03 347.5 L83.45 346.83 L83.87 346.11 L84.3 345.34 L84.72 344.51 L85.15 343.63 L85.57 342.68 L85.99 341.69 L86.42 340.63 L86.84 339.52 L87.26 338.35 L87.69 337.13 L88.11 335.85 L88.53 334.52 L88.96 333.14 L89.38 331.71 L89.81 330.25 L90.23 328.74 L90.65 327.2 L91.08 325.64 L91.5 324.05 L91.92 322.45 L92.35 320.84 L92.77 319.22 L93.19 317.62 L93.62 316.03 L94.04 314.46 L94.47 312.93 L94.89 311.43 L95.31 309.99 L95.74 308.6 L96.16 307.29 L96.58 306.04 L97.01 304.88 L97.43 303.81 L97.85 302.84 L98.28 301.98 L98.7 301.23 L99.13 300.59 L99.55 300.08 L99.97 299.7 L100.4 299.44 L100.82 299.32 L101.24 299.33 L101.67 299.47 L102.09 299.72 L102.51 300.09 L102.94 300.58 L103.36 301.17 L103.79 301.88 L104.21 302.69 L104.63 303.6 L105.06 304.61 L105.48 305.7 L105.9 306.87 L106.33 308.12 L106.75 309.44 L107.17 310.82 L107.6 312.25 L108.02 313.72 L108.45 315.24 L108.87 316.79 L109.29 318.36 L109.72 319.95 L110.14 321.54 L110.56 323.14 L110.99 324.73 L111.41 326.32 L111.83 327.89 L112.26 329.43 L112.68 330.95 L113.11 332.44 L113.53 333.89 L113.95 335.31 L114.38 336.68 L114.8 338 L115.22 339.28 L115.65 340.51 L116.07 341.68 L116.49 342.81 L116.92 343.88 L117.34 344.9 L117.77 345.86 L118.19 346.77 L118.61 347.63 L119.04 348.44 L119.46 349.2 L119.88 349.91 L120.31 350.57 L120.73 351.18 L121.16 351.75 L121.58 352.28 L122 352.77 L122.43 353.21 L122.85 353.63 L123.27 354.01 L123.7 354.35 L124.12 354.67 L124.54 354.95 L124.97 355.21 L125.39 355.45 L125.82 355.66 L126.24 355.86 L126.66 356.03 L127.09 356.18 L127.51 356.32 L127.93 356.45 L128.36 356.56 L128.78 356.66 L129.2 356.74 L129.63 356.82 L130.05 356.89 L130.48 356.95 L130.9 357 L131.32 357.05 L131.75 357.09 L132.17 357.12 L132.59 357.15 L133.02 357.17 L133.44 357.19 L133.86 357.21 L134.29 357.22 L134.71 357.23 L135.14 357.24 L135.56 357.24 L135.98 357.24 L136.41 357.24 L136.83 357.24 L137.25 357.23 L137.68 357.22 L138.1 357.2 L138.52 357.18 L138.95 357.16 L139.37 357.13 L139.8 357.1 L140.22 357.06 L140.64 357.02 L141.07 356.97 L141.49 356.91 L141.91 356.85 L142.34 356.77 L142.76 356.69 L143.18 356.59 L143.61 356.48 L144.03 356.36 L144.46 356.22 L144.88 356.06 L145.3 355.89 L145.73 355.7 L146.15 355.48 L146.57 355.24 L147 354.98 L147.42 354.69 L147.84 354.36 L148.27 354.01 L148.69 353.62 L149.12 353.19 L149.54 352.73 L149.96 352.22 L150.39 351.66 L150.81 351.07 L151.23 350.42 L151.66 349.72 L152.08 348.96 L152.51 348.15 L152.93 347.28 L153.35 346.36 L153.78 345.37 L154.2 344.32 L154.62 343.2 L155.05 342.02 L155.47 340.78 L155.89 339.47 L156.32 338.1 L156.74 336.67 L157.17 335.17 L157.59 333.62 L158.01 332 L158.44 330.33 L158.86 328.61 L159.28 326.85 L159.71 325.04 L160.13 323.19 L160.55 321.31 L160.98 319.4 L161.4 317.48 L161.83 315.54 L162.25 313.6 L162.67 311.67 L163.1 309.74 L163.52 307.84 L163.94 305.96 L164.37 304.12 L164.79 302.33 L165.21 300.6 L165.64 298.93 L166.06 297.34 L166.49 295.83 L166.91 294.41 L167.33 293.09 L167.76 291.89 L168.18 290.79 L168.6 289.82 L169.03 288.98 L169.45 288.27 L169.87 287.71 L170.3 287.28 L170.72 287 L171.15 286.86 L171.57 286.88 L171.99 287.03 L172.42 287.31 L172.84 287.72 L173.26 288.26 L173.69 288.93 L174.11 289.71 L174.53 290.62 L174.96 291.64 L175.38 292.77 L175.81 293.99 L176.23 295.32 L176.65 296.73 L177.08 298.22 L177.5 299.78 L177.92 301.41 L178.35 303.1 L178.77 304.83 L179.19 306.61 L179.62 308.43 L180.04 310.27 L180.47 312.13 L180.89 314 L181.31 315.87 L181.74 317.75 L182.16 319.61 L182.58 321.46 L183.01 323.29 L183.43 325.09 L183.85 326.86 L184.28 328.59 L184.7 330.28 L185.13 331.93 L185.55 333.53 L185.97 335.07 L186.4 336.57 L186.82 338.01 L187.24 339.39 L187.67 340.72 L188.09 341.99 L188.52 343.2 L188.94 344.35 L189.36 345.44 L189.79 346.48 L190.21 347.45 L190.63 348.37 L191.06 349.24 L191.48 350.05 L191.9 350.81 L192.33 351.52 L192.75 352.18 L193.18 352.79 L193.6 353.36 L194.02 353.89 L194.45 354.38 L194.87 354.83 L195.29 355.24 L195.72 355.62 L196.14 355.97 L196.56 356.29 L196.99 356.58 L197.41 356.84 L197.84 357.08 L198.26 357.3 L198.68 357.49 L199.11 357.67 L199.53 357.83 L199.95 357.98 L200.38 358.11 L200.8 358.23 L201.22 358.33 L201.65 358.42 L202.07 358.51 L202.5 358.58 L202.92 358.65 L203.34 358.71 L203.77 358.76 L204.19 358.81 L204.61 358.85 L205.04 358.88 L205.46 358.92 L205.88 358.95 L206.31 358.97 L206.73 358.99 L207.16 359.01 L207.58 359.03 L208 359.05 L208.43 359.06 L208.85 359.07 L209.27 359.08 L209.7 359.09 L210.12 359.1 L210.54 359.11 L210.97 359.12 L211.39 359.12 L211.82 359.13 L212.24 359.13 L212.66 359.14 L213.09 359.14 L213.51 359.15 L213.93 359.15 L214.36 359.15 L214.78 359.16 L215.2 359.16 L215.63 359.16 L216.05 359.17 L216.48 359.17 L216.9 359.17 L217.32 359.17 L217.75 359.18 L218.17 359.18 L218.59 359.18 L219.02 359.18 L219.44 359.19 L219.86 359.19 L220.29 359.19 L220.71 359.19 L221.14 359.19 L221.56 359.19 L221.98 359.2 L222.41 359.2 L222.83 359.2 L223.25 359.2 L223.68 359.2 L224.1 359.2 L224.53 359.21 L224.95 359.21 L225.37 359.21 L225.8 359.21 L226.22 359.21 L226.64 359.21 L227.07 359.22 L227.49 359.22 L227.91 359.22 L228.34 359.22 L228.76 359.22 L229.19 359.22 L229.61 359.22 L230.03 359.23 L230.46 359.23 L230.88 359.23 L231.3 359.23 L231.73 359.23 L232.15 359.23 L232.57 359.23 L233 359.23 L233.42 359.24 L233.85 359.24 L234.27 359.24 L234.69 359.24 L235.12 359.24 L235.54 359.24 L235.96 359.24 L236.39 359.24 L236.81 359.24 L237.23 359.25 L237.66 359.25 L238.08 359.25 L238.51 359.25 L238.93 359.25 L239.35 359.25 L239.78 359.25 L240.2 359.25" fill="none" stroke="#f42c30" stroke-width="1.55" stroke-linejoin="round" stroke-linecap="round" />
<text x="80.2" y="220.4" font-size="7.5" font-weight="bold" text-anchor="middle" fill="#111" stroke="#111" stroke-width="0.18" >164.4 eV</text>
<text x="80.2" y="229.7" font-size="7.5" font-weight="bold" text-anchor="middle" fill="#111" stroke="#111" stroke-width="0.18" >(Bi 4f<tspan font-size="5.4" dy="0.4" stroke-width="0.12">5/2</tspan>)</text>
<line x1="95" y1="221.2" x2="99.09" y2="223.74" stroke="#111" stroke-width="1.0"/>
<path d="M102.4 225.8 L97.66 225.09 L99.67 221.86 Z" fill="#111"/>
<text x="200" y="224.6" font-size="7.5" font-weight="bold" text-anchor="middle" fill="#111" stroke="#111" stroke-width="0.18" >159.0 eV</text>
<text x="200" y="233.9" font-size="7.5" font-weight="bold" text-anchor="middle" fill="#111" stroke="#111" stroke-width="0.18" >(Bi 4f<tspan font-size="5.4" dy="0.4" stroke-width="0.12">7/2</tspan>)</text>
<line x1="184.8" y1="219.6" x2="178.48" y2="215.52" stroke="#111" stroke-width="1.0"/>
<path d="M175.2 213.4 L179.93 214.19 L177.87 217.38 Z" fill="#111"/>
<text x="240.4" y="282" font-size="8.2" font-weight="bold" text-anchor="end" fill="#111" stroke="#111" stroke-width="0.18" >FNBV-3</text>
<text x="76.1" y="292.3" font-size="7.5" font-weight="bold" text-anchor="middle" fill="#111" stroke="#111" stroke-width="0.18" >164.4 eV</text>
<text x="76.1" y="301.6" font-size="7.5" font-weight="bold" text-anchor="middle" fill="#111" stroke="#111" stroke-width="0.18" >(Bi 4f<tspan font-size="5.4" dy="0.4" stroke-width="0.12">5/2</tspan>)</text>
<line x1="92.6" y1="295.8" x2="96.75" y2="297.98" stroke="#111" stroke-width="1.0"/>
<path d="M100.2 299.8 L95.42 299.43 L97.19 296.07 Z" fill="#111"/>
<text x="200" y="296.1" font-size="7.5" font-weight="bold" text-anchor="middle" fill="#111" stroke="#111" stroke-width="0.18" >159.1 eV</text>
<text x="200" y="305.4" font-size="7.5" font-weight="bold" text-anchor="middle" fill="#111" stroke="#111" stroke-width="0.18" >(Bi 4f<tspan font-size="5.4" dy="0.4" stroke-width="0.12">7/2</tspan>)</text>
<line x1="184.8" y1="291.6" x2="178.37" y2="288.77" stroke="#111" stroke-width="1.0"/>
<path d="M174.8 287.2 L179.59 287.23 L178.06 290.71 Z" fill="#111"/>
<text x="233.9" y="356.9" font-size="8.2" font-weight="bold" text-anchor="end" fill="#111" stroke="#111" stroke-width="0.18" >BV</text>
<rect x="326.3" y="211.3" width="212.3" height="149.2" fill="none" stroke="#151515" stroke-width="1.4"/>
<line x1="326.3" y1="360.5" x2="326.3" y2="363.7" stroke="#151515" stroke-width="1"/>
<line x1="361.68" y1="360.5" x2="361.68" y2="363.7" stroke="#151515" stroke-width="1"/>
<line x1="397.07" y1="360.5" x2="397.07" y2="363.7" stroke="#151515" stroke-width="1"/>
<line x1="432.45" y1="360.5" x2="432.45" y2="363.7" stroke="#151515" stroke-width="1"/>
<line x1="467.83" y1="360.5" x2="467.83" y2="363.7" stroke="#151515" stroke-width="1"/>
<line x1="503.22" y1="360.5" x2="503.22" y2="363.7" stroke="#151515" stroke-width="1"/>
<line x1="538.6" y1="360.5" x2="538.6" y2="363.7" stroke="#151515" stroke-width="1"/>
<line x1="520.91" y1="360.5" x2="520.91" y2="362.5" stroke="#151515" stroke-width="0.9"/>
<line x1="485.52" y1="360.5" x2="485.52" y2="362.5" stroke="#151515" stroke-width="0.9"/>
<line x1="450.14" y1="360.5" x2="450.14" y2="362.5" stroke="#151515" stroke-width="0.9"/>
<line x1="414.76" y1="360.5" x2="414.76" y2="362.5" stroke="#151515" stroke-width="0.9"/>
<line x1="379.38" y1="360.5" x2="379.38" y2="362.5" stroke="#151515" stroke-width="0.9"/>
<line x1="343.99" y1="360.5" x2="343.99" y2="362.5" stroke="#151515" stroke-width="0.9"/>
<text x="326.3" y="372.1" font-size="7.8" font-weight="bold" text-anchor="middle" fill="#111" stroke="#111" stroke-width="0.18" >735</text>
<text x="361.68" y="372.1" font-size="7.8" font-weight="bold" text-anchor="middle" fill="#111" stroke="#111" stroke-width="0.18" >730</text>
<text x="397.07" y="372.1" font-size="7.8" font-weight="bold" text-anchor="middle" fill="#111" stroke="#111" stroke-width="0.18" >725</text>
<text x="432.45" y="372.1" font-size="7.8" font-weight="bold" text-anchor="middle" fill="#111" stroke="#111" stroke-width="0.18" >720</text>
<text x="467.83" y="372.1" font-size="7.8" font-weight="bold" text-anchor="middle" fill="#111" stroke="#111" stroke-width="0.18" >715</text>
<text x="503.22" y="372.1" font-size="7.8" font-weight="bold" text-anchor="middle" fill="#111" stroke="#111" stroke-width="0.18" >710</text>
<text x="538.6" y="372.1" font-size="7.8" font-weight="bold" text-anchor="middle" fill="#111" stroke="#111" stroke-width="0.18" >705</text>
<text x="432.45" y="389" font-size="10.4" font-weight="bold" text-anchor="middle" fill="#111" stroke="#111" stroke-width="0.18" >Binding Energy (eV)</text>
<text x="320.3" y="283.5" font-size="10.3" font-weight="bold" text-anchor="middle" fill="#111" stroke="#111" stroke-width="0.18" transform="rotate(-90 320.3 283.5)" >Intensity (a.u.)</text>
<text x="305.2" y="215.5" font-size="11.3" font-weight="bold" text-anchor="start" fill="#111" stroke="#111" stroke-width="0.18" >(d)</text>
<text x="330.6" y="222.4" font-size="8.7" font-weight="bold" text-anchor="start" fill="#111" stroke="#111" stroke-width="0.18" >Fe 2p</text>
<path d="M337.6 239.75 L338.1 239.75 L338.6 239.76 L339.11 239.76 L339.61 239.76 L340.11 239.77 L340.61 239.78 L341.12 239.79 L341.62 239.81 L342.12 239.82 L342.62 239.84 L343.12 239.85 L343.63 239.87 L344.13 239.89 L344.63 239.92 L345.13 239.94 L345.64 239.96 L346.14 239.99 L346.64 240.02 L347.14 240.05 L347.65 240.08 L348.15 240.11 L348.65 240.14 L349.15 240.18 L349.65 240.21 L350.16 240.25 L350.66 240.29 L351.16 240.32 L351.66 240.36 L352.17 240.4 L352.67 240.44 L353.17 240.49 L353.67 240.53 L354.17 240.57 L354.68 240.62 L355.18 240.66 L355.68 240.71 L356.18 240.75 L356.69 240.8 L357.19 240.85 L357.69 240.9 L358.19 240.95 L358.69 241 L359.2 241.04 L359.7 241.09 L360.2 241.15 L360.7 241.2 L361.21 241.25 L361.71 241.3 L362.21 241.35 L362.71 241.4 L363.22 241.45 L363.72 241.5 L364.22 241.56 L364.72 241.61 L365.22 241.66 L365.73 241.72 L366.23 241.79 L366.73 241.85 L367.23 241.92 L367.74 242 L368.24 242.07 L368.74 242.15 L369.24 242.24 L369.74 242.32 L370.25 242.41 L370.75 242.5 L371.25 242.6 L371.75 242.69 L372.26 242.79 L372.76 242.89 L373.26 242.99 L373.76 243.09 L374.26 243.2 L374.77 243.3 L375.27 243.41 L375.77 243.52 L376.27 243.63 L376.78 243.74 L377.28 243.85 L377.78 243.96 L378.28 244.07 L378.78 244.19 L379.29 244.3 L379.79 244.41 L380.29 244.53 L380.79 244.64 L381.3 244.75 L381.8 244.86 L382.3 244.98 L382.8 245.09 L383.31 245.2 L383.81 245.31 L384.31 245.42 L384.81 245.53 L385.31 245.65 L385.82 245.77 L386.32 245.89 L386.82 246.01 L387.32 246.14 L387.83 246.27 L388.33 246.4 L388.83 246.53 L389.33 246.66 L389.83 246.79 L390.34 246.93 L390.84 247.06 L391.34 247.2 L391.84 247.34 L392.35 247.47 L392.85 247.61 L393.35 247.75 L393.85 247.88 L394.35 248.02 L394.86 248.15 L395.36 248.29 L395.86 248.42 L396.36 248.55 L396.87 248.68 L397.37 248.81 L397.87 248.93 L398.37 249.06 L398.88 249.18 L399.38 249.29 L399.88 249.41 L400.38 249.52 L400.88 249.63 L401.39 249.73 L401.89 249.84 L402.39 249.93 L402.89 250.03 L403.4 250.12 L403.9 250.21 L404.4 250.3 L404.9 250.38 L405.4 250.47 L405.91 250.55 L406.41 250.63 L406.91 250.71 L407.41 250.79 L407.92 250.87 L408.42 250.94 L408.92 251.02 L409.42 251.08 L409.92 251.15 L410.43 251.21 L410.93 251.27 L411.43 251.33 L411.93 251.38 L412.44 251.43 L412.94 251.48 L413.44 251.52 L413.94 251.56 L414.45 251.6 L414.95 251.64 L415.45 251.67 L415.95 251.71 L416.45 251.74 L416.96 251.77 L417.46 251.8 L417.96 251.83 L418.46 251.86 L418.97 251.88 L419.47 251.91 L419.97 251.93 L420.47 251.96 L420.97 251.98 L421.48 252 L421.98 252.02 L422.48 252.04 L422.98 252.06 L423.49 252.08 L423.99 252.1 L424.49 252.12 L424.99 252.14 L425.49 252.17 L426 252.19 L426.5 252.21 L427 252.23 L427.5 252.25 L428.01 252.27 L428.51 252.29 L429.01 252.32 L429.51 252.34 L430.02 252.36 L430.52 252.39 L431.02 252.42 L431.52 252.44 L432.02 252.47 L432.53 252.5 L433.03 252.53 L433.53 252.56 L434.03 252.59 L434.54 252.62 L435.04 252.65 L435.54 252.68 L436.04 252.71 L436.54 252.74 L437.05 252.77 L437.55 252.8 L438.05 252.84 L438.55 252.87 L439.06 252.9 L439.56 252.93 L440.06 252.96 L440.56 252.99 L441.06 253.02 L441.57 253.05 L442.07 253.08 L442.57 253.12 L443.07 253.15 L443.58 253.18 L444.08 253.21 L444.58 253.24 L445.08 253.27 L445.58 253.3 L446.09 253.33 L446.59 253.36 L447.09 253.39 L447.59 253.42 L448.1 253.45 L448.6 253.48 L449.1 253.51 L449.6 253.54 L450.11 253.57 L450.61 253.6 L451.11 253.62 L451.61 253.65 L452.11 253.68 L452.62 253.7 L453.12 253.73 L453.62 253.75 L454.12 253.77 L454.63 253.79 L455.13 253.81 L455.63 253.83 L456.13 253.84 L456.63 253.86 L457.14 253.87 L457.64 253.88 L458.14 253.89 L458.64 253.9 L459.15 253.9 L459.65 253.91 L460.15 253.91 L460.65 253.91 L461.15 253.9 L461.66 253.9 L462.16 253.89 L462.66 253.88 L463.16 253.86 L463.67 253.84 L464.17 253.82 L464.67 253.79 L465.17 253.76 L465.68 253.72 L466.18 253.67 L466.68 253.62 L467.18 253.56 L467.68 253.49 L468.19 253.41 L468.69 253.32 L469.19 253.21 L469.69 253.1 L470.2 252.97 L470.7 252.83 L471.2 252.66 L471.7 252.48 L472.2 252.28 L472.71 252.06 L473.21 251.82 L473.71 251.57 L474.21 251.29 L474.72 251 L475.22 250.68 L475.72 250.34 L476.22 249.97 L476.72 249.56 L477.23 249.12 L477.73 248.64 L478.23 248.13 L478.73 247.57 L479.24 246.96 L479.74 246.31 L480.24 245.61 L480.74 244.86 L481.25 244.06 L481.75 243.21 L482.25 242.3 L482.75 241.34 L483.25 240.33 L483.76 239.28 L484.26 238.17 L484.76 237.03 L485.26 235.85 L485.77 234.66 L486.27 233.45 L486.77 232.25 L487.27 231.05 L487.77 229.88 L488.28 228.76 L488.78 227.68 L489.28 226.69 L489.78 225.79 L490.29 225.01 L490.79 224.37 L491.29 223.88 L491.79 223.56 L492.29 223.44 L492.8 223.5 L493.3 223.78 L493.8 224.24 L494.3 224.86 L494.81 225.65 L495.31 226.59 L495.81 227.67 L496.31 228.87 L496.82 230.18 L497.32 231.58 L497.82 233.06 L498.32 234.59 L498.82 236.17 L499.33 237.77 L499.83 239.38 L500.33 241 L500.83 242.6 L501.34 244.18 L501.84 245.72 L502.34 247.22 L502.84 248.67 L503.34 250.07 L503.85 251.43 L504.35 252.75 L504.85 254.02 L505.35 255.26 L505.86 256.44 L506.36 257.58 L506.86 258.68 L507.36 259.73 L507.86 260.73 L508.37 261.69 L508.87 262.6 L509.37 263.46 L509.87 264.29 L510.38 265.07 L510.88 265.81 L511.38 266.51 L511.88 267.18 L512.38 267.8 L512.89 268.4 L513.39 268.96 L513.89 269.49 L514.39 269.99 L514.9 270.46 L515.4 270.91 L515.9 271.34 L516.4 271.74 L516.91 272.13 L517.41 272.49 L517.91 272.83 L518.41 273.16 L518.91 273.47 L519.42 273.76 L519.92 274.04 L520.42 274.31 L520.92 274.56 L521.43 274.8 L521.93 275.03 L522.43 275.25 L522.93 275.46 L523.43 275.65 L523.94 275.84 L524.44 276.03 L524.94 276.2 L525.44 276.37 L525.95 276.53 L526.45 276.68 L526.95 276.83 L527.45 276.97 L527.95 277.1 L528.46 277.23 L528.96 277.36 L529.46 277.48 L529.96 277.59 L530.47 277.7 L530.97 277.81 L531.47 277.91 L531.97 278.01 L532.48 278.1 L532.98 278.19 L533.48 278.27 L533.98 278.35 L534.48 278.43 L534.99 278.5 L535.49 278.57 L535.99 278.63 L536.49 278.69 L537 278.75 L537.5 278.8 L538 278.85" fill="none" stroke="#22c8d6" stroke-width="1.45" stroke-linejoin="round" stroke-linecap="round" />
<path d="M337.6 239.86 L338.1 239.86 L338.6 239.86 L339.11 239.87 L339.61 239.88 L340.11 239.88 L340.61 239.89 L341.12 239.91 L341.62 239.92 L342.12 239.93 L342.62 239.95 L343.12 239.97 L343.63 239.99 L344.13 240.01 L344.63 240.03 L345.13 240.06 L345.64 240.08 L346.14 240.11 L346.64 240.14 L347.14 240.17 L347.65 240.2 L348.15 240.23 L348.65 240.27 L349.15 240.3 L349.65 240.34 L350.16 240.37 L350.66 240.41 L351.16 240.45 L351.66 240.49 L352.17 240.53 L352.67 240.57 L353.17 240.62 L353.67 240.66 L354.17 240.7 L354.68 240.75 L355.18 240.8 L355.68 240.84 L356.18 240.89 L356.69 240.94 L357.19 240.99 L357.69 241.03 L358.19 241.08 L358.69 241.13 L359.2 241.18 L359.7 241.24 L360.2 241.29 L360.7 241.34 L361.21 241.39 L361.71 241.44 L362.21 241.49 L362.71 241.55 L363.22 241.6 L363.72 241.65 L364.22 241.71 L364.72 241.76 L365.22 241.82 L365.73 241.88 L366.23 241.94 L366.73 242.01 L367.23 242.08 L367.74 242.15 L368.24 242.23 L368.74 242.31 L369.24 242.4 L369.74 242.48 L370.25 242.57 L370.75 242.66 L371.25 242.76 L371.75 242.86 L372.26 242.95 L372.76 243.05 L373.26 243.16 L373.76 243.26 L374.26 243.37 L374.77 243.47 L375.27 243.58 L375.77 243.69 L376.27 243.8 L376.78 243.91 L377.28 244.03 L377.78 244.14 L378.28 244.25 L378.78 244.37 L379.29 244.48 L379.79 244.6 L380.29 244.71 L380.79 244.82 L381.3 244.94 L381.8 245.05 L382.3 245.16 L382.8 245.28 L383.31 245.39 L383.81 245.5 L384.31 245.61 L384.81 245.73 L385.31 245.84 L385.82 245.96 L386.32 246.09 L386.82 246.21 L387.32 246.34 L387.83 246.47 L388.33 246.6 L388.83 246.73 L389.33 246.87 L389.83 247 L390.34 247.14 L390.84 247.28 L391.34 247.42 L391.84 247.55 L392.35 247.69 L392.85 247.83 L393.35 247.97 L393.85 248.11 L394.35 248.24 L394.86 248.38 L395.36 248.51 L395.86 248.65 L396.36 248.78 L396.87 248.91 L397.37 249.04 L397.87 249.17 L398.37 249.29 L398.88 249.41 L399.38 249.53 L399.88 249.65 L400.38 249.76 L400.88 249.87 L401.39 249.98 L401.89 250.08 L402.39 250.18 L402.89 250.28 L403.4 250.37 L403.9 250.46 L404.4 250.55 L404.9 250.64 L405.4 250.72 L405.91 250.81 L406.41 250.89 L406.91 250.97 L407.41 251.05 L407.92 251.13 L408.42 251.21 L408.92 251.28 L409.42 251.35 L409.92 251.42 L410.43 251.48 L410.93 251.54 L411.43 251.6 L411.93 251.65 L412.44 251.7 L412.94 251.75 L413.44 251.79 L413.94 251.83 L414.45 251.87 L414.95 251.9 L415.45 251.94 L415.95 251.97 L416.45 252 L416.96 252.03 L417.46 252.06 L417.96 252.08 L418.46 252.11 L418.97 252.13 L419.47 252.15 L419.97 252.17 L420.47 252.18 L420.97 252.2 L421.48 252.21 L421.98 252.22 L422.48 252.23 L422.98 252.24 L423.49 252.25 L423.99 252.25 L424.49 252.25 L424.99 252.25 L425.49 252.25 L426 252.25 L426.5 252.24 L427 252.23 L427.5 252.22 L428.01 252.21 L428.51 252.19 L429.01 252.17 L429.51 252.15 L430.02 252.13 L430.52 252.1 L431.02 252.07 L431.52 252.03 L432.02 251.99 L432.53 251.95 L433.03 251.9 L433.53 251.85 L434.03 251.8 L434.54 251.73 L435.04 251.67 L435.54 251.59 L436.04 251.51 L436.54 251.43 L437.05 251.34 L437.55 251.24 L438.05 251.14 L438.55 251.03 L439.06 250.92 L439.56 250.8 L440.06 250.68 L440.56 250.55 L441.06 250.41 L441.57 250.28 L442.07 250.14 L442.57 249.99 L443.07 249.84 L443.58 249.69 L444.08 249.54 L444.58 249.39 L445.08 249.23 L445.58 249.08 L446.09 248.92 L446.59 248.77 L447.09 248.62 L447.59 248.48 L448.1 248.34 L448.6 248.2 L449.1 248.08 L449.6 247.96 L450.11 247.85 L450.61 247.75 L451.11 247.66 L451.61 247.59 L452.11 247.53 L452.62 247.48 L453.12 247.46 L453.62 247.45 L454.12 247.45 L454.63 247.48 L455.13 247.52 L455.63 247.59 L456.13 247.67 L456.63 247.77 L457.14 247.88 L457.64 248.01 L458.14 248.15 L458.64 248.31 L459.15 248.48 L459.65 248.66 L460.15 248.86 L460.65 249.07 L461.15 249.29 L461.66 249.52 L462.16 249.76 L462.66 250.01 L463.16 250.27 L463.67 250.53 L464.17 250.8 L464.67 251.08 L465.17 251.37 L465.68 251.65 L466.18 251.95 L466.68 252.25 L467.18 252.55 L467.68 252.85 L468.19 253.15 L468.69 253.46 L469.19 253.77 L469.69 254.08 L470.2 254.39 L470.7 254.7 L471.2 255.02 L471.7 255.33 L472.2 255.64 L472.71 255.95 L473.21 256.27 L473.71 256.6 L474.21 256.94 L474.72 257.28 L475.22 257.63 L475.72 257.99 L476.22 258.35 L476.72 258.72 L477.23 259.09 L477.73 259.47 L478.23 259.84 L478.73 260.22 L479.24 260.6 L479.74 260.98 L480.24 261.35 L480.74 261.73 L481.25 262.11 L481.75 262.48 L482.25 262.85 L482.75 263.21 L483.25 263.58 L483.76 263.93 L484.26 264.28 L484.76 264.63 L485.26 264.97 L485.77 265.32 L486.27 265.67 L486.77 266.03 L487.27 266.39 L487.77 266.75 L488.28 267.11 L488.78 267.47 L489.28 267.83 L489.78 268.19 L490.29 268.55 L490.79 268.91 L491.29 269.26 L491.79 269.61 L492.29 269.95 L492.8 270.29 L493.3 270.62 L493.8 270.97 L494.3 271.32 L494.81 271.68 L495.31 272.05 L495.81 272.42 L496.31 272.79 L496.82 273.15 L497.32 273.52 L497.82 273.87 L498.32 274.22 L498.82 274.56 L499.33 274.89 L499.83 275.2 L500.33 275.5 L500.83 275.77 L501.34 276.03 L501.84 276.26 L502.34 276.47 L502.84 276.65 L503.34 276.81 L503.85 276.95 L504.35 277.1 L504.85 277.23 L505.35 277.36 L505.86 277.49 L506.36 277.61 L506.86 277.72 L507.36 277.83 L507.86 277.93 L508.37 278.03 L508.87 278.13 L509.37 278.22 L509.87 278.31 L510.38 278.39 L510.88 278.47 L511.38 278.55 L511.88 278.62 L512.38 278.69 L512.89 278.76 L513.39 278.82 L513.89 278.88 L514.39 278.95 L514.9 279.01 L515.4 279.07 L515.9 279.13 L516.4 279.2 L516.91 279.26 L517.41 279.32 L517.91 279.38 L518.41 279.44 L518.91 279.5 L519.42 279.56 L519.92 279.62 L520.42 279.67 L520.92 279.73 L521.43 279.78 L521.93 279.84 L522.43 279.89 L522.93 279.95 L523.43 280 L523.94 280.05 L524.44 280.1 L524.94 280.15 L525.44 280.2 L525.95 280.24 L526.45 280.29 L526.95 280.33 L527.45 280.38 L527.95 280.42 L528.46 280.46 L528.96 280.5 L529.46 280.53 L529.96 280.57 L530.47 280.6 L530.97 280.64 L531.47 280.67 L531.97 280.7 L532.48 280.72 L532.98 280.75 L533.48 280.77 L533.98 280.79 L534.48 280.81 L534.99 280.83 L535.49 280.85 L535.99 280.86 L536.49 280.87 L537 280.88 L537.5 280.89 L538 280.9" fill="none" stroke="#e0a021" stroke-width="1.45" stroke-linejoin="round" stroke-linecap="round" />
<path d="M337.6 239.49 L338.1 239.48 L338.6 239.48 L339.11 239.48 L339.61 239.48 L340.11 239.48 L340.61 239.48 L341.12 239.49 L341.62 239.49 L342.12 239.5 L342.62 239.51 L343.12 239.52 L343.63 239.53 L344.13 239.55 L344.63 239.56 L345.13 239.58 L345.64 239.59 L346.14 239.61 L346.64 239.63 L347.14 239.65 L347.65 239.67 L348.15 239.69 L348.65 239.71 L349.15 239.74 L349.65 239.76 L350.16 239.79 L350.66 239.81 L351.16 239.84 L351.66 239.87 L352.17 239.89 L352.67 239.92 L353.17 239.95 L353.67 239.98 L354.17 240.01 L354.68 240.04 L355.18 240.07 L355.68 240.1 L356.18 240.12 L356.69 240.15 L357.19 240.18 L357.69 240.21 L358.19 240.24 L358.69 240.26 L359.2 240.29 L359.7 240.31 L360.2 240.34 L360.7 240.36 L361.21 240.38 L361.71 240.4 L362.21 240.41 L362.71 240.43 L363.22 240.44 L363.72 240.45 L364.22 240.46 L364.72 240.46 L365.22 240.46 L365.73 240.46 L366.23 240.47 L366.73 240.47 L367.23 240.46 L367.74 240.46 L368.24 240.45 L368.74 240.44 L369.24 240.43 L369.74 240.41 L370.25 240.38 L370.75 240.35 L371.25 240.31 L371.75 240.26 L372.26 240.2 L372.76 240.14 L373.26 240.06 L373.76 239.97 L374.26 239.87 L374.77 239.76 L375.27 239.63 L375.77 239.49 L376.27 239.34 L376.78 239.16 L377.28 238.97 L377.78 238.77 L378.28 238.54 L378.78 238.3 L379.29 238.04 L379.79 237.76 L380.29 237.46 L380.79 237.13 L381.3 236.79 L381.8 236.43 L382.3 236.05 L382.8 235.65 L383.31 235.23 L383.81 234.79 L384.31 234.33 L384.81 233.87 L385.31 233.39 L385.82 232.89 L386.32 232.39 L386.82 231.88 L387.32 231.37 L387.83 230.84 L388.33 230.32 L388.83 229.79 L389.33 229.27 L389.83 228.75 L390.34 228.23 L390.84 227.73 L391.34 227.24 L391.84 226.76 L392.35 226.31 L392.85 225.87 L393.35 225.47 L393.85 225.1 L394.35 224.76 L394.86 224.46 L395.36 224.2 L395.86 223.99 L396.36 223.82 L396.87 223.71 L397.37 223.66 L397.87 223.66 L398.37 223.71 L398.88 223.83 L399.38 224.04 L399.88 224.36 L400.38 224.78 L400.88 225.3 L401.39 225.9 L401.89 226.58 L402.39 227.33 L402.89 228.14 L403.4 229.01 L403.9 229.91 L404.4 230.84 L404.9 231.8 L405.4 232.78 L405.91 233.76 L406.41 234.74 L406.91 235.71 L407.41 236.67 L407.92 237.62 L408.42 238.54 L408.92 239.43 L409.42 240.3 L409.92 241.13 L410.43 241.93 L410.93 242.69 L411.43 243.41 L411.93 244.1 L412.44 244.74 L412.94 245.34 L413.44 245.91 L413.94 246.44 L414.45 246.93 L414.95 247.39 L415.45 247.81 L415.95 248.2 L416.45 248.56 L416.96 248.89 L417.46 249.2 L417.96 249.48 L418.46 249.74 L418.97 249.97 L419.47 250.19 L419.97 250.39 L420.47 250.57 L420.97 250.73 L421.48 250.89 L421.98 251.03 L422.48 251.16 L422.98 251.28 L423.49 251.39 L423.99 251.49 L424.49 251.59 L424.99 251.68 L425.49 251.76 L426 251.85 L426.5 251.92 L427 252 L427.5 252.07 L428.01 252.14 L428.51 252.21 L429.01 252.28 L429.51 252.34 L430.02 252.41 L430.52 252.47 L431.02 252.54 L431.52 252.6 L432.02 252.67 L432.53 252.74 L433.03 252.8 L433.53 252.87 L434.03 252.93 L434.54 252.99 L435.04 253.06 L435.54 253.12 L436.04 253.18 L436.54 253.25 L437.05 253.31 L437.55 253.38 L438.05 253.44 L438.55 253.5 L439.06 253.57 L439.56 253.63 L440.06 253.7 L440.56 253.76 L441.06 253.83 L441.57 253.89 L442.07 253.96 L442.57 254.02 L443.07 254.09 L443.58 254.16 L444.08 254.22 L444.58 254.29 L445.08 254.36 L445.58 254.43 L446.09 254.5 L446.59 254.57 L447.09 254.64 L447.59 254.71 L448.1 254.78 L448.6 254.85 L449.1 254.92 L449.6 255 L450.11 255.07 L450.61 255.15 L451.11 255.22 L451.61 255.3 L452.11 255.38 L452.62 255.45 L453.12 255.53 L453.62 255.61 L454.12 255.69 L454.63 255.77 L455.13 255.85 L455.63 255.93 L456.13 256.01 L456.63 256.09 L457.14 256.17 L457.64 256.25 L458.14 256.34 L458.64 256.42 L459.15 256.51 L459.65 256.6 L460.15 256.68 L460.65 256.77 L461.15 256.87 L461.66 256.96 L462.16 257.05 L462.66 257.15 L463.16 257.25 L463.67 257.35 L464.17 257.45 L464.67 257.56 L465.17 257.66 L465.68 257.77 L466.18 257.88 L466.68 258 L467.18 258.11 L467.68 258.23 L468.19 258.35 L468.69 258.48 L469.19 258.6 L469.69 258.73 L470.2 258.86 L470.7 259 L471.2 259.14 L471.7 259.28 L472.2 259.43 L472.71 259.57 L473.21 259.73 L473.71 259.91 L474.21 260.09 L474.72 260.29 L475.22 260.5 L475.72 260.72 L476.22 260.95 L476.72 261.19 L477.23 261.44 L477.73 261.69 L478.23 261.96 L478.73 262.22 L479.24 262.5 L479.74 262.78 L480.24 263.06 L480.74 263.35 L481.25 263.63 L481.75 263.92 L482.25 264.22 L482.75 264.51 L483.25 264.8 L483.76 265.09 L484.26 265.38 L484.76 265.66 L485.26 265.95 L485.77 266.24 L486.27 266.55 L486.77 266.86 L487.27 267.17 L487.77 267.49 L488.28 267.81 L488.78 268.14 L489.28 268.47 L489.78 268.8 L490.29 269.13 L490.79 269.45 L491.29 269.78 L491.79 270.1 L492.29 270.42 L492.8 270.74 L493.3 271.05 L493.8 271.38 L494.3 271.72 L494.81 272.06 L495.31 272.41 L495.81 272.77 L496.31 273.12 L496.82 273.48 L497.32 273.83 L497.82 274.18 L498.32 274.52 L498.82 274.85 L499.33 275.16 L499.83 275.47 L500.33 275.76 L500.83 276.02 L501.34 276.27 L501.84 276.5 L502.34 276.7 L502.84 276.87 L503.34 277.02 L503.85 277.16 L504.35 277.3 L504.85 277.43 L505.35 277.56 L505.86 277.68 L506.36 277.79 L506.86 277.9 L507.36 278.01 L507.86 278.11 L508.37 278.2 L508.87 278.29 L509.37 278.38 L509.87 278.47 L510.38 278.55 L510.88 278.62 L511.38 278.7 L511.88 278.77 L512.38 278.83 L512.89 278.9 L513.39 278.96 L513.89 279.02 L514.39 279.08 L514.9 279.14 L515.4 279.2 L515.9 279.26 L516.4 279.32 L516.91 279.38 L517.41 279.44 L517.91 279.49 L518.41 279.55 L518.91 279.61 L519.42 279.67 L519.92 279.72 L520.42 279.78 L520.92 279.83 L521.43 279.89 L521.93 279.94 L522.43 279.99 L522.93 280.04 L523.43 280.09 L523.94 280.14 L524.44 280.19 L524.94 280.24 L525.44 280.28 L525.95 280.33 L526.45 280.37 L526.95 280.42 L527.45 280.46 L527.95 280.5 L528.46 280.54 L528.96 280.57 L529.46 280.61 L529.96 280.64 L530.47 280.68 L530.97 280.71 L531.47 280.74 L531.97 280.77 L532.48 280.79 L532.98 280.82 L533.48 280.84 L533.98 280.86 L534.48 280.88 L534.99 280.9 L535.49 280.91 L535.99 280.92 L536.49 280.93 L537 280.94 L537.5 280.95 L538 280.95" fill="none" stroke="#1aa35a" stroke-width="1.45" stroke-linejoin="round" stroke-linecap="round" />
<path d="M337.6 239.11 L338.1 239.05 L338.6 239 L339.11 238.94 L339.61 238.89 L340.11 238.83 L340.61 238.77 L341.12 238.72 L341.62 238.66 L342.12 238.6 L342.62 238.55 L343.12 238.49 L343.63 238.44 L344.13 238.38 L344.63 238.33 L345.13 238.28 L345.64 238.23 L346.14 238.18 L346.64 238.13 L347.14 238.09 L347.65 238.04 L348.15 238.01 L348.65 237.97 L349.15 237.94 L349.65 237.91 L350.16 237.88 L350.66 237.86 L351.16 237.84 L351.66 237.83 L352.17 237.82 L352.67 237.82 L353.17 237.82 L353.67 237.83 L354.17 237.84 L354.68 237.86 L355.18 237.88 L355.68 237.91 L356.18 237.95 L356.69 237.99 L357.19 238.04 L357.69 238.1 L358.19 238.16 L358.69 238.22 L359.2 238.29 L359.7 238.37 L360.2 238.45 L360.7 238.54 L361.21 238.63 L361.71 238.73 L362.21 238.83 L362.71 238.94 L363.22 239.05 L363.72 239.16 L364.22 239.28 L364.72 239.39 L365.22 239.52 L365.73 239.65 L366.23 239.79 L366.73 239.93 L367.23 240.08 L367.74 240.23 L368.24 240.38 L368.74 240.54 L369.24 240.7 L369.74 240.87 L370.25 241.03 L370.75 241.2 L371.25 241.37 L371.75 241.54 L372.26 241.71 L372.76 241.89 L373.26 242.06 L373.76 242.23 L374.26 242.4 L374.77 242.57 L375.27 242.74 L375.77 242.91 L376.27 243.08 L376.78 243.25 L377.28 243.41 L377.78 243.58 L378.28 243.74 L378.78 243.9 L379.29 244.05 L379.79 244.21 L380.29 244.36 L380.79 244.51 L381.3 244.66 L381.8 244.81 L382.3 244.95 L382.8 245.09 L383.31 245.23 L383.81 245.37 L384.31 245.5 L384.81 245.64 L385.31 245.77 L385.82 245.91 L386.32 246.05 L386.82 246.19 L387.32 246.34 L387.83 246.48 L388.33 246.62 L388.83 246.77 L389.33 246.91 L389.83 247.06 L390.34 247.2 L390.84 247.35 L391.34 247.5 L391.84 247.64 L392.35 247.79 L392.85 247.93 L393.35 248.07 L393.85 248.22 L394.35 248.36 L394.86 248.5 L395.36 248.64 L395.86 248.78 L396.36 248.92 L396.87 249.05 L397.37 249.18 L397.87 249.31 L398.37 249.44 L398.88 249.57 L399.38 249.69 L399.88 249.81 L400.38 249.93 L400.88 250.04 L401.39 250.15 L401.89 250.26 L402.39 250.36 L402.89 250.46 L403.4 250.55 L403.9 250.65 L404.4 250.74 L404.9 250.83 L405.4 250.92 L405.91 251.01 L406.41 251.1 L406.91 251.19 L407.41 251.27 L407.92 251.35 L408.42 251.43 L408.92 251.51 L409.42 251.59 L409.92 251.66 L410.43 251.73 L410.93 251.79 L411.43 251.86 L411.93 251.92 L412.44 251.97 L412.94 252.02 L413.44 252.07 L413.94 252.12 L414.45 252.17 L414.95 252.21 L415.45 252.26 L415.95 252.3 L416.45 252.34 L416.96 252.38 L417.46 252.41 L417.96 252.45 L418.46 252.49 L418.97 252.52 L419.47 252.55 L419.97 252.59 L420.47 252.62 L420.97 252.65 L421.48 252.68 L421.98 252.71 L422.48 252.74 L422.98 252.77 L423.49 252.81 L423.99 252.84 L424.49 252.87 L424.99 252.9 L425.49 252.93 L426 252.96 L426.5 252.99 L427 253.02 L427.5 253.06 L428.01 253.09 L428.51 253.13 L429.01 253.16 L429.51 253.2 L430.02 253.24 L430.52 253.28 L431.02 253.32 L431.52 253.36 L432.02 253.4 L432.53 253.45 L433.03 253.49 L433.53 253.54 L434.03 253.58 L434.54 253.63 L435.04 253.68 L435.54 253.73 L436.04 253.77 L436.54 253.82 L437.05 253.87 L437.55 253.92 L438.05 253.97 L438.55 254.02 L439.06 254.08 L439.56 254.13 L440.06 254.18 L440.56 254.23 L441.06 254.29 L441.57 254.34 L442.07 254.4 L442.57 254.46 L443.07 254.51 L443.58 254.57 L444.08 254.63 L444.58 254.69 L445.08 254.75 L445.58 254.81 L446.09 254.87 L446.59 254.93 L447.09 255 L447.59 255.06 L448.1 255.13 L448.6 255.19 L449.1 255.26 L449.6 255.32 L450.11 255.39 L450.61 255.46 L451.11 255.53 L451.61 255.6 L452.11 255.67 L452.62 255.75 L453.12 255.82 L453.62 255.89 L454.12 255.96 L454.63 256.04 L455.13 256.11 L455.63 256.19 L456.13 256.26 L456.63 256.34 L457.14 256.42 L457.64 256.5 L458.14 256.58 L458.64 256.66 L459.15 256.74 L459.65 256.83 L460.15 256.91 L460.65 257 L461.15 257.09 L461.66 257.18 L462.16 257.27 L462.66 257.36 L463.16 257.46 L463.67 257.55 L464.17 257.65 L464.67 257.75 L465.17 257.86 L465.68 257.96 L466.18 258.07 L466.68 258.18 L467.18 258.3 L467.68 258.41 L468.19 258.53 L468.69 258.65 L469.19 258.78 L469.69 258.9 L470.2 259.03 L470.7 259.17 L471.2 259.3 L471.7 259.44 L472.2 259.59 L472.71 259.73 L473.21 259.89 L473.71 260.06 L474.21 260.24 L474.72 260.44 L475.22 260.65 L475.72 260.87 L476.22 261.09 L476.72 261.33 L477.23 261.58 L477.73 261.83 L478.23 262.09 L478.73 262.36 L479.24 262.63 L479.74 262.91 L480.24 263.19 L480.74 263.47 L481.25 263.76 L481.75 264.05 L482.25 264.34 L482.75 264.63 L483.25 264.92 L483.76 265.21 L484.26 265.49 L484.76 265.78 L485.26 266.06 L485.77 266.36 L486.27 266.66 L486.77 266.97 L487.27 267.28 L487.77 267.6 L488.28 267.92 L488.78 268.25 L489.28 268.57 L489.78 268.9 L490.29 269.23 L490.79 269.56 L491.29 269.88 L491.79 270.2 L492.29 270.52 L492.8 270.84 L493.3 271.15 L493.8 271.48 L494.3 271.81 L494.81 272.16 L495.31 272.51 L495.81 272.86 L496.31 273.22 L496.82 273.57 L497.32 273.92 L497.82 274.27 L498.32 274.6 L498.82 274.93 L499.33 275.25 L499.83 275.55 L500.33 275.84 L500.83 276.11 L501.34 276.35 L501.84 276.58 L502.34 276.78 L502.84 276.95 L503.34 277.1 L503.85 277.24 L504.35 277.38 L504.85 277.51 L505.35 277.63 L505.86 277.75 L506.36 277.87 L506.86 277.98 L507.36 278.08 L507.86 278.18 L508.37 278.28 L508.87 278.37 L509.37 278.45 L509.87 278.54 L510.38 278.62 L510.88 278.69 L511.38 278.76 L511.88 278.83 L512.38 278.9 L512.89 278.96 L513.39 279.02 L513.89 279.08 L514.39 279.14 L514.9 279.2 L515.4 279.26 L515.9 279.32 L516.4 279.38 L516.91 279.44 L517.41 279.5 L517.91 279.55 L518.41 279.61 L518.91 279.67 L519.42 279.72 L519.92 279.78 L520.42 279.84 L520.92 279.89 L521.43 279.94 L521.93 280 L522.43 280.05 L522.93 280.1 L523.43 280.15 L523.94 280.2 L524.44 280.25 L524.94 280.29 L525.44 280.34 L525.95 280.38 L526.45 280.43 L526.95 280.47 L527.45 280.51 L527.95 280.55 L528.46 280.59 L528.96 280.63 L529.46 280.66 L529.96 280.7 L530.47 280.73 L530.97 280.76 L531.47 280.79 L531.97 280.82 L532.48 280.84 L532.98 280.87 L533.48 280.89 L533.98 280.91 L534.48 280.93 L534.99 280.94 L535.49 280.96 L535.99 280.97 L536.49 280.98 L537 280.99 L537.5 280.99 L538 281" fill="none" stroke="#2266dd" stroke-width="1.45" stroke-linejoin="round" stroke-linecap="round" />
<path d="M337.6 239.9 L338.1 239.9 L338.6 239.9 L339.11 239.91 L339.61 239.92 L340.11 239.92 L340.61 239.93 L341.12 239.95 L341.62 239.96 L342.12 239.98 L342.62 239.99 L343.12 240.01 L343.63 240.03 L344.13 240.05 L344.63 240.08 L345.13 240.1 L345.64 240.13 L346.14 240.16 L346.64 240.18 L347.14 240.21 L347.65 240.25 L348.15 240.28 L348.65 240.31 L349.15 240.35 L349.65 240.38 L350.16 240.42 L350.66 240.46 L351.16 240.5 L351.66 240.54 L352.17 240.58 L352.67 240.62 L353.17 240.67 L353.67 240.71 L354.17 240.76 L354.68 240.8 L355.18 240.85 L355.68 240.9 L356.18 240.94 L356.69 240.99 L357.19 241.04 L357.69 241.09 L358.19 241.14 L358.69 241.19 L359.2 241.24 L359.7 241.29 L360.2 241.35 L360.7 241.4 L361.21 241.45 L361.71 241.5 L362.21 241.56 L362.71 241.61 L363.22 241.66 L363.72 241.72 L364.22 241.77 L364.72 241.82 L365.22 241.88 L365.73 241.94 L366.23 242.01 L366.73 242.08 L367.23 242.15 L367.74 242.22 L368.24 242.3 L368.74 242.38 L369.24 242.47 L369.74 242.56 L370.25 242.65 L370.75 242.74 L371.25 242.83 L371.75 242.93 L372.26 243.03 L372.76 243.13 L373.26 243.24 L373.76 243.34 L374.26 243.45 L374.77 243.56 L375.27 243.66 L375.77 243.78 L376.27 243.89 L376.78 244 L377.28 244.11 L377.78 244.23 L378.28 244.34 L378.78 244.46 L379.29 244.57 L379.79 244.69 L380.29 244.8 L380.79 244.92 L381.3 245.03 L381.8 245.15 L382.3 245.26 L382.8 245.38 L383.31 245.49 L383.81 245.6 L384.31 245.71 L384.81 245.83 L385.31 245.95 L385.82 246.07 L386.32 246.2 L386.82 246.32 L387.32 246.45 L387.83 246.58 L388.33 246.72 L388.83 246.85 L389.33 246.99 L389.83 247.13 L390.34 247.26 L390.84 247.4 L391.34 247.54 L391.84 247.68 L392.35 247.82 L392.85 247.96 L393.35 248.1 L393.85 248.24 L394.35 248.38 L394.86 248.52 L395.36 248.66 L395.86 248.79 L396.36 248.93 L396.87 249.06 L397.37 249.19 L397.87 249.32 L398.37 249.45 L398.88 249.57 L399.38 249.7 L399.88 249.81 L400.38 249.93 L400.88 250.04 L401.39 250.15 L401.89 250.26 L402.39 250.36 L402.89 250.46 L403.4 250.56 L403.9 250.65 L404.4 250.74 L404.9 250.83 L405.4 250.93 L405.91 251.01 L406.41 251.1 L406.91 251.19 L407.41 251.27 L407.92 251.35 L408.42 251.43 L408.92 251.51 L409.42 251.59 L409.92 251.66 L410.43 251.73 L410.93 251.79 L411.43 251.86 L411.93 251.92 L412.44 251.97 L412.94 252.02 L413.44 252.07 L413.94 252.12 L414.45 252.17 L414.95 252.21 L415.45 252.26 L415.95 252.3 L416.45 252.34 L416.96 252.38 L417.46 252.41 L417.96 252.45 L418.46 252.49 L418.97 252.52 L419.47 252.55 L419.97 252.59 L420.47 252.62 L420.97 252.65 L421.48 252.68 L421.98 252.71 L422.48 252.74 L422.98 252.77 L423.49 252.81 L423.99 252.84 L424.49 252.87 L424.99 252.9 L425.49 252.93 L426 252.96 L426.5 252.99 L427 253.02 L427.5 253.06 L428.01 253.09 L428.51 253.13 L429.01 253.16 L429.51 253.2 L430.02 253.24 L430.52 253.28 L431.02 253.32 L431.52 253.36 L432.02 253.4 L432.53 253.45 L433.03 253.49 L433.53 253.54 L434.03 253.58 L434.54 253.63 L435.04 253.68 L435.54 253.73 L436.04 253.77 L436.54 253.82 L437.05 253.87 L437.55 253.92 L438.05 253.97 L438.55 254.02 L439.06 254.08 L439.56 254.13 L440.06 254.18 L440.56 254.23 L441.06 254.29 L441.57 254.34 L442.07 254.4 L442.57 254.46 L443.07 254.51 L443.58 254.57 L444.08 254.63 L444.58 254.69 L445.08 254.75 L445.58 254.81 L446.09 254.87 L446.59 254.93 L447.09 255 L447.59 255.06 L448.1 255.13 L448.6 255.19 L449.1 255.26 L449.6 255.32 L450.11 255.39 L450.61 255.46 L451.11 255.53 L451.61 255.6 L452.11 255.67 L452.62 255.75 L453.12 255.82 L453.62 255.89 L454.12 255.96 L454.63 256.04 L455.13 256.11 L455.63 256.19 L456.13 256.26 L456.63 256.34 L457.14 256.42 L457.64 256.5 L458.14 256.58 L458.64 256.66 L459.15 256.74 L459.65 256.83 L460.15 256.91 L460.65 257 L461.15 257.09 L461.66 257.18 L462.16 257.27 L462.66 257.36 L463.16 257.46 L463.67 257.55 L464.17 257.65 L464.67 257.75 L465.17 257.86 L465.68 257.96 L466.18 258.07 L466.68 258.18 L467.18 258.3 L467.68 258.41 L468.19 258.53 L468.69 258.65 L469.19 258.78 L469.69 258.9 L470.2 259.03 L470.7 259.17 L471.2 259.3 L471.7 259.44 L472.2 259.59 L472.71 259.73 L473.21 259.89 L473.71 260.06 L474.21 260.24 L474.72 260.44 L475.22 260.65 L475.72 260.87 L476.22 261.09 L476.72 261.33 L477.23 261.58 L477.73 261.83 L478.23 262.09 L478.73 262.36 L479.24 262.63 L479.74 262.91 L480.24 263.19 L480.74 263.47 L481.25 263.76 L481.75 264.05 L482.25 264.34 L482.75 264.63 L483.25 264.92 L483.76 265.21 L484.26 265.49 L484.76 265.78 L485.26 266.06 L485.77 266.36 L486.27 266.66 L486.77 266.97 L487.27 267.28 L487.77 267.6 L488.28 267.92 L488.78 268.25 L489.28 268.57 L489.78 268.9 L490.29 269.23 L490.79 269.56 L491.29 269.88 L491.79 270.2 L492.29 270.52 L492.8 270.84 L493.3 271.15 L493.8 271.48 L494.3 271.81 L494.81 272.16 L495.31 272.51 L495.81 272.86 L496.31 273.22 L496.82 273.57 L497.32 273.92 L497.82 274.27 L498.32 274.6 L498.82 274.93 L499.33 275.25 L499.83 275.55 L500.33 275.84 L500.83 276.11 L501.34 276.35 L501.84 276.58 L502.34 276.78 L502.84 276.95 L503.34 277.1 L503.85 277.24 L504.35 277.38 L504.85 277.51 L505.35 277.63 L505.86 277.75 L506.36 277.87 L506.86 277.98 L507.36 278.08 L507.86 278.18 L508.37 278.28 L508.87 278.37 L509.37 278.45 L509.87 278.54 L510.38 278.62 L510.88 278.69 L511.38 278.76 L511.88 278.83 L512.38 278.9 L512.89 278.96 L513.39 279.02 L513.89 279.08 L514.39 279.14 L514.9 279.2 L515.4 279.26 L515.9 279.32 L516.4 279.38 L516.91 279.44 L517.41 279.5 L517.91 279.55 L518.41 279.61 L518.91 279.67 L519.42 279.72 L519.92 279.78 L520.42 279.84 L520.92 279.89 L521.43 279.94 L521.93 280 L522.43 280.05 L522.93 280.1 L523.43 280.15 L523.94 280.2 L524.44 280.25 L524.94 280.29 L525.44 280.34 L525.95 280.38 L526.45 280.43 L526.95 280.47 L527.45 280.51 L527.95 280.55 L528.46 280.59 L528.96 280.63 L529.46 280.66 L529.96 280.7 L530.47 280.73 L530.97 280.76 L531.47 280.79 L531.97 280.82 L532.48 280.84 L532.98 280.87 L533.48 280.89 L533.98 280.91 L534.48 280.93 L534.99 280.94 L535.49 280.96 L535.99 280.97 L536.49 280.98 L537 280.99 L537.5 280.99 L538 281" fill="none" stroke="#b76de6" stroke-width="1.45" stroke-linejoin="round" stroke-linecap="round" />
<path d="M326.9 239.6 L327.8 241.2 L328.6 237.6 L329.3 240.8 L330 239 L330.8 241.6 L331.6 238.2 L332.3 240.4 L333 237.4 L333.8 242.6 L334.6 239.2 L335.4 240.6 L336.2 239.4 L337 240 L337.6 238.51 L338.1 238.45 L338.6 238.39 L339.11 238.32 L339.61 238.26 L340.11 238.19 L340.61 238.13 L341.12 238.06 L341.62 238 L342.12 237.93 L342.62 237.87 L343.12 237.8 L343.63 237.74 L344.13 237.67 L344.63 237.61 L345.13 237.55 L345.64 237.48 L346.14 237.42 L346.64 237.37 L347.14 237.31 L347.65 237.25 L348.15 237.2 L348.65 237.15 L349.15 237.11 L349.65 237.06 L350.16 237.02 L350.66 236.99 L351.16 236.96 L351.66 236.93 L352.17 236.9 L352.67 236.88 L353.17 236.87 L353.67 236.86 L354.17 236.86 L354.68 236.86 L355.18 236.86 L355.68 236.87 L356.18 236.89 L356.69 236.91 L357.19 236.93 L357.69 236.96 L358.19 237 L358.69 237.04 L359.2 237.08 L359.7 237.13 L360.2 237.18 L360.7 237.24 L361.21 237.3 L361.71 237.36 L362.21 237.42 L362.71 237.49 L363.22 237.55 L363.72 237.62 L364.22 237.68 L364.72 237.75 L365.22 237.82 L365.73 237.89 L366.23 237.96 L366.73 238.03 L367.23 238.1 L367.74 238.17 L368.24 238.24 L368.74 238.3 L369.24 238.36 L369.74 238.41 L370.25 238.46 L370.75 238.5 L371.25 238.53 L371.75 238.55 L372.26 238.57 L372.76 238.57 L373.26 238.56 L373.76 238.53 L374.26 238.5 L374.77 238.44 L375.27 238.37 L375.77 238.29 L376.27 238.18 L376.78 238.06 L377.28 237.92 L377.78 237.76 L378.28 237.58 L378.78 237.38 L379.29 237.16 L379.79 236.91 L380.29 236.64 L380.79 236.35 L381.3 236.04 L381.8 235.71 L382.3 235.35 L382.8 234.97 L383.31 234.57 L383.81 234.16 L384.31 233.72 L384.81 233.26 L385.31 232.8 L385.82 232.32 L386.32 231.83 L386.82 231.33 L387.32 230.82 L387.83 230.31 L388.33 229.79 L388.83 229.27 L389.33 228.75 L389.83 228.23 L390.34 227.72 L390.84 227.21 L391.34 226.72 L391.84 226.25 L392.35 225.79 L392.85 225.36 L393.35 224.95 L393.85 224.58 L394.35 224.23 L394.86 223.93 L395.36 223.67 L395.86 223.45 L396.36 223.29 L396.87 223.17 L397.37 223.11 L397.87 223.1 L398.37 223.15 L398.88 223.26 L399.38 223.47 L399.88 223.78 L400.38 224.2 L400.88 224.71 L401.39 225.3 L401.89 225.98 L402.39 226.72 L402.89 227.53 L403.4 228.38 L403.9 229.27 L404.4 230.2 L404.9 231.15 L405.4 232.11 L405.91 233.09 L406.41 234.06 L406.91 235.02 L407.41 235.98 L407.92 236.91 L408.42 237.82 L408.92 238.71 L409.42 239.56 L409.92 240.38 L410.43 241.17 L410.93 241.92 L411.43 242.63 L411.93 243.3 L412.44 243.93 L412.94 244.52 L413.44 245.07 L413.94 245.58 L414.45 246.06 L414.95 246.5 L415.45 246.91 L415.95 247.29 L416.45 247.63 L416.96 247.95 L417.46 248.23 L417.96 248.49 L418.46 248.73 L418.97 248.94 L419.47 249.14 L419.97 249.31 L420.47 249.47 L420.97 249.61 L421.48 249.73 L421.98 249.84 L422.48 249.94 L422.98 250.03 L423.49 250.11 L423.99 250.17 L424.49 250.23 L424.99 250.28 L425.49 250.32 L426 250.36 L426.5 250.39 L427 250.41 L427.5 250.43 L428.01 250.44 L428.51 250.44 L429.01 250.44 L429.51 250.44 L430.02 250.42 L430.52 250.41 L431.02 250.39 L431.52 250.36 L432.02 250.33 L432.53 250.3 L433.03 250.25 L433.53 250.2 L434.03 250.15 L434.54 250.09 L435.04 250.02 L435.54 249.94 L436.04 249.86 L436.54 249.77 L437.05 249.68 L437.55 249.58 L438.05 249.47 L438.55 249.35 L439.06 249.23 L439.56 249.1 L440.06 248.97 L440.56 248.83 L441.06 248.68 L441.57 248.53 L442.07 248.38 L442.57 248.22 L443.07 248.05 L443.58 247.88 L444.08 247.71 L444.58 247.54 L445.08 247.36 L445.58 247.19 L446.09 247.01 L446.59 246.83 L447.09 246.66 L447.59 246.49 L448.1 246.32 L448.6 246.16 L449.1 246 L449.6 245.85 L450.11 245.7 L450.61 245.57 L451.11 245.45 L451.61 245.33 L452.11 245.23 L452.62 245.15 L453.12 245.08 L453.62 245.02 L454.12 244.98 L454.63 244.96 L455.13 244.95 L455.63 244.96 L456.13 244.99 L456.63 245.03 L457.14 245.08 L457.64 245.15 L458.14 245.22 L458.64 245.31 L459.15 245.41 L459.65 245.51 L460.15 245.63 L460.65 245.76 L461.15 245.89 L461.66 246.03 L462.16 246.17 L462.66 246.32 L463.16 246.47 L463.67 246.62 L464.17 246.77 L464.67 246.92 L465.17 247.07 L465.68 247.22 L466.18 247.36 L466.68 247.5 L467.18 247.62 L467.68 247.74 L468.19 247.85 L468.69 247.95 L469.19 248.04 L469.69 248.11 L470.2 248.16 L470.7 248.2 L471.2 248.21 L471.7 248.21 L472.2 248.18 L472.71 248.12 L473.21 248.05 L473.71 247.95 L474.21 247.84 L474.72 247.69 L475.22 247.52 L475.72 247.32 L476.22 247.08 L476.72 246.81 L477.23 246.5 L477.73 246.14 L478.23 245.74 L478.73 245.29 L479.24 244.8 L479.74 244.25 L480.24 243.65 L480.74 242.99 L481.25 242.28 L481.75 241.51 L482.25 240.69 L482.75 239.81 L483.25 238.87 L483.76 237.88 L484.26 236.84 L484.76 235.76 L485.26 234.64 L485.77 233.5 L486.27 232.35 L486.77 231.19 L487.27 230.05 L487.77 228.92 L488.28 227.83 L488.78 226.8 L489.28 225.84 L489.78 224.98 L490.29 224.23 L490.79 223.62 L491.29 223.16 L491.79 222.87 L492.29 222.76 L492.8 222.86 L493.3 223.15 L493.8 223.63 L494.3 224.28 L494.81 225.08 L495.31 226.04 L495.81 227.13 L496.31 228.35 L496.82 229.67 L497.32 231.09 L497.82 232.58 L498.32 234.12 L498.82 235.71 L499.33 237.32 L499.83 238.95 L500.33 240.57 L500.83 242.18 L501.34 243.77 L501.84 245.32 L502.34 246.83 L502.84 248.29 L503.34 249.69 L503.85 251.06 L504.35 252.39 L504.85 253.67 L505.35 254.91 L505.86 256.1 L506.36 257.25 L506.86 258.35 L507.36 259.4 L507.86 260.41 L508.37 261.37 L508.87 262.29 L509.37 263.16 L509.87 263.99 L510.38 264.77 L510.88 265.52 L511.38 266.23 L511.88 266.89 L512.38 267.53 L512.89 268.12 L513.39 268.69 L513.89 269.22 L514.39 269.73 L514.9 270.21 L515.4 270.66 L515.9 271.09 L516.4 271.5 L516.91 271.88 L517.41 272.25 L517.91 272.6 L518.41 272.92 L518.91 273.24 L519.42 273.53 L519.92 273.82 L520.42 274.08 L520.92 274.34 L521.43 274.58 L521.93 274.81 L522.43 275.04 L522.93 275.25 L523.43 275.45 L523.94 275.64 L524.44 275.83 L524.94 276 L525.44 276.17 L525.95 276.33 L526.45 276.49 L526.95 276.64 L527.45 276.78 L527.95 276.92 L528.46 277.05 L528.96 277.18 L529.46 277.3 L529.96 277.42 L530.47 277.53 L530.97 277.64 L531.47 277.74 L531.97 277.84 L532.48 277.93 L532.98 278.02 L533.48 278.11 L533.98 278.19 L534.48 278.27 L534.99 278.34 L535.49 278.41 L535.99 278.48 L536.49 278.54 L537 278.6 L537.5 278.65 L538 278.71" fill="none" stroke="#f42c30" stroke-width="1.55" stroke-linejoin="round" stroke-linecap="round" />
<path d="M326.9 317.61 L327.43 317.71 L327.96 317.81 L328.49 317.91 L329.02 318.01 L329.55 318.11 L330.07 318.21 L330.6 318.31 L331.13 318.41 L331.66 318.51 L332.19 318.61 L332.72 318.71 L333.25 318.81 L333.78 318.91 L334.31 319.01 L334.84 319.11 L335.37 319.21 L335.89 319.31 L336.42 319.41 L336.95 319.51 L337.48 319.61 L338.01 319.71 L338.54 319.81 L339.07 319.91 L339.6 320.01 L340.13 320.11 L340.66 320.2 L341.18 320.3 L341.71 320.4 L342.24 320.5 L342.77 320.6 L343.3 320.7 L343.83 320.8 L344.36 320.9 L344.89 321 L345.42 321.1 L345.95 321.2 L346.48 321.3 L347 321.4 L347.53 321.5 L348.06 321.6 L348.59 321.7 L349.12 321.8 L349.65 321.9 L350.18 322 L350.71 322.1 L351.24 322.2 L351.77 322.3 L352.3 322.4 L352.82 322.5 L353.35 322.6 L353.88 322.7 L354.41 322.8 L354.94 322.9 L355.47 323 L356 323.1 L356.53 323.2 L357.06 323.3 L357.59 323.39 L358.12 323.49 L358.64 323.59 L359.17 323.69 L359.7 323.79 L360.23 323.89 L360.76 323.99 L361.29 324.09 L361.82 324.19 L362.35 324.29 L362.88 324.39 L363.41 324.49 L363.94 324.59 L364.46 324.69 L364.99 324.79 L365.52 324.89 L366.05 324.99 L366.58 325.09 L367.11 325.19 L367.64 325.29 L368.17 325.39 L368.7 325.49 L369.23 325.59 L369.75 325.69 L370.28 325.79 L370.81 325.89 L371.34 325.99 L371.87 326.09 L372.4 326.19 L372.93 326.29 L373.46 326.39 L373.99 326.48 L374.52 326.58 L375.05 326.68 L375.57 326.78 L376.1 326.88 L376.63 326.98 L377.16 327.08 L377.69 327.18 L378.22 327.28 L378.75 327.38 L379.28 327.48 L379.81 327.58 L380.34 327.68 L380.87 327.78 L381.39 327.88 L381.92 327.98 L382.45 328.08 L382.98 328.18 L383.51 328.28 L384.04 328.38 L384.57 328.48 L385.1 328.58 L385.63 328.68 L386.16 328.78 L386.69 328.88 L387.21 328.98 L387.74 329.08 L388.27 329.18 L388.8 329.28 L389.33 329.38 L389.86 329.48 L390.39 329.58 L390.92 329.67 L391.45 329.77 L391.98 329.87 L392.51 329.97 L393.03 330.07 L393.56 330.17 L394.09 330.27 L394.62 330.37 L395.15 330.47 L395.68 330.57 L396.21 330.67 L396.74 330.77 L397.27 330.87 L397.8 330.97 L398.32 331.07 L398.85 331.17 L399.38 331.27 L399.91 331.37 L400.44 331.47 L400.97 331.57 L401.5 331.67 L402.03 331.77 L402.56 331.87 L403.09 331.97 L403.62 332.07 L404.14 332.17 L404.67 332.27 L405.2 332.37 L405.73 332.47 L406.26 332.57 L406.79 332.67 L407.32 332.77 L407.85 332.86 L408.38 332.96 L408.91 333.06 L409.44 333.16 L409.96 333.26 L410.49 333.36 L411.02 333.46 L411.55 333.56 L412.08 333.66 L412.61 333.76 L413.14 333.86 L413.67 333.96 L414.2 334.06 L414.73 334.16 L415.26 334.26 L415.78 334.36 L416.31 334.46 L416.84 334.56 L417.37 334.66 L417.9 334.76 L418.43 334.86 L418.96 334.96 L419.49 335.06 L420.02 335.16 L420.55 335.26 L421.07 335.36 L421.6 335.46 L422.13 335.56 L422.66 335.66 L423.19 335.76 L423.72 335.86 L424.25 335.95 L424.78 336.05 L425.31 336.15 L425.84 336.25 L426.37 336.35 L426.89 336.45 L427.42 336.55 L427.95 336.65 L428.48 336.75 L429.01 336.85 L429.54 336.95 L430.07 337.05 L430.6 337.15 L431.13 337.25 L431.66 337.35 L432.19 337.45 L432.71 337.55 L433.24 337.65 L433.77 337.75 L434.3 337.85 L434.83 337.95 L435.36 338.05 L435.89 338.15 L436.42 338.25 L436.95 338.35 L437.48 338.45 L438.01 338.55 L438.53 338.65 L439.06 338.75 L439.59 338.85 L440.12 338.95 L440.65 339.05 L441.18 339.14 L441.71 339.24 L442.24 339.34 L442.77 339.44 L443.3 339.54 L443.83 339.64 L444.35 339.74 L444.88 339.84 L445.41 339.94 L445.94 340.04 L446.47 340.14 L447 340.24 L447.53 340.34 L448.06 340.44 L448.59 340.54 L449.12 340.64 L449.64 340.74 L450.17 340.84 L450.7 340.94 L451.23 341.04 L451.76 341.14 L452.29 341.24 L452.82 341.34 L453.35 341.44 L453.88 341.54 L454.41 341.64 L454.94 341.74 L455.46 341.84 L455.99 341.94 L456.52 342.04 L457.05 342.14 L457.58 342.23 L458.11 342.33 L458.64 342.43 L459.17 342.53 L459.7 342.63 L460.23 342.73 L460.76 342.83 L461.28 342.93 L461.81 343.03 L462.34 343.13 L462.87 343.23 L463.4 343.33 L463.93 343.43 L464.46 343.53 L464.99 343.63 L465.52 343.73 L466.05 343.83 L466.58 343.93 L467.1 344.03 L467.63 344.13 L468.16 344.23 L468.69 344.33 L469.22 344.43 L469.75 344.53 L470.28 344.63 L470.81 344.73 L471.34 344.83 L471.87 344.93 L472.39 345.03 L472.92 345.13 L473.45 345.23 L473.98 345.33 L474.51 345.42 L475.04 345.52 L475.57 345.62 L476.1 345.72 L476.63 345.82 L477.16 345.92 L477.69 346.02 L478.21 346.12 L478.74 346.22 L479.27 346.32 L479.8 346.42 L480.33 346.52 L480.86 346.62 L481.39 346.72 L481.92 346.82 L482.45 346.92 L482.98 347.02 L483.51 347.12 L484.03 347.22 L484.56 347.32 L485.09 347.42 L485.62 347.52 L486.15 347.62 L486.68 347.72 L487.21 347.82 L487.74 347.92 L488.27 348.02 L488.8 348.12 L489.33 348.22 L489.85 348.32 L490.38 348.42 L490.91 348.52 L491.44 348.61 L491.97 348.71 L492.5 348.81 L493.03 348.91 L493.56 349.01 L494.09 349.11 L494.62 349.21 L495.15 349.31 L495.67 349.41 L496.2 349.51 L496.73 349.61 L497.26 349.71 L497.79 349.81 L498.32 349.91 L498.85 350.01 L499.38 350.11 L499.91 350.21 L500.44 350.31 L500.96 350.41 L501.49 350.51 L502.02 350.61 L502.55 350.71 L503.08 350.81 L503.61 350.91 L504.14 351.01 L504.67 351.11 L505.2 351.21 L505.73 351.31 L506.26 351.41 L506.78 351.51 L507.31 351.61 L507.84 351.7 L508.37 351.8 L508.9 351.9 L509.43 352 L509.96 352.1 L510.49 352.2 L511.02 352.3 L511.55 352.4 L512.08 352.5 L512.6 352.6 L513.13 352.7 L513.66 352.8 L514.19 352.9 L514.72 353 L515.25 353.1 L515.78 353.2 L516.31 353.3 L516.84 353.4 L517.37 353.5 L517.9 353.6 L518.42 353.7 L518.95 353.8 L519.48 353.9 L520.01 354 L520.54 354.1 L521.07 354.2 L521.6 354.3 L522.13 354.4 L522.66 354.5 L523.19 354.6 L523.72 354.7 L524.24 354.8 L524.77 354.89 L525.3 354.99 L525.83 355.09 L526.36 355.19 L526.89 355.29 L527.42 355.39 L527.95 355.49 L528.48 355.59 L529.01 355.69 L529.53 355.79 L530.06 355.89 L530.59 355.99 L531.12 356.09 L531.65 356.19 L532.18 356.29 L532.71 356.39 L533.24 356.49 L533.77 356.59 L534.3 356.69 L534.83 356.79 L535.35 356.89 L535.88 356.99 L536.41 357.09 L536.94 357.19 L537.47 357.29 L538 357.39" fill="none" stroke="#b76de6" stroke-width="1.45" stroke-linejoin="round" stroke-linecap="round" />
<path d="M326.9 317.37 L327.43 317.47 L327.96 317.57 L328.49 317.67 L329.02 317.76 L329.55 317.86 L330.07 317.96 L330.6 318.06 L331.13 318.15 L331.66 318.25 L332.19 318.35 L332.72 318.45 L333.25 318.55 L333.78 318.64 L334.31 318.74 L334.84 318.84 L335.37 318.93 L335.89 319.03 L336.42 319.13 L336.95 319.23 L337.48 319.32 L338.01 319.42 L338.54 319.52 L339.07 319.62 L339.6 319.71 L340.13 319.81 L340.66 319.91 L341.18 320 L341.71 320.1 L342.24 320.2 L342.77 320.29 L343.3 320.39 L343.83 320.49 L344.36 320.59 L344.89 320.68 L345.42 320.78 L345.95 320.88 L346.48 320.97 L347 321.07 L347.53 321.17 L348.06 321.26 L348.59 321.36 L349.12 321.45 L349.65 321.55 L350.18 321.65 L350.71 321.74 L351.24 321.84 L351.77 321.94 L352.3 322.03 L352.82 322.13 L353.35 322.22 L353.88 322.32 L354.41 322.42 L354.94 322.51 L355.47 322.61 L356 322.7 L356.53 322.8 L357.06 322.9 L357.59 322.99 L358.12 323.09 L358.64 323.18 L359.17 323.28 L359.7 323.37 L360.23 323.47 L360.76 323.56 L361.29 323.66 L361.82 323.75 L362.35 323.85 L362.88 323.94 L363.41 324.04 L363.94 324.13 L364.46 324.23 L364.99 324.32 L365.52 324.42 L366.05 324.51 L366.58 324.6 L367.11 324.7 L367.64 324.79 L368.17 324.89 L368.7 324.98 L369.23 325.07 L369.75 325.17 L370.28 325.26 L370.81 325.36 L371.34 325.45 L371.87 325.54 L372.4 325.64 L372.93 325.73 L373.46 325.82 L373.99 325.91 L374.52 326.01 L375.05 326.1 L375.57 326.19 L376.1 326.28 L376.63 326.38 L377.16 326.47 L377.69 326.56 L378.22 326.65 L378.75 326.74 L379.28 326.84 L379.81 326.93 L380.34 327.02 L380.87 327.11 L381.39 327.2 L381.92 327.29 L382.45 327.38 L382.98 327.47 L383.51 327.56 L384.04 327.65 L384.57 327.74 L385.1 327.83 L385.63 327.92 L386.16 328.01 L386.69 328.1 L387.21 328.18 L387.74 328.27 L388.27 328.36 L388.8 328.45 L389.33 328.53 L389.86 328.62 L390.39 328.71 L390.92 328.79 L391.45 328.88 L391.98 328.96 L392.51 329.05 L393.03 329.13 L393.56 329.22 L394.09 329.3 L394.62 329.38 L395.15 329.46 L395.68 329.55 L396.21 329.63 L396.74 329.71 L397.27 329.79 L397.8 329.87 L398.32 329.95 L398.85 330.02 L399.38 330.1 L399.91 330.18 L400.44 330.25 L400.97 330.33 L401.5 330.4 L402.03 330.47 L402.56 330.54 L403.09 330.61 L403.62 330.68 L404.14 330.75 L404.67 330.81 L405.2 330.88 L405.73 330.94 L406.26 331 L406.79 331.06 L407.32 331.12 L407.85 331.18 L408.38 331.23 L408.91 331.28 L409.44 331.33 L409.96 331.38 L410.49 331.43 L411.02 331.47 L411.55 331.51 L412.08 331.55 L412.61 331.59 L413.14 331.62 L413.67 331.65 L414.2 331.68 L414.73 331.7 L415.26 331.72 L415.78 331.74 L416.31 331.75 L416.84 331.76 L417.37 331.77 L417.9 331.77 L418.43 331.77 L418.96 331.76 L419.49 331.75 L420.02 331.74 L420.55 331.72 L421.07 331.7 L421.6 331.67 L422.13 331.64 L422.66 331.6 L423.19 331.56 L423.72 331.51 L424.25 331.45 L424.78 331.4 L425.31 331.33 L425.84 331.26 L426.37 331.19 L426.89 331.11 L427.42 331.03 L427.95 330.94 L428.48 330.84 L429.01 330.74 L429.54 330.63 L430.07 330.52 L430.6 330.4 L431.13 330.28 L431.66 330.15 L432.19 330.01 L432.71 329.87 L433.24 329.73 L433.77 329.58 L434.3 329.42 L434.83 329.26 L435.36 329.1 L435.89 328.93 L436.42 328.76 L436.95 328.58 L437.48 328.4 L438.01 328.22 L438.53 328.03 L439.06 327.84 L439.59 327.65 L440.12 327.46 L440.65 327.26 L441.18 327.07 L441.71 326.87 L442.24 326.67 L442.77 326.48 L443.3 326.28 L443.83 326.09 L444.35 325.9 L444.88 325.72 L445.41 325.54 L445.94 325.36 L446.47 325.19 L447 325.02 L447.53 324.87 L448.06 324.72 L448.59 324.58 L449.12 324.45 L449.64 324.33 L450.17 324.22 L450.7 324.13 L451.23 324.05 L451.76 323.99 L452.29 323.94 L452.82 323.91 L453.35 323.89 L453.88 323.89 L454.41 323.91 L454.94 323.95 L455.46 324.01 L455.99 324.08 L456.52 324.18 L457.05 324.28 L457.58 324.39 L458.11 324.51 L458.64 324.64 L459.17 324.77 L459.7 324.91 L460.23 325.06 L460.76 325.21 L461.28 325.37 L461.81 325.53 L462.34 325.71 L462.87 325.89 L463.4 326.07 L463.93 326.26 L464.46 326.46 L464.99 326.66 L465.52 326.86 L466.05 327.08 L466.58 327.29 L467.1 327.51 L467.63 327.74 L468.16 327.97 L468.69 328.21 L469.22 328.45 L469.75 328.69 L470.28 328.93 L470.81 329.18 L471.34 329.44 L471.87 329.69 L472.39 329.95 L472.92 330.21 L473.45 330.47 L473.98 330.74 L474.51 331.01 L475.04 331.28 L475.57 331.55 L476.1 331.82 L476.63 332.09 L477.16 332.37 L477.69 332.64 L478.21 332.92 L478.74 333.2 L479.27 333.47 L479.8 333.75 L480.33 334.03 L480.86 334.31 L481.39 334.59 L481.92 334.87 L482.45 335.14 L482.98 335.42 L483.51 335.7 L484.03 335.98 L484.56 336.25 L485.09 336.53 L485.62 336.8 L486.15 337.08 L486.68 337.35 L487.21 337.62 L487.74 337.89 L488.27 338.16 L488.8 338.43 L489.33 338.69 L489.85 338.96 L490.38 339.22 L490.91 339.49 L491.44 339.75 L491.97 340 L492.5 340.26 L493.03 340.52 L493.56 340.77 L494.09 341.02 L494.62 341.27 L495.15 341.52 L495.67 341.77 L496.2 342.01 L496.73 342.26 L497.26 342.5 L497.79 342.74 L498.32 342.97 L498.85 343.21 L499.38 343.44 L499.91 343.67 L500.44 343.9 L500.96 344.13 L501.49 344.35 L502.02 344.58 L502.55 344.8 L503.08 345.01 L503.61 345.23 L504.14 345.45 L504.67 345.66 L505.2 345.87 L505.73 346.08 L506.26 346.28 L506.78 346.49 L507.31 346.69 L507.84 346.89 L508.37 347.09 L508.9 347.29 L509.43 347.48 L509.96 347.68 L510.49 347.87 L511.02 348.06 L511.55 348.24 L512.08 348.43 L512.6 348.61 L513.13 348.79 L513.66 348.97 L514.19 349.15 L514.72 349.33 L515.25 349.5 L515.78 349.68 L516.31 349.85 L516.84 350.02 L517.37 350.19 L517.9 350.35 L518.42 350.52 L518.95 350.68 L519.48 350.84 L520.01 351 L520.54 351.16 L521.07 351.32 L521.6 351.48 L522.13 351.63 L522.66 351.78 L523.19 351.94 L523.72 352.09 L524.24 352.24 L524.77 352.39 L525.3 352.53 L525.83 352.68 L526.36 352.82 L526.89 352.97 L527.42 353.11 L527.95 353.25 L528.48 353.39 L529.01 353.53 L529.53 353.67 L530.06 353.81 L530.59 353.94 L531.12 354.08 L531.65 354.21 L532.18 354.35 L532.71 354.48 L533.24 354.61 L533.77 354.74 L534.3 354.87 L534.83 355 L535.35 355.13 L535.88 355.26 L536.41 355.39 L536.94 355.51 L537.47 355.64 L538 355.76" fill="none" stroke="#e0a021" stroke-width="1.45" stroke-linejoin="round" stroke-linecap="round" />
<path d="M326.9 317.52 L327.43 317.62 L327.96 317.72 L328.49 317.82 L329.02 317.92 L329.55 318.01 L330.07 318.11 L330.6 318.21 L331.13 318.31 L331.66 318.41 L332.19 318.51 L332.72 318.61 L333.25 318.71 L333.78 318.81 L334.31 318.91 L334.84 319.01 L335.37 319.1 L335.89 319.2 L336.42 319.3 L336.95 319.4 L337.48 319.5 L338.01 319.6 L338.54 319.7 L339.07 319.8 L339.6 319.9 L340.13 319.99 L340.66 320.09 L341.18 320.19 L341.71 320.29 L342.24 320.39 L342.77 320.49 L343.3 320.59 L343.83 320.69 L344.36 320.79 L344.89 320.88 L345.42 320.98 L345.95 321.08 L346.48 321.18 L347 321.28 L347.53 321.38 L348.06 321.48 L348.59 321.58 L349.12 321.67 L349.65 321.77 L350.18 321.87 L350.71 321.97 L351.24 322.07 L351.77 322.17 L352.3 322.27 L352.82 322.37 L353.35 322.46 L353.88 322.56 L354.41 322.66 L354.94 322.76 L355.47 322.86 L356 322.96 L356.53 323.06 L357.06 323.16 L357.59 323.25 L358.12 323.35 L358.64 323.45 L359.17 323.55 L359.7 323.65 L360.23 323.75 L360.76 323.84 L361.29 323.94 L361.82 324.04 L362.35 324.14 L362.88 324.24 L363.41 324.34 L363.94 324.44 L364.46 324.53 L364.99 324.63 L365.52 324.73 L366.05 324.83 L366.58 324.93 L367.11 325.03 L367.64 325.12 L368.17 325.22 L368.7 325.32 L369.23 325.42 L369.75 325.52 L370.28 325.62 L370.81 325.71 L371.34 325.81 L371.87 325.91 L372.4 326.01 L372.93 326.11 L373.46 326.2 L373.99 326.3 L374.52 326.4 L375.05 326.5 L375.57 326.6 L376.1 326.69 L376.63 326.79 L377.16 326.89 L377.69 326.99 L378.22 327.09 L378.75 327.18 L379.28 327.28 L379.81 327.38 L380.34 327.48 L380.87 327.57 L381.39 327.67 L381.92 327.77 L382.45 327.87 L382.98 327.97 L383.51 328.06 L384.04 328.16 L384.57 328.26 L385.1 328.36 L385.63 328.45 L386.16 328.55 L386.69 328.65 L387.21 328.75 L387.74 328.84 L388.27 328.94 L388.8 329.04 L389.33 329.13 L389.86 329.23 L390.39 329.33 L390.92 329.43 L391.45 329.52 L391.98 329.62 L392.51 329.72 L393.03 329.81 L393.56 329.91 L394.09 330.01 L394.62 330.11 L395.15 330.2 L395.68 330.3 L396.21 330.4 L396.74 330.49 L397.27 330.59 L397.8 330.68 L398.32 330.78 L398.85 330.88 L399.38 330.97 L399.91 331.07 L400.44 331.17 L400.97 331.26 L401.5 331.36 L402.03 331.46 L402.56 331.55 L403.09 331.65 L403.62 331.74 L404.14 331.84 L404.67 331.93 L405.2 332.03 L405.73 332.13 L406.26 332.22 L406.79 332.32 L407.32 332.41 L407.85 332.51 L408.38 332.6 L408.91 332.7 L409.44 332.79 L409.96 332.89 L410.49 332.98 L411.02 333.08 L411.55 333.17 L412.08 333.27 L412.61 333.36 L413.14 333.46 L413.67 333.55 L414.2 333.64 L414.73 333.74 L415.26 333.83 L415.78 333.93 L416.31 334.02 L416.84 334.11 L417.37 334.21 L417.9 334.3 L418.43 334.39 L418.96 334.49 L419.49 334.58 L420.02 334.67 L420.55 334.76 L421.07 334.86 L421.6 334.95 L422.13 335.04 L422.66 335.13 L423.19 335.22 L423.72 335.32 L424.25 335.41 L424.78 335.5 L425.31 335.59 L425.84 335.68 L426.37 335.77 L426.89 335.86 L427.42 335.95 L427.95 336.04 L428.48 336.13 L429.01 336.22 L429.54 336.31 L430.07 336.4 L430.6 336.49 L431.13 336.57 L431.66 336.66 L432.19 336.75 L432.71 336.84 L433.24 336.92 L433.77 337.01 L434.3 337.1 L434.83 337.18 L435.36 337.27 L435.89 337.35 L436.42 337.44 L436.95 337.52 L437.48 337.61 L438.01 337.69 L438.53 337.77 L439.06 337.86 L439.59 337.94 L440.12 338.02 L440.65 338.1 L441.18 338.18 L441.71 338.26 L442.24 338.34 L442.77 338.42 L443.3 338.5 L443.83 338.57 L444.35 338.65 L444.88 338.72 L445.41 338.8 L445.94 338.87 L446.47 338.95 L447 339.02 L447.53 339.09 L448.06 339.16 L448.59 339.23 L449.12 339.3 L449.64 339.37 L450.17 339.43 L450.7 339.5 L451.23 339.56 L451.76 339.62 L452.29 339.68 L452.82 339.74 L453.35 339.8 L453.88 339.85 L454.41 339.91 L454.94 339.96 L455.46 340.01 L455.99 340.06 L456.52 340.1 L457.05 340.15 L457.58 340.19 L458.11 340.23 L458.64 340.26 L459.17 340.3 L459.7 340.33 L460.23 340.35 L460.76 340.38 L461.28 340.39 L461.81 340.41 L462.34 340.42 L462.87 340.43 L463.4 340.43 L463.93 340.43 L464.46 340.42 L464.99 340.4 L465.52 340.38 L466.05 340.36 L466.58 340.32 L467.1 340.28 L467.63 340.23 L468.16 340.17 L468.69 340.1 L469.22 340.02 L469.75 339.93 L470.28 339.83 L470.81 339.71 L471.34 339.58 L471.87 339.43 L472.39 339.26 L472.92 339.07 L473.45 338.86 L473.98 338.63 L474.51 338.37 L475.04 338.09 L475.57 337.77 L476.1 337.41 L476.63 337.02 L477.16 336.58 L477.69 336.1 L478.21 335.56 L478.74 334.97 L479.27 334.31 L479.8 333.58 L480.33 332.78 L480.86 331.89 L481.39 330.92 L481.92 329.85 L482.45 328.67 L482.98 327.38 L483.51 325.97 L484.03 324.45 L484.56 322.79 L485.09 321 L485.62 319.09 L486.15 317.06 L486.68 314.92 L487.21 312.7 L487.74 310.42 L488.27 308.13 L488.8 305.89 L489.33 303.76 L489.85 301.83 L490.38 300.17 L490.91 298.87 L491.44 298 L491.97 297.62 L492.5 297.72 L493.03 298.1 L493.56 298.74 L494.09 299.62 L494.62 300.73 L495.15 302.02 L495.67 303.47 L496.2 305.06 L496.73 306.74 L497.26 308.5 L497.79 310.3 L498.32 312.11 L498.85 313.92 L499.38 315.72 L499.91 317.48 L500.44 319.19 L500.96 320.86 L501.49 322.46 L502.02 324 L502.55 325.48 L503.08 326.88 L503.61 328.23 L504.14 329.51 L504.67 330.72 L505.2 331.87 L505.73 332.96 L506.26 333.99 L506.78 334.97 L507.31 335.9 L507.84 336.77 L508.37 337.6 L508.9 338.38 L509.43 339.13 L509.96 339.83 L510.49 340.5 L511.02 341.13 L511.55 341.73 L512.08 342.3 L512.6 342.84 L513.13 343.35 L513.66 343.84 L514.19 344.31 L514.72 344.76 L515.25 345.18 L515.78 345.59 L516.31 345.98 L516.84 346.35 L517.37 346.71 L517.9 347.06 L518.42 347.39 L518.95 347.71 L519.48 348.02 L520.01 348.32 L520.54 348.61 L521.07 348.89 L521.6 349.16 L522.13 349.42 L522.66 349.68 L523.19 349.92 L523.72 350.16 L524.24 350.4 L524.77 350.63 L525.3 350.85 L525.83 351.07 L526.36 351.29 L526.89 351.49 L527.42 351.7 L527.95 351.9 L528.48 352.09 L529.01 352.29 L529.53 352.48 L530.06 352.66 L530.59 352.84 L531.12 353.02 L531.65 353.2 L532.18 353.37 L532.71 353.54 L533.24 353.71 L533.77 353.88 L534.3 354.04 L534.83 354.2 L535.35 354.36 L535.88 354.52 L536.41 354.68 L536.94 354.83 L537.47 354.98 L538 355.13" fill="none" stroke="#22c8d6" stroke-width="1.45" stroke-linejoin="round" stroke-linecap="round" />
<path d="M326.9 316.94 L327.43 317.03 L327.96 317.12 L328.49 317.21 L329.02 317.3 L329.55 317.39 L330.07 317.48 L330.6 317.57 L331.13 317.66 L331.66 317.74 L332.19 317.83 L332.72 317.92 L333.25 318.01 L333.78 318.09 L334.31 318.18 L334.84 318.27 L335.37 318.35 L335.89 318.44 L336.42 318.52 L336.95 318.61 L337.48 318.69 L338.01 318.78 L338.54 318.86 L339.07 318.94 L339.6 319.03 L340.13 319.11 L340.66 319.19 L341.18 319.27 L341.71 319.35 L342.24 319.43 L342.77 319.51 L343.3 319.59 L343.83 319.67 L344.36 319.75 L344.89 319.83 L345.42 319.9 L345.95 319.98 L346.48 320.05 L347 320.13 L347.53 320.2 L348.06 320.28 L348.59 320.35 L349.12 320.42 L349.65 320.49 L350.18 320.56 L350.71 320.63 L351.24 320.7 L351.77 320.76 L352.3 320.83 L352.82 320.89 L353.35 320.96 L353.88 321.02 L354.41 321.08 L354.94 321.14 L355.47 321.19 L356 321.25 L356.53 321.3 L357.06 321.35 L357.59 321.4 L358.12 321.45 L358.64 321.49 L359.17 321.53 L359.7 321.57 L360.23 321.61 L360.76 321.64 L361.29 321.67 L361.82 321.69 L362.35 321.71 L362.88 321.73 L363.41 321.74 L363.94 321.75 L364.46 321.75 L364.99 321.74 L365.52 321.73 L366.05 321.72 L366.58 321.69 L367.11 321.66 L367.64 321.62 L368.17 321.57 L368.7 321.51 L369.23 321.44 L369.75 321.36 L370.28 321.27 L370.81 321.17 L371.34 321.06 L371.87 320.93 L372.4 320.79 L372.93 320.63 L373.46 320.46 L373.99 320.28 L374.52 320.08 L375.05 319.86 L375.57 319.62 L376.1 319.37 L376.63 319.09 L377.16 318.8 L377.69 318.49 L378.22 318.16 L378.75 317.81 L379.28 317.43 L379.81 317.04 L380.34 316.63 L380.87 316.19 L381.39 315.74 L381.92 315.26 L382.45 314.76 L382.98 314.25 L383.51 313.71 L384.04 313.16 L384.57 312.59 L385.1 312.01 L385.63 311.41 L386.16 310.8 L386.69 310.17 L387.21 309.55 L387.74 308.91 L388.27 308.28 L388.8 307.65 L389.33 307.02 L389.86 306.41 L390.39 305.81 L390.92 305.24 L391.45 304.69 L391.98 304.17 L392.51 303.69 L393.03 303.26 L393.56 302.88 L394.09 302.55 L394.62 302.29 L395.15 302.09 L395.68 301.97 L396.21 301.91 L396.74 301.94 L397.27 302.05 L397.8 302.25 L398.32 302.54 L398.85 302.93 L399.38 303.4 L399.91 303.95 L400.44 304.57 L400.97 305.26 L401.5 306.01 L402.03 306.8 L402.56 307.63 L403.09 308.5 L403.62 309.38 L404.14 310.29 L404.67 311.2 L405.2 312.12 L405.73 313.03 L406.26 313.95 L406.79 314.85 L407.32 315.74 L407.85 316.61 L408.38 317.46 L408.91 318.3 L409.44 319.11 L409.96 319.9 L410.49 320.67 L411.02 321.41 L411.55 322.12 L412.08 322.81 L412.61 323.47 L413.14 324.11 L413.67 324.72 L414.2 325.31 L414.73 325.87 L415.26 326.4 L415.78 326.92 L416.31 327.4 L416.84 327.87 L417.37 328.32 L417.9 328.74 L418.43 329.15 L418.96 329.53 L419.49 329.9 L420.02 330.26 L420.55 330.59 L421.07 330.91 L421.6 331.22 L422.13 331.51 L422.66 331.79 L423.19 332.06 L423.72 332.32 L424.25 332.56 L424.78 332.8 L425.31 333.03 L425.84 333.25 L426.37 333.46 L426.89 333.67 L427.42 333.87 L427.95 334.06 L428.48 334.25 L429.01 334.43 L429.54 334.61 L430.07 334.79 L430.6 334.96 L431.13 335.12 L431.66 335.29 L432.19 335.45 L432.71 335.6 L433.24 335.76 L433.77 335.91 L434.3 336.06 L434.83 336.2 L435.36 336.35 L435.89 336.49 L436.42 336.63 L436.95 336.77 L437.48 336.91 L438.01 337.05 L438.53 337.18 L439.06 337.32 L439.59 337.45 L440.12 337.58 L440.65 337.71 L441.18 337.84 L441.71 337.97 L442.24 338.1 L442.77 338.22 L443.3 338.35 L443.83 338.47 L444.35 338.6 L444.88 338.72 L445.41 338.84 L445.94 338.97 L446.47 339.09 L447 339.21 L447.53 339.33 L448.06 339.45 L448.59 339.57 L449.12 339.68 L449.64 339.8 L450.17 339.92 L450.7 340.04 L451.23 340.15 L451.76 340.27 L452.29 340.38 L452.82 340.5 L453.35 340.61 L453.88 340.73 L454.41 340.84 L454.94 340.96 L455.46 341.07 L455.99 341.18 L456.52 341.29 L457.05 341.41 L457.58 341.52 L458.11 341.63 L458.64 341.74 L459.17 341.85 L459.7 341.96 L460.23 342.07 L460.76 342.18 L461.28 342.29 L461.81 342.4 L462.34 342.51 L462.87 342.62 L463.4 342.73 L463.93 342.84 L464.46 342.95 L464.99 343.06 L465.52 343.17 L466.05 343.27 L466.58 343.38 L467.1 343.49 L467.63 343.6 L468.16 343.7 L468.69 343.81 L469.22 343.92 L469.75 344.02 L470.28 344.13 L470.81 344.24 L471.34 344.34 L471.87 344.45 L472.39 344.56 L472.92 344.66 L473.45 344.77 L473.98 344.87 L474.51 344.98 L475.04 345.09 L475.57 345.19 L476.1 345.3 L476.63 345.4 L477.16 345.51 L477.69 345.61 L478.21 345.72 L478.74 345.82 L479.27 345.93 L479.8 346.03 L480.33 346.14 L480.86 346.24 L481.39 346.34 L481.92 346.45 L482.45 346.55 L482.98 346.66 L483.51 346.76 L484.03 346.86 L484.56 346.97 L485.09 347.07 L485.62 347.18 L486.15 347.28 L486.68 347.38 L487.21 347.49 L487.74 347.59 L488.27 347.69 L488.8 347.8 L489.33 347.9 L489.85 348 L490.38 348.11 L490.91 348.21 L491.44 348.31 L491.97 348.42 L492.5 348.52 L493.03 348.62 L493.56 348.72 L494.09 348.83 L494.62 348.93 L495.15 349.03 L495.67 349.14 L496.2 349.24 L496.73 349.34 L497.26 349.44 L497.79 349.55 L498.32 349.65 L498.85 349.75 L499.38 349.85 L499.91 349.95 L500.44 350.06 L500.96 350.16 L501.49 350.26 L502.02 350.36 L502.55 350.47 L503.08 350.57 L503.61 350.67 L504.14 350.77 L504.67 350.87 L505.2 350.98 L505.73 351.08 L506.26 351.18 L506.78 351.28 L507.31 351.38 L507.84 351.48 L508.37 351.59 L508.9 351.69 L509.43 351.79 L509.96 351.89 L510.49 351.99 L511.02 352.09 L511.55 352.2 L512.08 352.3 L512.6 352.4 L513.13 352.5 L513.66 352.6 L514.19 352.7 L514.72 352.81 L515.25 352.91 L515.78 353.01 L516.31 353.11 L516.84 353.21 L517.37 353.31 L517.9 353.41 L518.42 353.51 L518.95 353.62 L519.48 353.72 L520.01 353.82 L520.54 353.92 L521.07 354.02 L521.6 354.12 L522.13 354.22 L522.66 354.32 L523.19 354.43 L523.72 354.53 L524.24 354.63 L524.77 354.73 L525.3 354.83 L525.83 354.93 L526.36 355.03 L526.89 355.13 L527.42 355.23 L527.95 355.33 L528.48 355.44 L529.01 355.54 L529.53 355.64 L530.06 355.74 L530.59 355.84 L531.12 355.94 L531.65 356.04 L532.18 356.14 L532.71 356.24 L533.24 356.34 L533.77 356.44 L534.3 356.55 L534.83 356.65 L535.35 356.75 L535.88 356.85 L536.41 356.95 L536.94 357.05 L537.47 357.15 L538 357.25" fill="none" stroke="#1aa35a" stroke-width="1.45" stroke-linejoin="round" stroke-linecap="round" />
<path d="M326.9 315.32 L327.43 315.33 L327.96 315.33 L328.49 315.34 L329.02 315.33 L329.55 315.33 L330.07 315.32 L330.6 315.3 L331.13 315.29 L331.66 315.27 L332.19 315.24 L332.72 315.22 L333.25 315.19 L333.78 315.15 L334.31 315.12 L334.84 315.08 L335.37 315.03 L335.89 314.99 L336.42 314.94 L336.95 314.89 L337.48 314.83 L338.01 314.77 L338.54 314.72 L339.07 314.65 L339.6 314.59 L340.13 314.53 L340.66 314.46 L341.18 314.39 L341.71 314.32 L342.24 314.25 L342.77 314.18 L343.3 314.11 L343.83 314.04 L344.36 313.97 L344.89 313.91 L345.42 313.84 L345.95 313.77 L346.48 313.71 L347 313.65 L347.53 313.59 L348.06 313.53 L348.59 313.48 L349.12 313.44 L349.65 313.39 L350.18 313.36 L350.71 313.33 L351.24 313.3 L351.77 313.29 L352.3 313.28 L352.82 313.28 L353.35 313.28 L353.88 313.3 L354.41 313.32 L354.94 313.35 L355.47 313.4 L356 313.45 L356.53 313.52 L357.06 313.59 L357.59 313.68 L358.12 313.77 L358.64 313.88 L359.17 314.01 L359.7 314.15 L360.23 314.3 L360.76 314.46 L361.29 314.64 L361.82 314.82 L362.35 315.02 L362.88 315.23 L363.41 315.46 L363.94 315.69 L364.46 315.93 L364.99 316.17 L365.52 316.43 L366.05 316.69 L366.58 316.96 L367.11 317.23 L367.64 317.51 L368.17 317.79 L368.7 318.08 L369.23 318.36 L369.75 318.65 L370.28 318.94 L370.81 319.24 L371.34 319.53 L371.87 319.82 L372.4 320.11 L372.93 320.4 L373.46 320.69 L373.99 320.98 L374.52 321.26 L375.05 321.54 L375.57 321.82 L376.1 322.1 L376.63 322.38 L377.16 322.65 L377.69 322.91 L378.22 323.18 L378.75 323.44 L379.28 323.69 L379.81 323.94 L380.34 324.19 L380.87 324.43 L381.39 324.67 L381.92 324.9 L382.45 325.13 L382.98 325.36 L383.51 325.58 L384.04 325.8 L384.57 326.01 L385.1 326.22 L385.63 326.42 L386.16 326.62 L386.69 326.81 L387.21 327 L387.74 327.19 L388.27 327.37 L388.8 327.55 L389.33 327.73 L389.86 327.9 L390.39 328.07 L390.92 328.23 L391.45 328.4 L391.98 328.56 L392.51 328.71 L393.03 328.86 L393.56 329.01 L394.09 329.16 L394.62 329.31 L395.15 329.45 L395.68 329.59 L396.21 329.73 L396.74 329.86 L397.27 330 L397.8 330.13 L398.32 330.26 L398.85 330.39 L399.38 330.52 L399.91 330.64 L400.44 330.77 L400.97 330.89 L401.5 331.01 L402.03 331.13 L402.56 331.25 L403.09 331.37 L403.62 331.49 L404.14 331.6 L404.67 331.72 L405.2 331.83 L405.73 331.95 L406.26 332.06 L406.79 332.17 L407.32 332.28 L407.85 332.4 L408.38 332.51 L408.91 332.62 L409.44 332.73 L409.96 332.84 L410.49 332.94 L411.02 333.05 L411.55 333.16 L412.08 333.27 L412.61 333.38 L413.14 333.48 L413.67 333.59 L414.2 333.7 L414.73 333.8 L415.26 333.91 L415.78 334.02 L416.31 334.12 L416.84 334.23 L417.37 334.33 L417.9 334.44 L418.43 334.54 L418.96 334.65 L419.49 334.75 L420.02 334.86 L420.55 334.96 L421.07 335.07 L421.6 335.17 L422.13 335.28 L422.66 335.38 L423.19 335.48 L423.72 335.59 L424.25 335.69 L424.78 335.79 L425.31 335.9 L425.84 336 L426.37 336.1 L426.89 336.21 L427.42 336.31 L427.95 336.41 L428.48 336.52 L429.01 336.62 L429.54 336.72 L430.07 336.83 L430.6 336.93 L431.13 337.03 L431.66 337.13 L432.19 337.24 L432.71 337.34 L433.24 337.44 L433.77 337.54 L434.3 337.65 L434.83 337.75 L435.36 337.85 L435.89 337.95 L436.42 338.06 L436.95 338.16 L437.48 338.26 L438.01 338.36 L438.53 338.46 L439.06 338.57 L439.59 338.67 L440.12 338.77 L440.65 338.87 L441.18 338.97 L441.71 339.08 L442.24 339.18 L442.77 339.28 L443.3 339.38 L443.83 339.48 L444.35 339.58 L444.88 339.68 L445.41 339.79 L445.94 339.89 L446.47 339.99 L447 340.09 L447.53 340.19 L448.06 340.29 L448.59 340.39 L449.12 340.5 L449.64 340.6 L450.17 340.7 L450.7 340.8 L451.23 340.9 L451.76 341 L452.29 341.1 L452.82 341.2 L453.35 341.31 L453.88 341.41 L454.41 341.51 L454.94 341.61 L455.46 341.71 L455.99 341.81 L456.52 341.91 L457.05 342.01 L457.58 342.11 L458.11 342.21 L458.64 342.32 L459.17 342.42 L459.7 342.52 L460.23 342.62 L460.76 342.72 L461.28 342.82 L461.81 342.92 L462.34 343.02 L462.87 343.12 L463.4 343.22 L463.93 343.32 L464.46 343.42 L464.99 343.53 L465.52 343.63 L466.05 343.73 L466.58 343.83 L467.1 343.93 L467.63 344.03 L468.16 344.13 L468.69 344.23 L469.22 344.33 L469.75 344.43 L470.28 344.53 L470.81 344.63 L471.34 344.73 L471.87 344.83 L472.39 344.93 L472.92 345.03 L473.45 345.13 L473.98 345.24 L474.51 345.34 L475.04 345.44 L475.57 345.54 L476.1 345.64 L476.63 345.74 L477.16 345.84 L477.69 345.94 L478.21 346.04 L478.74 346.14 L479.27 346.24 L479.8 346.34 L480.33 346.44 L480.86 346.54 L481.39 346.64 L481.92 346.74 L482.45 346.84 L482.98 346.94 L483.51 347.04 L484.03 347.14 L484.56 347.24 L485.09 347.34 L485.62 347.44 L486.15 347.54 L486.68 347.64 L487.21 347.74 L487.74 347.84 L488.27 347.94 L488.8 348.05 L489.33 348.15 L489.85 348.25 L490.38 348.35 L490.91 348.45 L491.44 348.55 L491.97 348.65 L492.5 348.75 L493.03 348.85 L493.56 348.95 L494.09 349.05 L494.62 349.15 L495.15 349.25 L495.67 349.35 L496.2 349.45 L496.73 349.55 L497.26 349.65 L497.79 349.75 L498.32 349.85 L498.85 349.95 L499.38 350.05 L499.91 350.15 L500.44 350.25 L500.96 350.35 L501.49 350.45 L502.02 350.55 L502.55 350.65 L503.08 350.75 L503.61 350.85 L504.14 350.95 L504.67 351.05 L505.2 351.15 L505.73 351.25 L506.26 351.35 L506.78 351.45 L507.31 351.55 L507.84 351.65 L508.37 351.75 L508.9 351.85 L509.43 351.95 L509.96 352.05 L510.49 352.15 L511.02 352.25 L511.55 352.35 L512.08 352.45 L512.6 352.55 L513.13 352.65 L513.66 352.75 L514.19 352.85 L514.72 352.95 L515.25 353.05 L515.78 353.15 L516.31 353.25 L516.84 353.35 L517.37 353.45 L517.9 353.55 L518.42 353.65 L518.95 353.75 L519.48 353.85 L520.01 353.95 L520.54 354.05 L521.07 354.15 L521.6 354.25 L522.13 354.35 L522.66 354.45 L523.19 354.55 L523.72 354.65 L524.24 354.75 L524.77 354.85 L525.3 354.95 L525.83 355.05 L526.36 355.15 L526.89 355.25 L527.42 355.35 L527.95 355.45 L528.48 355.55 L529.01 355.65 L529.53 355.75 L530.06 355.85 L530.59 355.95 L531.12 356.05 L531.65 356.15 L532.18 356.25 L532.71 356.35 L533.24 356.45 L533.77 356.55 L534.3 356.65 L534.83 356.75 L535.35 356.85 L535.88 356.95 L536.41 357.05 L536.94 357.15 L537.47 357.25 L538 357.35" fill="none" stroke="#2266dd" stroke-width="1.45" stroke-linejoin="round" stroke-linecap="round" />
<path d="M326.9 314.29 L327.43 314.27 L327.96 314.25 L328.49 314.22 L329.02 314.19 L329.55 314.15 L330.07 314.11 L330.6 314.07 L331.13 314.02 L331.66 313.97 L332.19 313.91 L332.72 313.84 L333.25 313.78 L333.78 313.7 L334.31 313.63 L334.84 313.55 L335.37 313.46 L335.89 313.38 L336.42 313.29 L336.95 313.19 L337.48 313.1 L338.01 313 L338.54 312.89 L339.07 312.79 L339.6 312.68 L340.13 312.57 L340.66 312.47 L341.18 312.36 L341.71 312.24 L342.24 312.13 L342.77 312.02 L343.3 311.91 L343.83 311.81 L344.36 311.7 L344.89 311.59 L345.42 311.49 L345.95 311.39 L346.48 311.29 L347 311.19 L347.53 311.1 L348.06 311.01 L348.59 310.93 L349.12 310.85 L349.65 310.77 L350.18 310.71 L350.71 310.64 L351.24 310.58 L351.77 310.53 L352.3 310.48 L352.82 310.44 L353.35 310.4 L353.88 310.37 L354.41 310.35 L354.94 310.33 L355.47 310.32 L356 310.31 L356.53 310.32 L357.06 310.35 L357.59 310.38 L358.12 310.43 L358.64 310.5 L359.17 310.57 L359.7 310.66 L360.23 310.75 L360.76 310.86 L361.29 310.97 L361.82 311.09 L362.35 311.22 L362.88 311.35 L363.41 311.48 L363.94 311.61 L364.46 311.75 L364.99 311.88 L365.52 312.01 L366.05 312.14 L366.58 312.26 L367.11 312.37 L367.64 312.47 L368.17 312.57 L368.7 312.65 L369.23 312.72 L369.75 312.78 L370.28 312.82 L370.81 312.85 L371.34 312.86 L371.87 312.86 L372.4 312.84 L372.93 312.8 L373.46 312.73 L373.99 312.65 L374.52 312.55 L375.05 312.43 L375.57 312.29 L376.1 312.13 L376.63 311.94 L377.16 311.73 L377.69 311.51 L378.22 311.25 L378.75 310.98 L379.28 310.69 L379.81 310.37 L380.34 310.03 L380.87 309.67 L381.39 309.29 L381.92 308.89 L382.45 308.47 L382.98 308.03 L383.51 307.58 L384.04 307.11 L384.57 306.62 L385.1 306.13 L385.63 305.62 L386.16 305.1 L386.69 304.58 L387.21 304.05 L387.74 303.52 L388.27 303 L388.8 302.48 L389.33 301.97 L389.86 301.47 L390.39 300.99 L390.92 300.54 L391.45 300.11 L391.98 299.71 L392.51 299.35 L393.03 299.03 L393.56 298.76 L394.09 298.53 L394.62 298.35 L395.15 298.23 L395.68 298.16 L396.21 298.15 L396.74 298.2 L397.27 298.33 L397.8 298.54 L398.32 298.84 L398.85 299.23 L399.38 299.71 L399.91 300.25 L400.44 300.87 L400.97 301.55 L401.5 302.27 L402.03 303.05 L402.56 303.86 L403.09 304.69 L403.62 305.55 L404.14 306.42 L404.67 307.3 L405.2 308.18 L405.73 309.05 L406.26 309.92 L406.79 310.77 L407.32 311.61 L407.85 312.42 L408.38 313.22 L408.91 313.99 L409.44 314.74 L409.96 315.47 L410.49 316.16 L411.02 316.84 L411.55 317.48 L412.08 318.1 L412.61 318.7 L413.14 319.26 L413.67 319.8 L414.2 320.32 L414.73 320.81 L415.26 321.28 L415.78 321.73 L416.31 322.15 L416.84 322.54 L417.37 322.92 L417.9 323.27 L418.43 323.61 L418.96 323.92 L419.49 324.21 L420.02 324.48 L420.55 324.73 L421.07 324.96 L421.6 325.18 L422.13 325.37 L422.66 325.55 L423.19 325.71 L423.72 325.85 L424.25 325.97 L424.78 326.08 L425.31 326.17 L425.84 326.24 L426.37 326.3 L426.89 326.34 L427.42 326.37 L427.95 326.38 L428.48 326.37 L429.01 326.36 L429.54 326.32 L430.07 326.28 L430.6 326.22 L431.13 326.14 L431.66 326.06 L432.19 325.96 L432.71 325.85 L433.24 325.74 L433.77 325.61 L434.3 325.47 L434.83 325.32 L435.36 325.16 L435.89 325 L436.42 324.83 L436.95 324.65 L437.48 324.47 L438.01 324.28 L438.53 324.09 L439.06 323.9 L439.59 323.7 L440.12 323.51 L440.65 323.31 L441.18 323.11 L441.71 322.92 L442.24 322.73 L442.77 322.54 L443.3 322.36 L443.83 322.18 L444.35 322.01 L444.88 321.85 L445.41 321.69 L445.94 321.54 L446.47 321.41 L447 321.28 L447.53 321.17 L448.06 321.07 L448.59 320.98 L449.12 320.9 L449.64 320.84 L450.17 320.79 L450.7 320.76 L451.23 320.75 L451.76 320.74 L452.29 320.76 L452.82 320.79 L453.35 320.84 L453.88 320.91 L454.41 320.99 L454.94 321.07 L455.46 321.15 L455.99 321.23 L456.52 321.31 L457.05 321.39 L457.58 321.48 L458.11 321.56 L458.64 321.64 L459.17 321.72 L459.7 321.8 L460.23 321.88 L460.76 321.96 L461.28 322.03 L461.81 322.11 L462.34 322.18 L462.87 322.25 L463.4 322.31 L463.93 322.38 L464.46 322.44 L464.99 322.49 L465.52 322.54 L466.05 322.58 L466.58 322.62 L467.1 322.65 L467.63 322.67 L468.16 322.68 L468.69 322.68 L469.22 322.67 L469.75 322.64 L470.28 322.6 L470.81 322.54 L471.34 322.46 L471.87 322.36 L472.39 322.24 L472.92 322.09 L473.45 321.92 L473.98 321.71 L474.51 321.47 L475.04 321.19 L475.57 320.87 L476.1 320.51 L476.63 320.11 L477.16 319.65 L477.69 319.15 L478.21 318.59 L478.74 317.97 L479.27 317.29 L479.8 316.55 L480.33 315.74 L480.86 314.87 L481.39 313.93 L481.92 312.92 L482.45 311.84 L482.98 310.69 L483.51 309.48 L484.03 308.21 L484.56 306.89 L485.09 305.52 L485.62 304.11 L486.15 302.68 L486.68 301.24 L487.21 299.81 L487.74 298.42 L488.27 297.09 L488.8 295.85 L489.33 294.74 L489.85 293.78 L490.38 293.01 L490.91 292.46 L491.44 292.15 L491.97 292.1 L492.5 292.31 L493.03 292.74 L493.56 293.36 L494.09 294.18 L494.62 295.16 L495.15 296.3 L495.67 297.58 L496.2 298.98 L496.73 300.48 L497.26 302.05 L497.79 303.67 L498.32 305.34 L498.85 307.02 L499.38 308.72 L499.91 310.41 L500.44 312.08 L500.96 313.72 L501.49 315.33 L502.02 316.91 L502.55 318.44 L503.08 319.92 L503.61 321.36 L504.14 322.74 L504.67 324.08 L505.2 325.36 L505.73 326.58 L506.26 327.76 L506.78 328.88 L507.31 329.95 L507.84 330.98 L508.37 331.96 L508.9 332.89 L509.43 333.77 L509.96 334.62 L510.49 335.42 L511.02 336.19 L511.55 336.92 L512.08 337.61 L512.6 338.27 L513.13 338.9 L513.66 339.5 L514.19 340.08 L514.72 340.63 L515.25 341.15 L515.78 341.65 L516.31 342.13 L516.84 342.59 L517.37 343.04 L517.9 343.47 L518.42 343.88 L518.95 344.27 L519.48 344.66 L520.01 345.03 L520.54 345.39 L521.07 345.74 L521.6 346.07 L522.13 346.4 L522.66 346.72 L523.19 347.03 L523.72 347.34 L524.24 347.63 L524.77 347.92 L525.3 348.21 L525.83 348.48 L526.36 348.75 L526.89 349.02 L527.42 349.28 L527.95 349.54 L528.48 349.79 L529.01 350.03 L529.53 350.28 L530.06 350.51 L530.59 350.75 L531.12 350.98 L531.65 351.2 L532.18 351.43 L532.71 351.64 L533.24 351.86 L533.77 352.07 L534.3 352.28 L534.83 352.49 L535.35 352.69 L535.88 352.89 L536.41 353.09 L536.94 353.29 L537.47 353.48 L538 353.67" fill="none" stroke="#f42c30" stroke-width="1.55" stroke-linejoin="round" stroke-linecap="round" />
<text x="372" y="227.6" font-size="7.5" font-weight="bold" text-anchor="middle" fill="#111" stroke="#111" stroke-width="0.18" >730.6 eV</text>
<line x1="366.6" y1="228.8" x2="359.44" y2="234.56" stroke="#111" stroke-width="1.0"/>
<path d="M356.4 237 L358.64 232.76 L361.02 235.72 Z" fill="#111"/>
<text x="427.6" y="218.8" font-size="7.5" font-weight="bold" text-anchor="middle" fill="#111" stroke="#111" stroke-width="0.18" >724.9 eV</text>
<text x="427.6" y="228.4" font-size="7.5" font-weight="bold" text-anchor="middle" fill="#111" stroke="#111" stroke-width="0.18" >(Fe 2p<tspan font-size="5.4" dy="0.4" stroke-width="0.12">1/2</tspan>)</text>
<line x1="412.3" y1="219.6" x2="402.63" y2="221.46" stroke="#111" stroke-width="1.0"/>
<path d="M398.8 222.2 L402.76 219.5 L403.48 223.23 Z" fill="#111"/>
<text x="464.5" y="234.3" font-size="7.5" font-weight="bold" text-anchor="middle" fill="#111" stroke="#111" stroke-width="0.18" >716.7 eV</text>
<line x1="456.6" y1="238.2" x2="455.29" y2="241.92" stroke="#111" stroke-width="1.0"/>
<path d="M454 245.6 L453.67 240.82 L457.25 242.08 Z" fill="#111"/>
<text x="520.3" y="221.1" font-size="7.5" font-weight="bold" text-anchor="middle" fill="#111" stroke="#111" stroke-width="0.18" >711.5 eV</text>
<text x="520.3" y="230.7" font-size="7.5" font-weight="bold" text-anchor="middle" fill="#111" stroke="#111" stroke-width="0.18" >(Fe 2p<tspan font-size="5.4" dy="0.4" stroke-width="0.12">3/2</tspan>)</text>
<line x1="502.4" y1="221.5" x2="497.78" y2="221.93" stroke="#111" stroke-width="1.0"/>
<path d="M493.9 222.3 L498.1 220 L498.46 223.78 Z" fill="#111"/>
<text x="538.6" y="263.4" font-size="8.2" font-weight="bold" text-anchor="end" fill="#111" stroke="#111" stroke-width="0.18" >FNBV-3</text>
<text x="385.6" y="270.8" font-size="7.5" font-weight="bold" text-anchor="middle" fill="#111" stroke="#111" stroke-width="0.18" >725.2 eV</text>
<text x="385.6" y="280.2" font-size="7.5" font-weight="bold" text-anchor="middle" fill="#111" stroke="#111" stroke-width="0.18" >(Fe 2p<tspan font-size="5.4" dy="0.4" stroke-width="0.12">1/2</tspan>)</text>
<line x1="392.2" y1="283.3" x2="394.34" y2="292.8" stroke="#111" stroke-width="1.0"/>
<path d="M395.2 296.6 L392.38 292.73 L396.09 291.89 Z" fill="#111"/>
<text x="351.7" y="298.1" font-size="7.5" font-weight="bold" text-anchor="middle" fill="#111" stroke="#111" stroke-width="0.18" >730.9 eV</text>
<line x1="349.9" y1="300.9" x2="352.56" y2="306.66" stroke="#111" stroke-width="1.0"/>
<path d="M354.2 310.2 L350.63 307 L354.08 305.41 Z" fill="#111"/>
<text x="463" y="278.3" font-size="7.5" font-weight="bold" text-anchor="middle" fill="#111" stroke="#111" stroke-width="0.18" >711.5 eV</text>
<text x="463" y="287.9" font-size="7.5" font-weight="bold" text-anchor="middle" fill="#111" stroke="#111" stroke-width="0.18" >(Fe 2p<tspan font-size="5.4" dy="0.4" stroke-width="0.12">3/2</tspan>)</text>
<line x1="479.6" y1="280.6" x2="488.17" y2="286.97" stroke="#111" stroke-width="1.0"/>
<path d="M491.3 289.3 L486.64 288.2 L488.9 285.15 Z" fill="#111"/>
<text x="447.5" y="306.2" font-size="7.5" font-weight="bold" text-anchor="middle" fill="#111" stroke="#111" stroke-width="0.18" >716.6 eV</text>
<line x1="449" y1="308.8" x2="453.28" y2="317.5" stroke="#111" stroke-width="1.0"/>
<path d="M455 321 L451.35 317.89 L454.76 316.21 Z" fill="#111"/>
<text x="537" y="350.7" font-size="8.2" font-weight="bold" text-anchor="end" fill="#111" stroke="#111" stroke-width="0.18" >FN</text>
</svg></body></html>
